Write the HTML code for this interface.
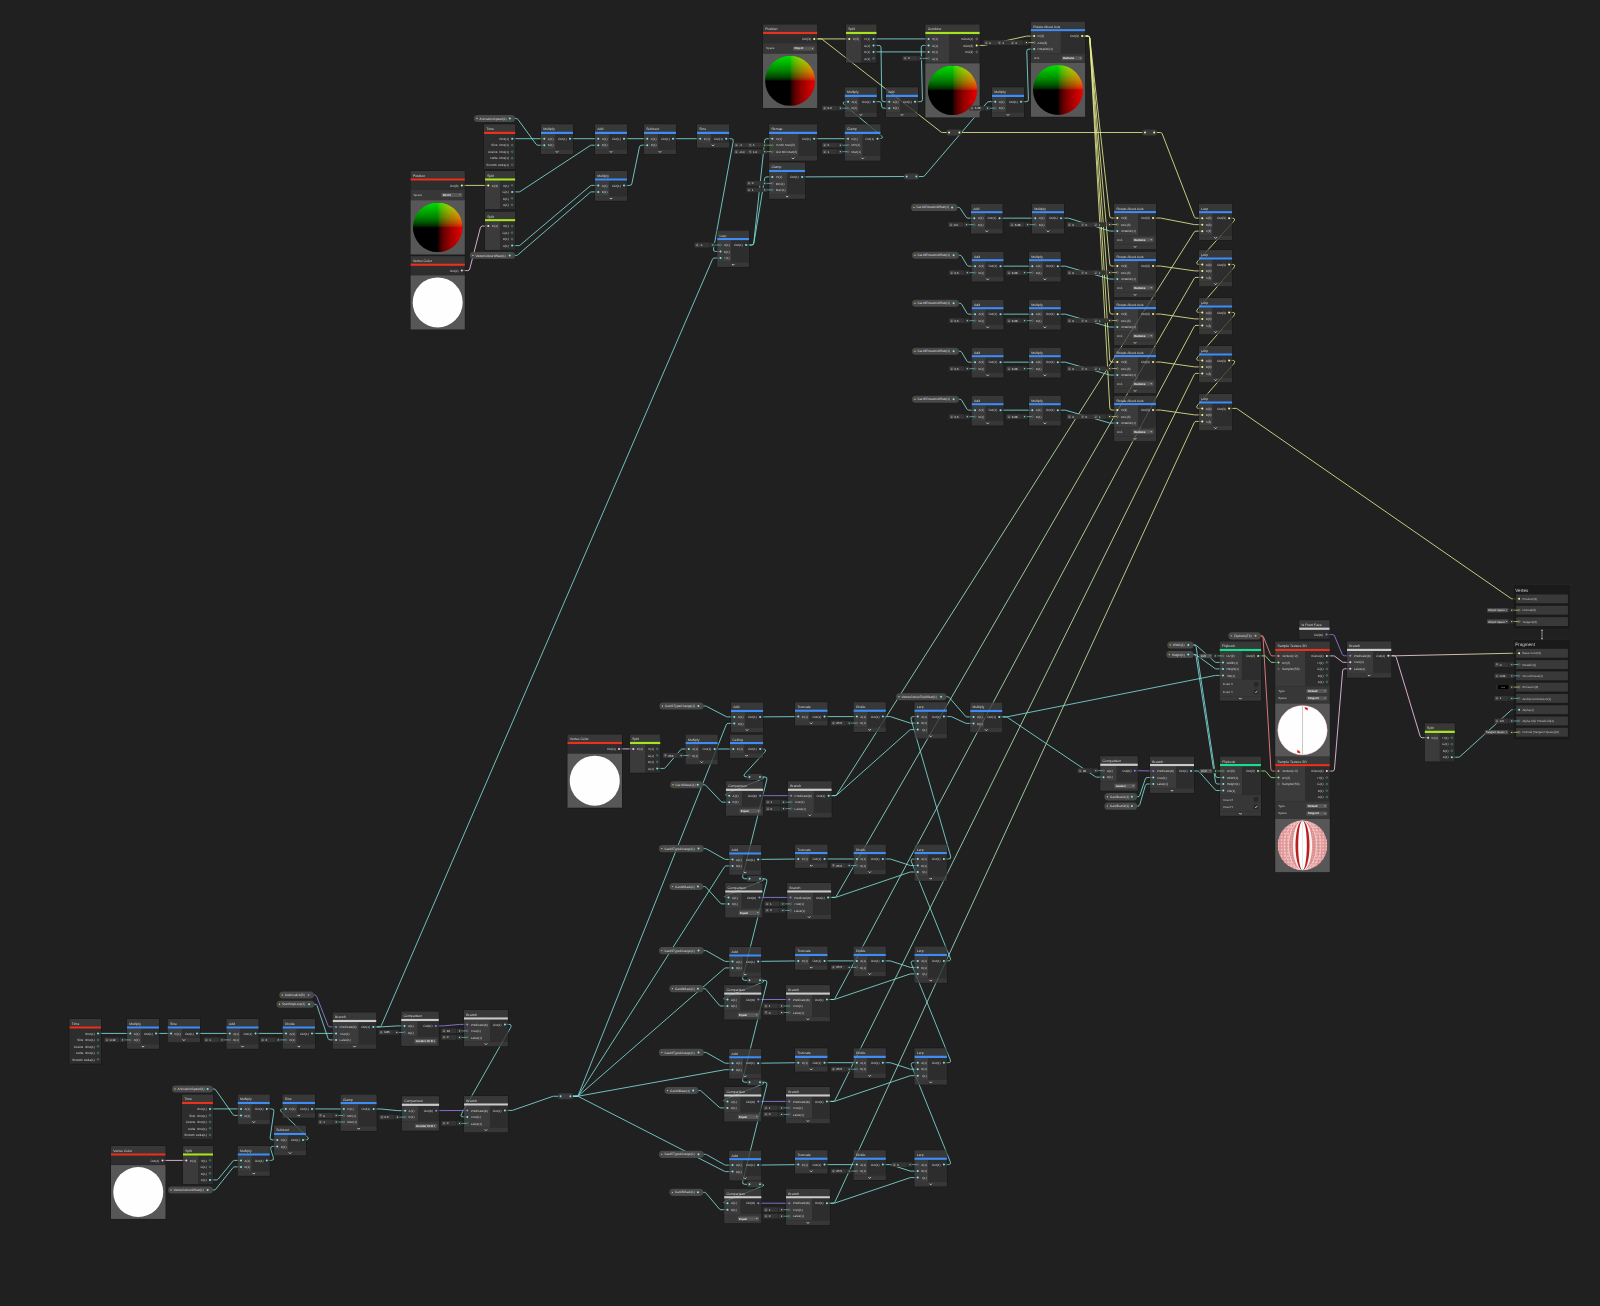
<!DOCTYPE html><html><head><meta charset="utf-8"><title>Shader Graph</title><style>html,body{margin:0;padding:0;background:#202020;overflow:hidden}svg{display:block}</style></head><body><svg width="1600" height="1306" viewBox="0 0 1600 1306" font-family="Liberation Sans, sans-serif" text-rendering="geometricPrecision"><defs><linearGradient id="gR" x1="0" x2="1" y1="0" y2="0"><stop offset="0" stop-color="#000"/><stop offset="0.03" stop-color="#200000"/><stop offset="0.15" stop-color="#500000"/><stop offset="0.4" stop-color="#8c0000"/><stop offset="0.7" stop-color="#bc0000"/><stop offset="0.92" stop-color="#e00000"/><stop offset="1" stop-color="#ee0000"/></linearGradient><linearGradient id="gG" x1="0" x2="0" y1="1" y2="0"><stop offset="0" stop-color="#000"/><stop offset="0.03" stop-color="#002000"/><stop offset="0.15" stop-color="#004a00"/><stop offset="0.4" stop-color="#008400"/><stop offset="0.7" stop-color="#00b400"/><stop offset="0.92" stop-color="#00d400"/><stop offset="1" stop-color="#00e000"/></linearGradient><pattern id="pdots" width="3.2" height="3.2" patternUnits="userSpaceOnUse"><circle cx="1.6" cy="1.6" r="0.75" fill="#f4d4d4"/><circle cx="0" cy="0" r="0.45" fill="#d77"/><circle cx="3.2" cy="0" r="0.45" fill="#d77"/><circle cx="0" cy="3.2" r="0.45" fill="#d77"/><circle cx="3.2" cy="3.2" r="0.45" fill="#d77"/></pattern><pattern id="pdots2" width="1.6" height="1.6" patternUnits="userSpaceOnUse"><rect x="0" y="0" width="0.8" height="0.8" fill="#f4d0d0" fill-opacity="0.55"/></pattern><clipPath id="c1"><circle cx="437.7" cy="227.35" r="24.8"/></clipPath><clipPath id="c3"><circle cx="790.1" cy="80.85" r="25"/></clipPath><clipPath id="c4"><circle cx="952.5" cy="90.35" r="24.75"/></clipPath><clipPath id="c5"><circle cx="1058" cy="89.9" r="25"/></clipPath><clipPath id="c9"><circle cx="1302.5" cy="845.4" r="24.8"/></clipPath><linearGradient id="e1" gradientUnits="userSpaceOnUse" x1="828.6" y1="795.65" x2="1202.3" y2="231.15"><stop offset="0" stop-color="#80E2DC"/><stop offset="1" stop-color="#E6EE90"/></linearGradient><linearGradient id="e2" gradientUnits="userSpaceOnUse" x1="828.15" y1="897.4" x2="1202.3" y2="277.4"><stop offset="0" stop-color="#80E2DC"/><stop offset="1" stop-color="#E6EE90"/></linearGradient><linearGradient id="e3" gradientUnits="userSpaceOnUse" x1="826.9" y1="999.5" x2="1202.3" y2="325.4"><stop offset="0" stop-color="#80E2DC"/><stop offset="1" stop-color="#E6EE90"/></linearGradient><linearGradient id="e4" gradientUnits="userSpaceOnUse" x1="826.9" y1="1101.4" x2="1202.3" y2="373.4"><stop offset="0" stop-color="#80E2DC"/><stop offset="1" stop-color="#E6EE90"/></linearGradient><linearGradient id="e5" gradientUnits="userSpaceOnUse" x1="826.9" y1="1203.2" x2="1202.3" y2="421.4"><stop offset="0" stop-color="#80E2DC"/><stop offset="1" stop-color="#E6EE90"/></linearGradient><linearGradient id="e6" gradientUnits="userSpaceOnUse" x1="1388.3" y1="655.8" x2="1519.1" y2="653.25"><stop offset="0" stop-color="#FBCBF4"/><stop offset="1" stop-color="#E6EE90"/></linearGradient></defs><g fill="none" stroke-linecap="round" stroke-linejoin="round" stroke-opacity="0.82"><path d="M509.8 118.5 L516.21 118.5 Q517.3 118.5 517.94 119.38 L536.16 144.32 Q536.8 145.2 537.89 145.2 L544.3 145.2" stroke="#80E2DC" stroke-width="1"/><path d="M512.2 138.7 L544.3 138.71" stroke="#80E2DC" stroke-width="1"/><path d="M570 138.7 L598.3 138.71" stroke="#80E2DC" stroke-width="1"/><path d="M512.1 191.9 L518.96 191.9 Q519.6 191.9 520.14 191.55 L590.26 145.55 Q590.8 145.2 591.44 145.2 L598.3 145.2" stroke="#80E2DC" stroke-width="1"/><path d="M624 138.7 L647.3 138.71" stroke="#80E2DC" stroke-width="1"/><path d="M624 185.4 L629.75 185.4 Q631.5 185.4 631.85 183.68 L639.45 146.92 Q639.8 145.2 641.55 145.2 L647.3 145.2" stroke="#80E2DC" stroke-width="1"/><path d="M673 138.7 L700.3 138.71" stroke="#80E2DC" stroke-width="1"/><path d="M512.1 245.6 L518.81 245.6 Q519.6 245.6 520.2 245.09 L590.2 185.91 Q590.8 185.4 591.59 185.4 L598.3 185.4" stroke="#80E2DC" stroke-width="1"/><path d="M509.7 255.4 L516.4 255.4 Q517.2 255.4 517.81 254.88 L590.19 192.42 Q590.8 191.9 591.6 191.9 L598.3 191.9" stroke="#80E2DC" stroke-width="1"/><path d="M461.8 185.4 L488.3 185.41" stroke="#E6EE90" stroke-width="1"/><path d="M461.8 270.6 L467.63 270.6 Q469.3 270.6 469.72 268.99 L480.38 227.71 Q480.8 226.1 482.47 226.1 L488.3 226.1" stroke="#FBCBF4" stroke-width="1"/><path d="M726.2 138.7 L731.12 138.7 Q733.7 138.7 733.24 141.24 L713.51 248.96 Q713.05 251.5 715.63 251.5 L720.55 251.5" stroke="#80E2DC" stroke-width="1"/><path d="M746.05 245 L751.62 245 Q753.55 245 753.76 243.08 L764.69 140.62 Q764.9 138.7 766.83 138.7 L772.4 138.7" stroke="#80E2DC" stroke-width="1"/><path d="M746.05 245 L751.73 245 Q753.55 245 753.85 243.2 L764.6 178.7 Q764.9 176.9 766.72 176.9 L772.4 176.9" stroke="#80E2DC" stroke-width="1"/><path d="M814.1 138.7 L848.05 138.71" stroke="#80E2DC" stroke-width="1"/><path d="M373.25 1026.9 L379.34 1026.9 Q380.75 1026.9 381.31 1025.6 L712.49 259.3 Q713.05 258 714.46 258 L720.55 258" stroke="#80E2DC" stroke-width="1"/><path d="M877.45 138.7 L879.02 138.7 Q884.95 138.7 880.39 134.9 L845.16 105.5 Q840.6 101.7 846.53 101.7 L848.1 101.7" stroke="#80E2DC" stroke-width="1"/><path d="M802.1 176.9 L906.6 176.51" stroke="#80E2DC" stroke-width="1"/><path d="M916.4 176.5 L922.91 176.5 Q923.9 176.5 924.54 175.75 L987.16 102.45 Q987.8 101.7 988.79 101.7 L995.3 101.7" stroke="#80E2DC" stroke-width="1"/><path d="M814.2 38.9 L849.3 38.91" stroke="#E6EE90" stroke-width="1"/><path d="M814.2 38.9 L820.96 38.9 Q821.7 38.9 822.28 39.36 L941.02 132.04 Q941.6 132.5 942.34 132.5 L949.1 132.5" stroke="#E6EE90" stroke-width="1"/><path d="M959.4 132.5 L1145 132.51" stroke="#E6EE90" stroke-width="1"/><path d="M873.5 38.9 L928.65 38.91" stroke="#80E2DC" stroke-width="1"/><path d="M873.5 45.4 L878.88 45.4 Q881 45.4 881.03 47.52 L881.77 99.58 Q881.8 101.7 883.92 101.7 L889.3 101.7" stroke="#80E2DC" stroke-width="1"/><path d="M873.5 51.9 L928.65 51.91" stroke="#80E2DC" stroke-width="1"/><path d="M873.8 101.7 L879.31 101.7 Q881.3 101.7 881.45 103.69 L881.65 106.21 Q881.8 108.2 883.79 108.2 L889.3 108.2" stroke="#80E2DC" stroke-width="1"/><path d="M915 101.7 L920.3 101.7 Q922.5 101.7 922.45 99.5 L921.2 47.6 Q921.15 45.4 923.35 45.4 L928.65 45.4" stroke="#80E2DC" stroke-width="1"/><path d="M976.65 45.4 L983.92 45.4 Q984.15 45.4 984.38 45.35 L1026.47 36.15 Q1026.7 36.1 1026.93 36.1 L1034.2 36.1" stroke="#E6EE90" stroke-width="1"/><path d="M1021 101.7 L1026.28 101.7 Q1028.5 101.7 1028.42 99.48 L1026.78 51.32 Q1026.7 49.1 1028.92 49.1 L1034.2 49.1" stroke="#80E2DC" stroke-width="1"/><path d="M1082.1 36.1 L1087.68 36.1 Q1089.6 36.1 1089.81 38.01 L1109.69 216.14 Q1109.9 218.05 1111.82 218.05 L1117.4 218.05" stroke="#E6EE90" stroke-width="1"/><path d="M952.1 207.38 L958.45 207.38 Q959.6 207.38 960.24 208.33 L966.16 217.19 Q966.8 218.15 967.95 218.15 L974.3 218.15" stroke="#80E2DC" stroke-width="1"/><path d="M999.5 218.15 L1035.3 218.16" stroke="#80E2DC" stroke-width="1"/><path d="M1061 218.15 L1068.17 218.15 Q1068.5 218.15 1068.81 218.25 L1109.59 230.95 Q1109.9 231.05 1110.23 231.05 L1117.4 231.05" stroke="#80E2DC" stroke-width="1"/><path d="M1153 218.05 L1160.3 218.05 Q1160.5 218.05 1160.7 218.09 L1194.6 224.61 Q1194.8 224.65 1195 224.65 L1202.3 224.65" stroke="#E6EE90" stroke-width="1"/><path d="M828.6 795.65 L834.92 795.65 Q836.1 795.65 836.73 794.65 L1194.17 232.15 Q1194.8 231.15 1195.98 231.15 L1202.3 231.15" stroke="url(#e1)" stroke-width="1"/><path d="M1154.2 132.5 L1160.23 132.5 Q1161.7 132.5 1162.23 133.87 L1194.27 216.78 Q1194.8 218.15 1196.27 218.15 L1202.3 218.15" stroke="#E6EE90" stroke-width="1"/><path d="M1082.1 36.1 L1087.63 36.1 Q1089.6 36.1 1089.77 38.06 L1109.73 264.09 Q1109.9 266.05 1111.87 266.05 L1117.4 266.05" stroke="#E6EE90" stroke-width="1"/><path d="M953.6 255.25 L959.87 255.25 Q961.1 255.25 961.72 256.31 L966.93 265.09 Q967.55 266.15 968.78 266.15 L975.05 266.15" stroke="#80E2DC" stroke-width="1"/><path d="M1000.5 266.15 L1032.3 266.16" stroke="#80E2DC" stroke-width="1"/><path d="M1057.75 266.15 L1064.95 266.15 Q1065.25 266.15 1065.54 266.23 L1109.61 278.97 Q1109.9 279.05 1110.2 279.05 L1117.4 279.05" stroke="#80E2DC" stroke-width="1"/><path d="M1153 266.05 L1160.35 266.05 Q1160.5 266.05 1160.65 266.07 L1194.65 270.88 Q1194.8 270.9 1194.95 270.9 L1202.3 270.9" stroke="#E6EE90" stroke-width="1"/><path d="M828.15 897.4 L834.41 897.4 Q835.65 897.4 836.27 896.33 L1194.18 278.47 Q1194.8 277.4 1196.04 277.4 L1202.3 277.4" stroke="url(#e2)" stroke-width="1"/><path d="M1229.1 218.15 L1231.76 218.15 Q1236.6 218.15 1233.35 221.74 L1198.05 260.81 Q1194.8 264.4 1199.64 264.4 L1202.3 264.4" stroke="#E6EE90" stroke-width="1"/><path d="M1082.1 36.1 L1087.6 36.1 Q1089.6 36.1 1089.75 38.09 L1109.75 312.06 Q1109.9 314.05 1111.9 314.05 L1117.4 314.05" stroke="#E6EE90" stroke-width="1"/><path d="M953.6 303.25 L959.87 303.25 Q961.1 303.25 961.72 304.31 L966.93 313.09 Q967.55 314.15 968.78 314.15 L975.05 314.15" stroke="#80E2DC" stroke-width="1"/><path d="M1000.5 314.15 L1032.3 314.16" stroke="#80E2DC" stroke-width="1"/><path d="M1057.75 314.15 L1064.95 314.15 Q1065.25 314.15 1065.54 314.23 L1109.61 326.97 Q1109.9 327.05 1110.2 327.05 L1117.4 327.05" stroke="#80E2DC" stroke-width="1"/><path d="M1153 314.05 L1160.35 314.05 Q1160.5 314.05 1160.65 314.07 L1194.65 318.88 Q1194.8 318.9 1194.95 318.9 L1202.3 318.9" stroke="#E6EE90" stroke-width="1"/><path d="M826.9 999.5 L833.11 999.5 Q834.4 999.5 835.01 998.36 L1194.19 326.54 Q1194.8 325.4 1196.09 325.4 L1202.3 325.4" stroke="url(#e3)" stroke-width="1"/><path d="M1229.1 264.4 L1231.88 264.4 Q1236.6 264.4 1233.5 267.96 L1197.9 308.84 Q1194.8 312.4 1199.52 312.4 L1202.3 312.4" stroke="#E6EE90" stroke-width="1"/><path d="M1082.1 36.1 L1087.58 36.1 Q1089.6 36.1 1089.73 38.12 L1109.77 360.03 Q1109.9 362.05 1111.92 362.05 L1117.4 362.05" stroke="#E6EE90" stroke-width="1"/><path d="M953.6 351.25 L959.87 351.25 Q961.1 351.25 961.72 352.31 L966.93 361.09 Q967.55 362.15 968.78 362.15 L975.05 362.15" stroke="#80E2DC" stroke-width="1"/><path d="M1000.5 362.15 L1032.3 362.16" stroke="#80E2DC" stroke-width="1"/><path d="M1057.75 362.15 L1064.95 362.15 Q1065.25 362.15 1065.54 362.23 L1109.61 374.97 Q1109.9 375.05 1110.2 375.05 L1117.4 375.05" stroke="#80E2DC" stroke-width="1"/><path d="M1153 362.05 L1160.35 362.05 Q1160.5 362.05 1160.65 362.07 L1194.65 366.88 Q1194.8 366.9 1194.95 366.9 L1202.3 366.9" stroke="#E6EE90" stroke-width="1"/><path d="M826.9 1101.4 L833.07 1101.4 Q834.4 1101.4 834.99 1100.2 L1194.21 374.6 Q1194.8 373.4 1196.13 373.4 L1202.3 373.4" stroke="url(#e4)" stroke-width="1"/><path d="M1229.1 312.4 L1231.88 312.4 Q1236.6 312.4 1233.5 315.96 L1197.9 356.84 Q1194.8 360.4 1199.52 360.4 L1202.3 360.4" stroke="#E6EE90" stroke-width="1"/><path d="M1082.1 36.1 L1087.56 36.1 Q1089.6 36.1 1089.71 38.13 L1109.79 408.02 Q1109.9 410.05 1111.94 410.05 L1117.4 410.05" stroke="#E6EE90" stroke-width="1"/><path d="M953.6 399.25 L959.87 399.25 Q961.1 399.25 961.72 400.31 L966.93 409.09 Q967.55 410.15 968.78 410.15 L975.05 410.15" stroke="#80E2DC" stroke-width="1"/><path d="M1000.5 410.15 L1032.3 410.16" stroke="#80E2DC" stroke-width="1"/><path d="M1057.75 410.15 L1064.95 410.15 Q1065.25 410.15 1065.54 410.23 L1109.61 422.97 Q1109.9 423.05 1110.2 423.05 L1117.4 423.05" stroke="#80E2DC" stroke-width="1"/><path d="M1153 410.05 L1160.35 410.05 Q1160.5 410.05 1160.65 410.07 L1194.65 414.88 Q1194.8 414.9 1194.95 414.9 L1202.3 414.9" stroke="#E6EE90" stroke-width="1"/><path d="M826.9 1203.2 L833.02 1203.2 Q834.4 1203.2 834.98 1201.95 L1194.22 422.65 Q1194.8 421.4 1196.18 421.4 L1202.3 421.4" stroke="url(#e5)" stroke-width="1"/><path d="M1229.1 360.4 L1231.88 360.4 Q1236.6 360.4 1233.5 363.96 L1197.9 404.84 Q1194.8 408.4 1199.52 408.4 L1202.3 408.4" stroke="#E6EE90" stroke-width="1"/><path d="M1229.1 408.4 L1235.93 408.4 Q1236.6 408.4 1237.15 408.78 L1511.05 598.47 Q1511.6 598.85 1512.27 598.85 L1519.1 598.85" stroke="#E6EE90" stroke-width="1"/><path d="M98 1033.4 L130.3 1033.41" stroke="#80E2DC" stroke-width="1"/><path d="M156 1033.4 L171.05 1033.41" stroke="#80E2DC" stroke-width="1"/><path d="M197 1033.4 L229.8 1033.41" stroke="#80E2DC" stroke-width="1"/><path d="M255.5 1033.4 L286.05 1033.41" stroke="#80E2DC" stroke-width="1"/><path d="M312 1033.4 L336.05 1033.41" stroke="#80E2DC" stroke-width="1"/><path d="M308.6 995 L314.63 995 Q316.1 995 316.63 996.37 L328.02 1025.53 Q328.55 1026.9 330.02 1026.9 L336.05 1026.9" stroke="#9481E6" stroke-width="1"/><path d="M309.1 1004.25 L315.05 1004.25 Q316.6 1004.25 317.09 1005.72 L328.06 1038.43 Q328.55 1039.9 330.1 1039.9 L336.05 1039.9" stroke="#80E2DC" stroke-width="1"/><path d="M373.25 1026.9 L380.68 1026.9 Q380.75 1026.9 380.82 1026.9 L396.98 1025.9 Q397.05 1025.9 397.12 1025.9 L404.55 1025.9" stroke="#80E2DC" stroke-width="1"/><path d="M435.75 1025.9 L443.15 1025.9 Q443.25 1025.9 443.35 1025.89 L459.7 1024.41 Q459.8 1024.4 459.9 1024.4 L467.3 1024.4" stroke="#9481E6" stroke-width="1"/><path d="M504.9 1024.4 L508.7 1024.4 Q512.4 1024.4 510.57 1027.61 L461.63 1113.69 Q459.8 1116.9 463.5 1116.9 L467.3 1116.9" stroke="#80E2DC" stroke-width="1"/><path d="M207.6 1089 L213.98 1089 Q215.1 1089 215.74 1089.92 L232.91 1114.48 Q233.55 1115.4 234.67 1115.4 L241.05 1115.4" stroke="#80E2DC" stroke-width="1"/><path d="M210 1108.9 L241.05 1108.91" stroke="#80E2DC" stroke-width="1"/><path d="M266.75 1108.9 L271.77 1108.9 Q274.25 1108.9 273.9 1111.36 L270.15 1137.44 Q269.8 1139.9 272.28 1139.9 L277.3 1139.9" stroke="#80E2DC" stroke-width="1"/><path d="M266.75 1160.4 L271.31 1160.4 Q274.25 1160.4 273.36 1157.6 L270.69 1149.2 Q269.8 1146.4 272.74 1146.4 L277.3 1146.4" stroke="#80E2DC" stroke-width="1"/><path d="M303 1139.9 L305.17 1139.9 Q310.5 1139.9 306.66 1136.2 L282.14 1112.6 Q278.3 1108.9 283.63 1108.9 L285.8 1108.9" stroke="#80E2DC" stroke-width="1"/><path d="M312 1108.9 L343.9 1109.01" stroke="#80E2DC" stroke-width="1"/><path d="M373.6 1109 L380.99 1109 Q381.1 1109 381.21 1109.01 L397.59 1110.64 Q397.7 1110.65 397.81 1110.65 L405.2 1110.65" stroke="#80E2DC" stroke-width="1"/><path d="M436.1 1110.65 L467.3 1110.41" stroke="#9481E6" stroke-width="1"/><path d="M210 1179.9 L216.49 1179.9 Q217.5 1179.9 218.15 1179.12 L232.9 1161.18 Q233.55 1160.4 234.56 1160.4 L241.05 1160.4" stroke="#80E2DC" stroke-width="1"/><path d="M207.6 1190 L214.07 1190 Q215.1 1190 215.75 1189.19 L232.9 1167.71 Q233.55 1166.9 234.58 1166.9 L241.05 1166.9" stroke="#80E2DC" stroke-width="1"/><path d="M162.5 1160.4 L186.3 1160.41" stroke="#FBCBF4" stroke-width="1"/><path d="M504.9 1110.4 L512.04 1110.4 Q512.4 1110.4 512.74 1110.28 L552.76 1096.37 Q553.1 1096.25 553.46 1096.25 L560.6 1096.25" stroke="#80E2DC" stroke-width="1"/><path d="M619 748.9 L633.3 748.91" stroke="#FBCBF4" stroke-width="1"/><path d="M657.25 768.4 L663.76 768.4 Q664.75 768.4 665.39 767.65 L680.76 749.75 Q681.4 749 682.39 749 L688.9 749" stroke="#80E2DC" stroke-width="1"/><path d="M714.7 749 L733.3 749.01" stroke="#80E2DC" stroke-width="1"/><path d="M760.1 749 L762.71 749 Q767.6 749 764.29 752.6 L745.31 773.3 Q742 776.9 746.89 776.9 L749.5 776.9" stroke="#80E2DC" stroke-width="1"/><path d="M941.1 696.75 L947.62 696.75 Q948.6 696.75 949.24 697.49 L965.41 716.16 Q966.05 716.9 967.03 716.9 L973.55 716.9" stroke="#80E2DC" stroke-width="1"/><path d="M943.9 716.6 L950.93 716.6 Q951.4 716.6 951.83 716.8 L965.62 723.2 Q966.05 723.4 966.52 723.4 L973.55 723.4" stroke="#80E2DC" stroke-width="1"/><path d="M999.25 716.9 L1006.54 716.9 Q1006.75 716.9 1006.96 716.86 L1215.29 675.44 Q1215.5 675.4 1215.71 675.4 L1223 675.4" stroke="#80E2DC" stroke-width="1"/><path d="M999.25 716.9 L1006.09 716.9 Q1006.75 716.9 1007.3 717.27 L1095.5 776.78 Q1096.05 777.15 1096.71 777.15 L1103.55 777.15" stroke="#80E2DC" stroke-width="1"/><path d="M698.35 706 L705.32 706 Q705.85 706 706.32 706.24 L726.33 716.66 Q726.8 716.9 727.33 716.9 L734.3 716.9" stroke="#80E2DC" stroke-width="1"/><path d="M570.4 1096.25 L576.44 1096.25 Q577.9 1096.25 578.44 1094.9 L726.26 724.75 Q726.8 723.4 728.26 723.4 L734.3 723.4" stroke="#80E2DC" stroke-width="1"/><path d="M760.1 716.9 L798.3 716.61" stroke="#80E2DC" stroke-width="1"/><path d="M824.5 716.6 L856.9 716.61" stroke="#80E2DC" stroke-width="1"/><path d="M882.8 716.6 L889.96 716.6 Q890.3 716.6 890.62 716.71 L909.98 722.99 Q910.3 723.1 910.64 723.1 L917.8 723.1" stroke="#80E2DC" stroke-width="1"/><path d="M760 776.9 L760 776.9 Q767.5 776.9 760.56 779.74 L728.64 792.81 Q721.7 795.65 729.2 795.65 L729.2 795.65" stroke="#80E2DC" stroke-width="1"/><path d="M697.7 784.75 L704.28 784.75 Q705.2 784.75 705.84 785.42 L721.06 801.48 Q721.7 802.15 722.62 802.15 L729.2 802.15" stroke="#80E2DC" stroke-width="1"/><path d="M760.1 795.65 L791.2 795.66" stroke="#9481E6" stroke-width="1"/><path d="M828.6 795.65 L835.28 795.65 Q836.1 795.65 836.71 795.11 L909.69 730.14 Q910.3 729.6 911.12 729.6 L917.8 729.6" stroke="#80E2DC" stroke-width="1"/><path d="M760 776.9 L764.75 776.9 Q767.5 776.9 766.83 779.57 L742.67 876.08 Q742 878.75 744.75 878.75 L749.5 878.75" stroke="#80E2DC" stroke-width="1"/><path d="M943.9 859 L948.54 859 Q951.4 859 950.61 856.25 L911.09 719.35 Q910.3 716.6 913.16 716.6 L917.8 716.6" stroke="#80E2DC" stroke-width="1"/><path d="M698.5 848.6 L705.43 848.6 Q706 848.6 706.49 848.88 L724.56 859.12 Q725.05 859.4 725.62 859.4 L732.55 859.4" stroke="#80E2DC" stroke-width="1"/><path d="M570.4 1096.25 L576.72 1096.25 Q577.9 1096.25 578.53 1095.26 L724.42 866.89 Q725.05 865.9 726.23 865.9 L732.55 865.9" stroke="#80E2DC" stroke-width="1"/><path d="M758.15 859.4 L798.3 859.01" stroke="#80E2DC" stroke-width="1"/><path d="M824.5 859 L856.9 859.01" stroke="#80E2DC" stroke-width="1"/><path d="M882.8 859 L889.96 859 Q890.3 859 890.62 859.11 L909.98 865.39 Q910.3 865.5 910.64 865.5 L917.8 865.5" stroke="#80E2DC" stroke-width="1"/><path d="M760 878.75 L760 878.75 Q767.5 878.75 760.54 881.54 L728.01 894.61 Q721.05 897.4 728.55 897.4 L728.55 897.4" stroke="#80E2DC" stroke-width="1"/><path d="M697.9 886.55 L704.44 886.55 Q705.4 886.55 706.04 887.26 L720.41 903.19 Q721.05 903.9 722.01 903.9 L728.55 903.9" stroke="#80E2DC" stroke-width="1"/><path d="M759.35 897.4 L790.55 897.41" stroke="#9481E6" stroke-width="1"/><path d="M828.15 897.4 L835.29 897.4 Q835.65 897.4 835.99 897.29 L909.96 872.11 Q910.3 872 910.66 872 L917.8 872" stroke="#80E2DC" stroke-width="1"/><path d="M760 878.75 L764.74 878.75 Q767.5 878.75 766.83 881.42 L742.67 977.63 Q742 980.3 744.76 980.3 L749.5 980.3" stroke="#80E2DC" stroke-width="1"/><path d="M943.9 960.9 L948.21 960.9 Q951.4 960.9 950.21 957.95 L911.49 861.95 Q910.3 859 913.49 859 L917.8 859" stroke="#80E2DC" stroke-width="1"/><path d="M698.5 950.6 L705.43 950.6 Q706 950.6 706.49 950.88 L724.56 961.12 Q725.05 961.4 725.62 961.4 L732.55 961.4" stroke="#80E2DC" stroke-width="1"/><path d="M570.4 1096.25 L577.09 1096.25 Q577.9 1096.25 578.51 1095.72 L724.44 968.43 Q725.05 967.9 725.86 967.9 L732.55 967.9" stroke="#80E2DC" stroke-width="1"/><path d="M758.15 961.4 L798.3 960.91" stroke="#80E2DC" stroke-width="1"/><path d="M824.5 960.9 L856.9 960.91" stroke="#80E2DC" stroke-width="1"/><path d="M882.8 960.9 L889.96 960.9 Q890.3 960.9 890.62 961.01 L909.98 967.29 Q910.3 967.4 910.64 967.4 L917.8 967.4" stroke="#80E2DC" stroke-width="1"/><path d="M760 980.3 L760 980.3 Q767.5 980.3 760.55 983.11 L726.95 996.69 Q720 999.5 727.5 999.5 L727.5 999.5" stroke="#80E2DC" stroke-width="1"/><path d="M697.9 988.65 L704.4 988.65 Q705.4 988.65 706.04 989.42 L719.36 1005.23 Q720 1006 721 1006 L727.5 1006" stroke="#80E2DC" stroke-width="1"/><path d="M758.3 999.5 L789.3 999.51" stroke="#9481E6" stroke-width="1"/><path d="M826.9 999.5 L834.05 999.5 Q834.4 999.5 834.73 999.39 L909.97 974.01 Q910.3 973.9 910.65 973.9 L917.8 973.9" stroke="#80E2DC" stroke-width="1"/><path d="M760 980.3 L764.75 980.3 Q767.5 980.3 766.83 982.97 L742.67 1079.53 Q742 1082.2 744.75 1082.2 L749.5 1082.2" stroke="#80E2DC" stroke-width="1"/><path d="M943.9 1062.7 L948.21 1062.7 Q951.4 1062.7 950.21 1059.75 L911.49 963.85 Q910.3 960.9 913.49 960.9 L917.8 960.9" stroke="#80E2DC" stroke-width="1"/><path d="M698.5 1052.4 L705.43 1052.4 Q706 1052.4 706.49 1052.68 L724.56 1062.92 Q725.05 1063.2 725.62 1063.2 L732.55 1063.2" stroke="#80E2DC" stroke-width="1"/><path d="M570.4 1096.25 L577.71 1096.25 Q577.9 1096.25 578.09 1096.22 L724.86 1069.73 Q725.05 1069.7 725.24 1069.7 L732.55 1069.7" stroke="#80E2DC" stroke-width="1"/><path d="M758.15 1063.2 L798.3 1062.71" stroke="#80E2DC" stroke-width="1"/><path d="M824.5 1062.7 L856.9 1062.71" stroke="#80E2DC" stroke-width="1"/><path d="M882.8 1062.7 L889.96 1062.7 Q890.3 1062.7 890.62 1062.81 L909.98 1069.09 Q910.3 1069.2 910.64 1069.2 L917.8 1069.2" stroke="#80E2DC" stroke-width="1"/><path d="M760 1082.2 L760 1082.2 Q767.5 1082.2 760.55 1085.01 L726.95 1098.59 Q720 1101.4 727.5 1101.4 L727.5 1101.4" stroke="#80E2DC" stroke-width="1"/><path d="M693.2 1090.55 L699.88 1090.55 Q700.7 1090.55 701.31 1091.1 L719.39 1107.35 Q720 1107.9 720.82 1107.9 L727.5 1107.9" stroke="#80E2DC" stroke-width="1"/><path d="M758.3 1101.4 L789.3 1101.41" stroke="#9481E6" stroke-width="1"/><path d="M826.9 1101.4 L834.05 1101.4 Q834.4 1101.4 834.74 1101.29 L909.96 1075.81 Q910.3 1075.7 910.65 1075.7 L917.8 1075.7" stroke="#80E2DC" stroke-width="1"/><path d="M760 1082.2 L764.75 1082.2 Q767.5 1082.2 766.83 1084.87 L742.67 1181.63 Q742 1184.3 744.75 1184.3 L749.5 1184.3" stroke="#80E2DC" stroke-width="1"/><path d="M943.9 1164.6 L948.21 1164.6 Q951.4 1164.6 950.21 1161.65 L911.49 1065.65 Q910.3 1062.7 913.49 1062.7 L917.8 1062.7" stroke="#80E2DC" stroke-width="1"/><path d="M698.5 1154.3 L705.43 1154.3 Q706 1154.3 706.49 1154.58 L724.56 1164.82 Q725.05 1165.1 725.62 1165.1 L732.55 1165.1" stroke="#80E2DC" stroke-width="1"/><path d="M570.4 1096.25 L577.38 1096.25 Q577.9 1096.25 578.36 1096.49 L724.59 1171.36 Q725.05 1171.6 725.57 1171.6 L732.55 1171.6" stroke="#80E2DC" stroke-width="1"/><path d="M758.15 1165.1 L798.3 1164.61" stroke="#80E2DC" stroke-width="1"/><path d="M824.5 1164.6 L856.9 1164.61" stroke="#80E2DC" stroke-width="1"/><path d="M882.8 1164.6 L889.96 1164.6 Q890.3 1164.6 890.62 1164.71 L909.98 1170.99 Q910.3 1171.1 910.64 1171.1 L917.8 1171.1" stroke="#80E2DC" stroke-width="1"/><path d="M760 1184.3 L760 1184.3 Q767.5 1184.3 760.53 1187.07 L726.97 1200.43 Q720 1203.2 727.5 1203.2 L727.5 1203.2" stroke="#80E2DC" stroke-width="1"/><path d="M697.9 1192.35 L704.4 1192.35 Q705.4 1192.35 706.04 1193.12 L719.36 1208.93 Q720 1209.7 721 1209.7 L727.5 1209.7" stroke="#80E2DC" stroke-width="1"/><path d="M758.3 1203.2 L789.3 1203.21" stroke="#9481E6" stroke-width="1"/><path d="M826.9 1203.2 L834.05 1203.2 Q834.4 1203.2 834.73 1203.09 L909.97 1177.71 Q910.3 1177.6 910.65 1177.6 L917.8 1177.6" stroke="#80E2DC" stroke-width="1"/><path d="M1134.75 770.65 L1153.3 771.01" stroke="#9481E6" stroke-width="1"/><path d="M1131.85 796.75 L1137.8 796.75 Q1139.35 796.75 1139.84 795.28 L1145.31 778.97 Q1145.8 777.5 1147.35 777.5 L1153.3 777.5" stroke="#80E2DC" stroke-width="1"/><path d="M1131.85 806.12 L1137.74 806.12 Q1139.35 806.12 1139.8 804.58 L1145.35 785.55 Q1145.8 784 1147.41 784 L1153.3 784" stroke="#80E2DC" stroke-width="1"/><path d="M1191 771 L1197.53 771 Q1198.5 771 1199.14 771.72 L1215.16 789.78 Q1215.8 790.5 1216.77 790.5 L1223.3 790.5" stroke="#80E2DC" stroke-width="1"/><path d="M1188.3 644.95 L1194.98 644.95 Q1195.8 644.95 1196.41 645.49 L1214.89 661.86 Q1215.5 662.4 1216.32 662.4 L1223 662.4" stroke="#80E2DC" stroke-width="1"/><path d="M1188.3 654.55 L1195.1 654.55 Q1195.8 654.55 1196.37 654.96 L1214.93 668.49 Q1215.5 668.9 1216.2 668.9 L1223 668.9" stroke="#80E2DC" stroke-width="1"/><path d="M1188.3 644.95 L1193.95 644.95 Q1195.8 644.95 1196.08 646.78 L1215.52 775.67 Q1215.8 777.5 1217.65 777.5 L1223.3 777.5" stroke="#80E2DC" stroke-width="1"/><path d="M1188.3 654.55 L1193.96 654.55 Q1195.8 654.55 1196.08 656.37 L1215.52 782.18 Q1215.8 784 1217.64 784 L1223.3 784" stroke="#80E2DC" stroke-width="1"/><path d="M1255.5 635.8 L1261.54 635.8 Q1263 635.8 1263.54 637.15 L1270.46 654.55 Q1271 655.9 1272.46 655.9 L1278.5 655.9" stroke="#FF8B8B" stroke-width="1"/><path d="M1255.5 635.8 L1260.97 635.8 Q1263 635.8 1263.12 637.82 L1270.88 769.08 Q1271 771.1 1273.03 771.1 L1278.5 771.1" stroke="#FF8B8B" stroke-width="1"/><path d="M1258.1 655.9 L1264.59 655.9 Q1265.6 655.9 1266.24 656.68 L1270.36 661.62 Q1271 662.4 1272.01 662.4 L1278.5 662.4" stroke="#9AEF92" stroke-width="1"/><path d="M1258 771 L1264.49 771 Q1265.5 771 1266.14 771.77 L1270.36 776.83 Q1271 777.6 1272.01 777.6 L1278.5 777.6" stroke="#9AEF92" stroke-width="1"/><path d="M1326.8 655.9 L1333.58 655.9 Q1334.3 655.9 1334.87 656.33 L1342.23 661.87 Q1342.8 662.3 1343.52 662.3 L1350.3 662.3" stroke="#FBCBF4" stroke-width="1"/><path d="M1326.8 771.1 L1332.32 771.1 Q1334.3 771.1 1334.46 769.13 L1342.64 670.77 Q1342.8 668.8 1344.78 668.8 L1350.3 668.8" stroke="#FBCBF4" stroke-width="1"/><path d="M1326.5 634.6 L1332.56 634.6 Q1334 634.6 1334.55 635.93 L1342.25 654.47 Q1342.8 655.8 1344.24 655.8 L1350.3 655.8" stroke="#9481E6" stroke-width="1"/><path d="M1388.3 655.8 L1395.78 655.8 Q1395.8 655.8 1395.82 655.8 L1511.58 653.25 Q1511.6 653.25 1511.62 653.25 L1519.1 653.25" stroke="url(#e6)" stroke-width="1"/><path d="M1388.3 655.8 L1394.2 655.8 Q1395.8 655.8 1396.26 657.33 L1420.14 736.17 Q1420.6 737.7 1422.2 737.7 L1428.1 737.7" stroke="#FBCBF4" stroke-width="1"/><path d="M1451.8 757.2 L1458.47 757.2 Q1459.3 757.2 1459.91 756.64 L1510.99 710.26 Q1511.6 709.7 1512.43 709.7 L1519.1 709.7" stroke="#80E2DC" stroke-width="1"/></g><g opacity="0.999"><rect x="474" y="115" width="41.2" height="7" fill="#494949" rx="3.5"/><circle cx="477" cy="118.5" r="0.65" fill="#B5E655"/><text x="479.6" y="119.6" font-size="3.15" fill="#d8d8d8">AnimationSpeed(1)</text><circle cx="509.8" cy="118.5" r="1" fill="#84E4E7"/><g><rect x="483.7" y="124" width="31.8" height="45.3" fill="none" stroke="#181818" stroke-opacity="0.55" stroke-width="0.6"/><rect x="484" y="124.3" width="31.2" height="7.4" fill="rgba(64,64,64,0.8)"/><text x="486.3" y="130.25" font-size="3.45" fill="#dadada">Time</text><rect x="484" y="131.7" width="31.2" height="2.3" fill="#E8341F"/><rect x="484" y="134" width="31.2" height="35" fill="rgba(50,50,50,0.8)"/><circle cx="512.2" cy="138.7" r="1" fill="#84E4E7"/><text x="508.9" y="139.8" font-size="3.1" fill="#cccccc" text-anchor="end">Time(1)</text><circle cx="512.2" cy="145.2" r="0.85" fill="#262626" stroke="#84E4E7" stroke-width="0.45" stroke-opacity="0.75"/><text x="508.9" y="146.3" font-size="3.1" fill="#cccccc" text-anchor="end">Sine Time(1)</text><circle cx="512.2" cy="151.7" r="0.85" fill="#262626" stroke="#84E4E7" stroke-width="0.45" stroke-opacity="0.75"/><text x="508.9" y="152.8" font-size="3.1" fill="#cccccc" text-anchor="end">Cosine Time(1)</text><circle cx="512.2" cy="158.2" r="0.85" fill="#262626" stroke="#84E4E7" stroke-width="0.45" stroke-opacity="0.75"/><text x="508.9" y="159.3" font-size="3.1" fill="#cccccc" text-anchor="end">Delta Time(1)</text><circle cx="512.2" cy="164.7" r="0.85" fill="#262626" stroke="#84E4E7" stroke-width="0.45" stroke-opacity="0.75"/><text x="508.9" y="165.8" font-size="3.1" fill="#cccccc" text-anchor="end">Smooth Delta(1)</text></g><g><rect x="540.7" y="124" width="32.6" height="30.4" fill="none" stroke="#181818" stroke-opacity="0.55" stroke-width="0.6"/><rect x="541" y="124.3" width="32" height="7.4" fill="rgba(64,64,64,0.8)"/><text x="543.3" y="130.25" font-size="3.45" fill="#dadada">Multiply</text><rect x="541" y="131.7" width="32" height="2.3" fill="#3F8EF5"/><rect x="541" y="134" width="14" height="15.5" fill="rgba(67,67,67,0.8)"/><rect x="555" y="134" width="18" height="15.5" fill="rgba(50,50,50,0.8)"/><circle cx="544.3" cy="138.7" r="1" fill="#84E4E7"/><text x="547.7" y="139.8" font-size="3.1" fill="#cccccc">A(1)</text><circle cx="544.3" cy="145.2" r="1" fill="#84E4E7"/><text x="547.7" y="146.3" font-size="3.1" fill="#cccccc">B(1)</text><circle cx="570" cy="138.7" r="1" fill="#84E4E7"/><text x="566.7" y="139.8" font-size="3.1" fill="#cccccc" text-anchor="end">Out(1)</text><rect x="541" y="149.5" width="32" height="4.6" fill="rgba(62,62,62,0.8)"/><path d="M555.75 151.2 l1.25 1.25 l1.25 -1.25" fill="none" stroke="#dcdcdc" stroke-width="0.85"/></g><g><rect x="594.7" y="124" width="32.6" height="30.4" fill="none" stroke="#181818" stroke-opacity="0.55" stroke-width="0.6"/><rect x="595" y="124.3" width="32" height="7.4" fill="rgba(64,64,64,0.8)"/><text x="597.3" y="130.25" font-size="3.45" fill="#dadada">Add</text><rect x="595" y="131.7" width="32" height="2.3" fill="#3F8EF5"/><rect x="595" y="134" width="14" height="15.5" fill="rgba(67,67,67,0.8)"/><rect x="609" y="134" width="18" height="15.5" fill="rgba(50,50,50,0.8)"/><circle cx="598.3" cy="138.7" r="1" fill="#84E4E7"/><text x="601.7" y="139.8" font-size="3.1" fill="#cccccc">A(1)</text><circle cx="598.3" cy="145.2" r="1" fill="#84E4E7"/><text x="601.7" y="146.3" font-size="3.1" fill="#cccccc">B(1)</text><circle cx="624" cy="138.7" r="1" fill="#84E4E7"/><text x="620.7" y="139.8" font-size="3.1" fill="#cccccc" text-anchor="end">Out(1)</text><rect x="595" y="149.5" width="32" height="4.6" fill="rgba(62,62,62,0.8)"/><path d="M609.75 151.2 l1.25 1.25 l1.25 -1.25" fill="none" stroke="#dcdcdc" stroke-width="0.85"/></g><g><rect x="643.7" y="124" width="32.6" height="30.4" fill="none" stroke="#181818" stroke-opacity="0.55" stroke-width="0.6"/><rect x="644" y="124.3" width="32" height="7.4" fill="rgba(64,64,64,0.8)"/><text x="646.3" y="130.25" font-size="3.45" fill="#dadada">Subtract</text><rect x="644" y="131.7" width="32" height="2.3" fill="#3F8EF5"/><rect x="644" y="134" width="14" height="15.5" fill="rgba(67,67,67,0.8)"/><rect x="658" y="134" width="18" height="15.5" fill="rgba(50,50,50,0.8)"/><circle cx="647.3" cy="138.7" r="1" fill="#84E4E7"/><text x="650.7" y="139.8" font-size="3.1" fill="#cccccc">A(1)</text><circle cx="647.3" cy="145.2" r="1" fill="#84E4E7"/><text x="650.7" y="146.3" font-size="3.1" fill="#cccccc">B(1)</text><circle cx="673" cy="138.7" r="1" fill="#84E4E7"/><text x="669.7" y="139.8" font-size="3.1" fill="#cccccc" text-anchor="end">Out(1)</text><rect x="644" y="149.5" width="32" height="4.6" fill="rgba(62,62,62,0.8)"/><path d="M658.75 151.2 l1.25 1.25 l1.25 -1.25" fill="none" stroke="#dcdcdc" stroke-width="0.85"/></g><g><rect x="696.7" y="124" width="32.8" height="23.9" fill="none" stroke="#181818" stroke-opacity="0.55" stroke-width="0.6"/><rect x="697" y="124.3" width="32.2" height="7.4" fill="rgba(64,64,64,0.8)"/><text x="699.3" y="130.25" font-size="3.45" fill="#dadada">Sine</text><rect x="697" y="131.7" width="32.2" height="2.3" fill="#3F8EF5"/><rect x="697" y="134" width="14.5" height="9" fill="rgba(67,67,67,0.8)"/><rect x="711.5" y="134" width="17.7" height="9" fill="rgba(50,50,50,0.8)"/><circle cx="700.3" cy="138.7" r="1" fill="#84E4E7"/><text x="703.7" y="139.8" font-size="3.1" fill="#cccccc">In(1)</text><circle cx="726.2" cy="138.7" r="1" fill="#84E4E7"/><text x="722.9" y="139.8" font-size="3.1" fill="#cccccc" text-anchor="end">Out(1)</text><rect x="697" y="143" width="32.2" height="4.6" fill="rgba(62,62,62,0.8)"/><path d="M711.85 144.7 l1.25 1.25 l1.25 -1.25" fill="none" stroke="#dcdcdc" stroke-width="0.85"/></g><g><rect x="768.8" y="124" width="48.6" height="36.9" fill="none" stroke="#181818" stroke-opacity="0.55" stroke-width="0.6"/><rect x="769.1" y="124.3" width="48" height="7.4" fill="rgba(64,64,64,0.8)"/><text x="771.4" y="130.25" font-size="3.45" fill="#dadada">Remap</text><rect x="769.1" y="131.7" width="48" height="2.3" fill="#3F8EF5"/><rect x="769.1" y="134" width="29.6" height="22" fill="rgba(67,67,67,0.8)"/><rect x="798.7" y="134" width="18.4" height="22" fill="rgba(50,50,50,0.8)"/><circle cx="772.4" cy="138.7" r="1" fill="#84E4E7"/><text x="775.8" y="139.8" font-size="3.1" fill="#cccccc">In(1)</text><circle cx="772.4" cy="145.2" r="0.85" fill="#262626" stroke="#9AEF92" stroke-width="0.45" stroke-opacity="0.75"/><text x="775.8" y="146.3" font-size="3.1" fill="#cccccc">In Min Max(2)</text><circle cx="772.4" cy="151.7" r="0.85" fill="#262626" stroke="#9AEF92" stroke-width="0.45" stroke-opacity="0.75"/><text x="775.8" y="152.8" font-size="3.1" fill="#cccccc">Out Min Max(2)</text><circle cx="814.1" cy="138.7" r="1" fill="#84E4E7"/><text x="810.8" y="139.8" font-size="3.1" fill="#cccccc" text-anchor="end">Out(1)</text><rect x="769.1" y="156" width="48" height="4.6" fill="rgba(62,62,62,0.8)"/><path d="M791.85 157.7 l1.25 1.25 l1.25 -1.25" fill="none" stroke="#dcdcdc" stroke-width="0.85"/></g><g><rect x="844.45" y="124" width="36.3" height="36.9" fill="none" stroke="#181818" stroke-opacity="0.55" stroke-width="0.6"/><rect x="844.75" y="124.3" width="35.7" height="7.4" fill="rgba(64,64,64,0.8)"/><text x="847.05" y="130.25" font-size="3.45" fill="#dadada">Clamp</text><rect x="844.75" y="131.7" width="35.7" height="2.3" fill="#3F8EF5"/><rect x="844.75" y="134" width="18" height="22" fill="rgba(67,67,67,0.8)"/><rect x="862.75" y="134" width="17.7" height="22" fill="rgba(50,50,50,0.8)"/><circle cx="848.05" cy="138.7" r="1" fill="#84E4E7"/><text x="851.45" y="139.8" font-size="3.1" fill="#cccccc">In(1)</text><circle cx="848.05" cy="145.2" r="0.85" fill="#262626" stroke="#84E4E7" stroke-width="0.45" stroke-opacity="0.75"/><text x="851.45" y="146.3" font-size="3.1" fill="#cccccc">Min(1)</text><circle cx="848.05" cy="151.7" r="0.85" fill="#262626" stroke="#84E4E7" stroke-width="0.45" stroke-opacity="0.75"/><text x="851.45" y="152.8" font-size="3.1" fill="#cccccc">Max(1)</text><circle cx="877.45" cy="138.7" r="1" fill="#84E4E7"/><text x="874.15" y="139.8" font-size="3.1" fill="#cccccc" text-anchor="end">Out(1)</text><rect x="844.75" y="156" width="35.7" height="4.6" fill="rgba(62,62,62,0.8)"/><path d="M861.35 157.7 l1.25 1.25 l1.25 -1.25" fill="none" stroke="#dcdcdc" stroke-width="0.85"/></g><g><rect x="768.8" y="162.2" width="36.6" height="36.9" fill="none" stroke="#181818" stroke-opacity="0.55" stroke-width="0.6"/><rect x="769.1" y="162.5" width="36" height="7.4" fill="rgba(64,64,64,0.8)"/><text x="771.4" y="168.45" font-size="3.45" fill="#dadada">Clamp</text><rect x="769.1" y="169.9" width="36" height="2.3" fill="#3F8EF5"/><rect x="769.1" y="172.2" width="18" height="22" fill="rgba(67,67,67,0.8)"/><rect x="787.1" y="172.2" width="18" height="22" fill="rgba(50,50,50,0.8)"/><circle cx="772.4" cy="176.9" r="1" fill="#84E4E7"/><text x="775.8" y="178" font-size="3.1" fill="#cccccc">In(1)</text><circle cx="772.4" cy="183.4" r="0.85" fill="#262626" stroke="#84E4E7" stroke-width="0.45" stroke-opacity="0.75"/><text x="775.8" y="184.5" font-size="3.1" fill="#cccccc">Min(1)</text><circle cx="772.4" cy="189.9" r="0.85" fill="#262626" stroke="#84E4E7" stroke-width="0.45" stroke-opacity="0.75"/><text x="775.8" y="191" font-size="3.1" fill="#cccccc">Max(1)</text><circle cx="802.1" cy="176.9" r="1" fill="#84E4E7"/><text x="798.8" y="178" font-size="3.1" fill="#cccccc" text-anchor="end">Out(1)</text><rect x="769.1" y="194.2" width="36" height="4.6" fill="rgba(62,62,62,0.8)"/><path d="M785.85 195.9 l1.25 1.25 l1.25 -1.25" fill="none" stroke="#dcdcdc" stroke-width="0.85"/></g><g><rect x="410.3" y="170.7" width="54.8" height="84.1" fill="none" stroke="#181818" stroke-opacity="0.55" stroke-width="0.6"/><rect x="410.6" y="171" width="54.2" height="7.4" fill="rgba(64,64,64,0.8)"/><text x="412.9" y="176.95" font-size="3.45" fill="#dadada">Position</text><rect x="410.6" y="178.4" width="54.2" height="2.3" fill="#E8341F"/><rect x="410.6" y="180.7" width="54.2" height="9" fill="rgba(50,50,50,0.8)"/><circle cx="461.8" cy="185.4" r="1" fill="#F6FF9A"/><text x="458.5" y="186.5" font-size="3.1" fill="#cccccc" text-anchor="end">Out(3)</text><rect x="410.6" y="189.7" width="54.2" height="10.5" fill="rgba(62,62,62,0.8)"/><text x="413.6" y="195.95" font-size="3" fill="#c8c8c8">Space</text><rect x="441.5" y="192.95" width="20.7" height="4" fill="#565656" rx="0.5"/><text x="442.7" y="195.95" font-size="2.9" fill="#e6e6e6" font-weight="bold">World</text><path d="M459.2 194.45 l1.6 0 l-0.8 1.1 z" fill="#d0d0d0"/><rect x="410.6" y="200.2" width="54.2" height="54.3" fill="#585858"/><g clip-path="url(#c1)"><rect x="412.9" y="202.55" width="49.6" height="49.6" fill="#000"/><rect x="0" y="-1" width="1" height="2" fill="url(#gR)" transform="translate(437.7 227.35) scale(24.8)"/><rect x="-1" y="-1" width="2" height="1" fill="url(#gG)" style="mix-blend-mode:screen" transform="translate(437.7 227.35) scale(24.8)"/></g></g><g><rect x="484.7" y="170.7" width="30.7" height="38.8" fill="none" stroke="#181818" stroke-opacity="0.55" stroke-width="0.6"/><rect x="485" y="171" width="30.1" height="7.4" fill="rgba(64,64,64,0.8)"/><text x="487.3" y="176.95" font-size="3.45" fill="#dadada">Split</text><rect x="485" y="178.4" width="30.1" height="2.3" fill="#A7E522"/><rect x="485" y="180.7" width="15" height="28.5" fill="rgba(67,67,67,0.8)"/><rect x="500" y="180.7" width="15.1" height="28.5" fill="rgba(50,50,50,0.8)"/><circle cx="488.3" cy="185.4" r="1" fill="#F6FF9A"/><text x="491.7" y="186.5" font-size="3.1" fill="#cccccc">In(3)</text><circle cx="512.1" cy="185.4" r="0.85" fill="#262626" stroke="#84E4E7" stroke-width="0.45" stroke-opacity="0.75"/><text x="508.8" y="186.5" font-size="3.1" fill="#cccccc" text-anchor="end">R(1)</text><circle cx="512.1" cy="191.9" r="1" fill="#84E4E7"/><text x="508.8" y="193" font-size="3.1" fill="#cccccc" text-anchor="end">G(1)</text><circle cx="512.1" cy="198.4" r="0.85" fill="#262626" stroke="#84E4E7" stroke-width="0.45" stroke-opacity="0.75"/><text x="508.8" y="199.5" font-size="3.1" fill="#cccccc" text-anchor="end">B(1)</text><circle cx="512.1" cy="204.9" r="0.85" fill="#262626" stroke="#84E4E7" stroke-width="0.45" stroke-opacity="0.75"/><text x="508.8" y="206" font-size="3.1" fill="#cccccc" text-anchor="end">A(1)</text></g><g><rect x="484.7" y="211.4" width="30.7" height="38.8" fill="none" stroke="#181818" stroke-opacity="0.55" stroke-width="0.6"/><rect x="485" y="211.7" width="30.1" height="7.4" fill="rgba(64,64,64,0.8)"/><text x="487.3" y="217.65" font-size="3.45" fill="#dadada">Split</text><rect x="485" y="219.1" width="30.1" height="2.3" fill="#A7E522"/><rect x="485" y="221.4" width="15" height="28.5" fill="rgba(67,67,67,0.8)"/><rect x="500" y="221.4" width="15.1" height="28.5" fill="rgba(50,50,50,0.8)"/><circle cx="488.3" cy="226.1" r="1" fill="#FBCBF4"/><text x="491.7" y="227.2" font-size="3.1" fill="#cccccc">In(4)</text><circle cx="512.1" cy="226.1" r="0.85" fill="#262626" stroke="#84E4E7" stroke-width="0.45" stroke-opacity="0.75"/><text x="508.8" y="227.2" font-size="3.1" fill="#cccccc" text-anchor="end">R(1)</text><circle cx="512.1" cy="232.6" r="0.85" fill="#262626" stroke="#84E4E7" stroke-width="0.45" stroke-opacity="0.75"/><text x="508.8" y="233.7" font-size="3.1" fill="#cccccc" text-anchor="end">G(1)</text><circle cx="512.1" cy="239.1" r="0.85" fill="#262626" stroke="#84E4E7" stroke-width="0.45" stroke-opacity="0.75"/><text x="508.8" y="240.2" font-size="3.1" fill="#cccccc" text-anchor="end">B(1)</text><circle cx="512.1" cy="245.6" r="1" fill="#84E4E7"/><text x="508.8" y="246.7" font-size="3.1" fill="#cccccc" text-anchor="end">A(1)</text></g><g><rect x="594.7" y="170.7" width="32.6" height="30.4" fill="none" stroke="#181818" stroke-opacity="0.55" stroke-width="0.6"/><rect x="595" y="171" width="32" height="7.4" fill="rgba(64,64,64,0.8)"/><text x="597.3" y="176.95" font-size="3.45" fill="#dadada">Multiply</text><rect x="595" y="178.4" width="32" height="2.3" fill="#3F8EF5"/><rect x="595" y="180.7" width="14" height="15.5" fill="rgba(67,67,67,0.8)"/><rect x="609" y="180.7" width="18" height="15.5" fill="rgba(50,50,50,0.8)"/><circle cx="598.3" cy="185.4" r="1" fill="#84E4E7"/><text x="601.7" y="186.5" font-size="3.1" fill="#cccccc">A(1)</text><circle cx="598.3" cy="191.9" r="1" fill="#84E4E7"/><text x="601.7" y="193" font-size="3.1" fill="#cccccc">B(1)</text><circle cx="624" cy="185.4" r="1" fill="#84E4E7"/><text x="620.7" y="186.5" font-size="3.1" fill="#cccccc" text-anchor="end">Out(1)</text><rect x="595" y="196.2" width="32" height="4.6" fill="rgba(62,62,62,0.8)"/><path d="M609.75 197.9 l1.25 1.25 l1.25 -1.25" fill="none" stroke="#dcdcdc" stroke-width="0.85"/></g><g><rect x="410.3" y="255.9" width="54.8" height="73.9" fill="none" stroke="#181818" stroke-opacity="0.55" stroke-width="0.6"/><rect x="410.6" y="256.2" width="54.2" height="7.4" fill="rgba(64,64,64,0.8)"/><text x="412.9" y="262.15" font-size="3.45" fill="#dadada">Vertex Color</text><rect x="410.6" y="263.6" width="54.2" height="2.3" fill="#E8341F"/><rect x="410.6" y="265.9" width="54.2" height="9" fill="rgba(50,50,50,0.8)"/><circle cx="461.8" cy="270.6" r="1" fill="#FBCBF4"/><text x="458.5" y="271.7" font-size="3.1" fill="#cccccc" text-anchor="end">Out(4)</text><rect x="410.6" y="275.3" width="54.2" height="54.2" fill="#585858"/><circle cx="437.7" cy="302.4" r="25" fill="#fff"/></g><rect x="469.9" y="252" width="45.2" height="6.8" fill="#494949" rx="3.4"/><circle cx="472.9" cy="255.4" r="0.65" fill="#B5E655"/><text x="475.5" y="256.5" font-size="3.15" fill="#d8d8d8">VertexColourOffset(1)</text><circle cx="509.7" cy="255.4" r="1" fill="#84E4E7"/><g><rect x="716.95" y="230.3" width="32.4" height="36.9" fill="none" stroke="#181818" stroke-opacity="0.55" stroke-width="0.6"/><rect x="717.25" y="230.6" width="31.8" height="7.4" fill="rgba(64,64,64,0.8)"/><text x="719.55" y="236.55" font-size="3.45" fill="#dadada">Lerp</text><rect x="717.25" y="238" width="31.8" height="2.3" fill="#3F8EF5"/><rect x="717.25" y="240.3" width="13.75" height="22" fill="rgba(67,67,67,0.8)"/><rect x="731" y="240.3" width="18.05" height="22" fill="rgba(50,50,50,0.8)"/><circle cx="720.55" cy="245" r="0.85" fill="#262626" stroke="#84E4E7" stroke-width="0.45" stroke-opacity="0.75"/><text x="723.95" y="246.1" font-size="3.1" fill="#cccccc">A(1)</text><circle cx="720.55" cy="251.5" r="1" fill="#84E4E7"/><text x="723.95" y="252.6" font-size="3.1" fill="#cccccc">B(1)</text><circle cx="720.55" cy="258" r="1" fill="#84E4E7"/><text x="723.95" y="259.1" font-size="3.1" fill="#cccccc">T(1)</text><circle cx="746.05" cy="245" r="1" fill="#84E4E7"/><text x="742.75" y="246.1" font-size="3.1" fill="#cccccc" text-anchor="end">Out(1)</text><rect x="717.25" y="262.3" width="31.8" height="4.6" fill="rgba(62,62,62,0.8)"/><path d="M731.9 264 l1.25 1.25 l1.25 -1.25" fill="none" stroke="#dcdcdc" stroke-width="0.85"/></g><g><rect x="762.7" y="24.2" width="54.8" height="84.1" fill="none" stroke="#181818" stroke-opacity="0.55" stroke-width="0.6"/><rect x="763" y="24.5" width="54.2" height="7.4" fill="rgba(64,64,64,0.8)"/><text x="765.3" y="30.45" font-size="3.45" fill="#dadada">Position</text><rect x="763" y="31.9" width="54.2" height="2.3" fill="#E8341F"/><rect x="763" y="34.2" width="54.2" height="9" fill="rgba(50,50,50,0.8)"/><circle cx="814.2" cy="38.9" r="1" fill="#F6FF9A"/><text x="810.9" y="40" font-size="3.1" fill="#cccccc" text-anchor="end">Out(3)</text><rect x="763" y="43.2" width="54.2" height="10.5" fill="rgba(62,62,62,0.8)"/><text x="766" y="49.45" font-size="3" fill="#c8c8c8">Space</text><rect x="793.1" y="46.45" width="21.5" height="4" fill="#565656" rx="0.5"/><text x="794.3" y="49.45" font-size="2.9" fill="#e6e6e6" font-weight="bold">Object</text><path d="M811.6 47.95 l1.6 0 l-0.8 1.1 z" fill="#d0d0d0"/><rect x="763" y="53.7" width="54.2" height="54.3" fill="#585858"/><g clip-path="url(#c3)"><rect x="765.1" y="55.85" width="50" height="50" fill="#000"/><rect x="0" y="-1" width="1" height="2" fill="url(#gR)" transform="translate(790.1 80.85) scale(25)"/><rect x="-1" y="-1" width="2" height="1" fill="url(#gG)" style="mix-blend-mode:screen" transform="translate(790.1 80.85) scale(25)"/></g></g><g><rect x="845.7" y="24.2" width="31.1" height="38.8" fill="none" stroke="#181818" stroke-opacity="0.55" stroke-width="0.6"/><rect x="846" y="24.5" width="30.5" height="7.4" fill="rgba(64,64,64,0.8)"/><text x="848.3" y="30.45" font-size="3.45" fill="#dadada">Split</text><rect x="846" y="31.9" width="30.5" height="2.3" fill="#A7E522"/><rect x="846" y="34.2" width="15" height="28.5" fill="rgba(67,67,67,0.8)"/><rect x="861" y="34.2" width="15.5" height="28.5" fill="rgba(50,50,50,0.8)"/><circle cx="849.3" cy="38.9" r="1" fill="#F6FF9A"/><text x="852.7" y="40" font-size="3.1" fill="#cccccc">In(3)</text><circle cx="873.5" cy="38.9" r="1" fill="#84E4E7"/><text x="870.2" y="40" font-size="3.1" fill="#cccccc" text-anchor="end">R(1)</text><circle cx="873.5" cy="45.4" r="1" fill="#84E4E7"/><text x="870.2" y="46.5" font-size="3.1" fill="#cccccc" text-anchor="end">G(1)</text><circle cx="873.5" cy="51.9" r="1" fill="#84E4E7"/><text x="870.2" y="53" font-size="3.1" fill="#cccccc" text-anchor="end">B(1)</text><circle cx="873.5" cy="58.4" r="0.85" fill="#262626" stroke="#84E4E7" stroke-width="0.45" stroke-opacity="0.75"/><text x="870.2" y="59.5" font-size="3.1" fill="#cccccc" text-anchor="end">A(1)</text></g><g><rect x="844.5" y="87" width="32.6" height="30.4" fill="none" stroke="#181818" stroke-opacity="0.55" stroke-width="0.6"/><rect x="844.8" y="87.3" width="32" height="7.4" fill="rgba(64,64,64,0.8)"/><text x="847.1" y="93.25" font-size="3.45" fill="#dadada">Multiply</text><rect x="844.8" y="94.7" width="32" height="2.3" fill="#3F8EF5"/><rect x="844.8" y="97" width="14" height="15.5" fill="rgba(67,67,67,0.8)"/><rect x="858.8" y="97" width="18" height="15.5" fill="rgba(50,50,50,0.8)"/><circle cx="848.1" cy="101.7" r="1" fill="#84E4E7"/><text x="851.5" y="102.8" font-size="3.1" fill="#cccccc">A(1)</text><circle cx="848.1" cy="108.2" r="0.85" fill="#262626" stroke="#84E4E7" stroke-width="0.45" stroke-opacity="0.75"/><text x="851.5" y="109.3" font-size="3.1" fill="#cccccc">B(1)</text><circle cx="873.8" cy="101.7" r="1" fill="#84E4E7"/><text x="870.5" y="102.8" font-size="3.1" fill="#cccccc" text-anchor="end">Out(1)</text><rect x="844.8" y="112.5" width="32" height="4.6" fill="rgba(62,62,62,0.8)"/><path d="M859.55 114.2 l1.25 1.25 l1.25 -1.25" fill="none" stroke="#dcdcdc" stroke-width="0.85"/></g><g><rect x="885.7" y="87" width="32.6" height="30.4" fill="none" stroke="#181818" stroke-opacity="0.55" stroke-width="0.6"/><rect x="886" y="87.3" width="32" height="7.4" fill="rgba(64,64,64,0.8)"/><text x="888.3" y="93.25" font-size="3.45" fill="#dadada">Add</text><rect x="886" y="94.7" width="32" height="2.3" fill="#3F8EF5"/><rect x="886" y="97" width="14" height="15.5" fill="rgba(67,67,67,0.8)"/><rect x="900" y="97" width="18" height="15.5" fill="rgba(50,50,50,0.8)"/><circle cx="889.3" cy="101.7" r="1" fill="#84E4E7"/><text x="892.7" y="102.8" font-size="3.1" fill="#cccccc">A(1)</text><circle cx="889.3" cy="108.2" r="1" fill="#84E4E7"/><text x="892.7" y="109.3" font-size="3.1" fill="#cccccc">B(1)</text><circle cx="915" cy="101.7" r="1" fill="#84E4E7"/><text x="911.7" y="102.8" font-size="3.1" fill="#cccccc" text-anchor="end">Out(1)</text><rect x="886" y="112.5" width="32" height="4.6" fill="rgba(62,62,62,0.8)"/><path d="M900.75 114.2 l1.25 1.25 l1.25 -1.25" fill="none" stroke="#dcdcdc" stroke-width="0.85"/></g><g><rect x="925.05" y="24.2" width="54.9" height="93.5" fill="none" stroke="#181818" stroke-opacity="0.55" stroke-width="0.6"/><rect x="925.35" y="24.5" width="54.3" height="7.4" fill="rgba(64,64,64,0.8)"/><text x="927.65" y="30.45" font-size="3.45" fill="#dadada">Combine</text><rect x="925.35" y="31.9" width="54.3" height="2.3" fill="#A7E522"/><rect x="925.35" y="34.2" width="24.1" height="28.5" fill="rgba(67,67,67,0.8)"/><rect x="949.45" y="34.2" width="30.2" height="28.5" fill="rgba(50,50,50,0.8)"/><circle cx="928.65" cy="38.9" r="1" fill="#84E4E7"/><text x="932.05" y="40" font-size="3.1" fill="#cccccc">R(1)</text><circle cx="928.65" cy="45.4" r="1" fill="#84E4E7"/><text x="932.05" y="46.5" font-size="3.1" fill="#cccccc">G(1)</text><circle cx="928.65" cy="51.9" r="1" fill="#84E4E7"/><text x="932.05" y="53" font-size="3.1" fill="#cccccc">B(1)</text><circle cx="928.65" cy="58.4" r="0.85" fill="#262626" stroke="#84E4E7" stroke-width="0.45" stroke-opacity="0.75"/><text x="932.05" y="59.5" font-size="3.1" fill="#cccccc">A(1)</text><circle cx="976.65" cy="38.9" r="0.85" fill="#262626" stroke="#FBCBF4" stroke-width="0.45" stroke-opacity="0.75"/><text x="973.35" y="40" font-size="3.1" fill="#cccccc" text-anchor="end">RGBA(4)</text><circle cx="976.65" cy="45.4" r="1" fill="#F6FF9A"/><text x="973.35" y="46.5" font-size="3.1" fill="#cccccc" text-anchor="end">RGB(3)</text><circle cx="976.65" cy="51.9" r="0.85" fill="#262626" stroke="#9AEF92" stroke-width="0.45" stroke-opacity="0.75"/><text x="973.35" y="53" font-size="3.1" fill="#cccccc" text-anchor="end">RG(2)</text><rect x="925.35" y="63.3" width="54.3" height="54.1" fill="#585858"/><g clip-path="url(#c4)"><rect x="927.75" y="65.6" width="49.5" height="49.5" fill="#000"/><rect x="0" y="-1" width="1" height="2" fill="url(#gR)" transform="translate(952.5 90.35) scale(24.75)"/><rect x="-1" y="-1" width="2" height="1" fill="url(#gG)" style="mix-blend-mode:screen" transform="translate(952.5 90.35) scale(24.75)"/></g></g><g><rect x="991.7" y="87" width="32.6" height="30.4" fill="none" stroke="#181818" stroke-opacity="0.55" stroke-width="0.6"/><rect x="992" y="87.3" width="32" height="7.4" fill="rgba(64,64,64,0.8)"/><text x="994.3" y="93.25" font-size="3.45" fill="#dadada">Multiply</text><rect x="992" y="94.7" width="32" height="2.3" fill="#3F8EF5"/><rect x="992" y="97" width="14" height="15.5" fill="rgba(67,67,67,0.8)"/><rect x="1006" y="97" width="18" height="15.5" fill="rgba(50,50,50,0.8)"/><circle cx="995.3" cy="101.7" r="1" fill="#84E4E7"/><text x="998.7" y="102.8" font-size="3.1" fill="#cccccc">A(1)</text><circle cx="995.3" cy="108.2" r="0.85" fill="#262626" stroke="#84E4E7" stroke-width="0.45" stroke-opacity="0.75"/><text x="998.7" y="109.3" font-size="3.1" fill="#cccccc">B(1)</text><circle cx="1021" cy="101.7" r="1" fill="#84E4E7"/><text x="1017.7" y="102.8" font-size="3.1" fill="#cccccc" text-anchor="end">Out(1)</text><rect x="992" y="112.5" width="32" height="4.6" fill="rgba(62,62,62,0.8)"/><path d="M1006.75 114.2 l1.25 1.25 l1.25 -1.25" fill="none" stroke="#dcdcdc" stroke-width="0.85"/></g><g><rect x="1030.6" y="21.4" width="54.8" height="95.7" fill="none" stroke="#181818" stroke-opacity="0.55" stroke-width="0.6"/><rect x="1030.9" y="21.7" width="54.2" height="7.4" fill="rgba(64,64,64,0.8)"/><text x="1033.2" y="27.65" font-size="3.45" fill="#dadada">Rotate About Axis</text><rect x="1030.9" y="29.1" width="54.2" height="2.3" fill="#3F8EF5"/><rect x="1030.9" y="31.4" width="30" height="22" fill="rgba(67,67,67,0.8)"/><rect x="1060.9" y="31.4" width="24.2" height="22" fill="rgba(50,50,50,0.8)"/><circle cx="1034.2" cy="36.1" r="1" fill="#F6FF9A"/><text x="1037.6" y="37.2" font-size="3.1" fill="#cccccc">In(3)</text><circle cx="1034.2" cy="42.6" r="0.85" fill="#262626" stroke="#F6FF9A" stroke-width="0.45" stroke-opacity="0.75"/><text x="1037.6" y="43.7" font-size="3.1" fill="#cccccc">Axis(3)</text><circle cx="1034.2" cy="49.1" r="1" fill="#84E4E7"/><text x="1037.6" y="50.2" font-size="3.1" fill="#cccccc">Rotation(1)</text><circle cx="1082.1" cy="36.1" r="1" fill="#F6FF9A"/><text x="1078.8" y="37.2" font-size="3.1" fill="#cccccc" text-anchor="end">Out(3)</text><rect x="1030.9" y="53.4" width="54.2" height="9.6" fill="rgba(62,62,62,0.8)"/><text x="1033.9" y="59.2" font-size="3" fill="#c8c8c8">Unit</text><rect x="1061.7" y="56.2" width="20.8" height="4" fill="#565656" rx="0.5"/><text x="1062.9" y="59.2" font-size="2.9" fill="#e6e6e6" font-weight="bold">Radians</text><path d="M1079.5 57.7 l1.6 0 l-0.8 1.1 z" fill="#d0d0d0"/><rect x="1030.9" y="63" width="54.2" height="53.8" fill="#585858"/><g clip-path="url(#c5)"><rect x="1033" y="64.9" width="50" height="50" fill="#000"/><rect x="0" y="-1" width="1" height="2" fill="url(#gR)" transform="translate(1058 89.9) scale(25)"/><rect x="-1" y="-1" width="2" height="1" fill="url(#gG)" style="mix-blend-mode:screen" transform="translate(1058 89.9) scale(25)"/></g></g><rect x="946.5" y="129.5" width="15.5" height="6" fill="#3b3b3b" rx="2"/><circle cx="949.1" cy="132.5" r="0.95" fill="#F6FF9A"/><circle cx="959.4" cy="132.5" r="0.95" fill="#F6FF9A"/><rect x="904" y="173.5" width="15" height="6" fill="#3b3b3b" rx="2"/><circle cx="906.6" cy="176.5" r="0.95" fill="#84E4E7"/><circle cx="916.4" cy="176.5" r="0.95" fill="#84E4E7"/><rect x="1142.4" y="129.5" width="14.4" height="6" fill="#3b3b3b" rx="2"/><circle cx="1145" cy="132.5" r="0.95" fill="#F6FF9A"/><circle cx="1154.2" cy="132.5" r="0.95" fill="#F6FF9A"/><rect x="911" y="203.75" width="46.5" height="7.25" fill="#494949" rx="3.62"/><circle cx="914" cy="207.38" r="0.65" fill="#B5E655"/><text x="916.6" y="208.47" font-size="3.15" fill="#d8d8d8">Card1RotationOffset(1)</text><circle cx="952.1" cy="207.38" r="1" fill="#84E4E7"/><g><rect x="970.7" y="203.45" width="32.1" height="30.4" fill="none" stroke="#181818" stroke-opacity="0.55" stroke-width="0.6"/><rect x="971" y="203.75" width="31.5" height="7.4" fill="rgba(64,64,64,0.8)"/><text x="973.3" y="209.7" font-size="3.45" fill="#dadada">Add</text><rect x="971" y="211.15" width="31.5" height="2.3" fill="#3F8EF5"/><rect x="971" y="213.45" width="14" height="15.5" fill="rgba(67,67,67,0.8)"/><rect x="985" y="213.45" width="17.5" height="15.5" fill="rgba(50,50,50,0.8)"/><circle cx="974.3" cy="218.15" r="1" fill="#84E4E7"/><text x="977.7" y="219.25" font-size="3.1" fill="#cccccc">A(1)</text><circle cx="974.3" cy="224.65" r="0.85" fill="#262626" stroke="#84E4E7" stroke-width="0.45" stroke-opacity="0.75"/><text x="977.7" y="225.75" font-size="3.1" fill="#cccccc">B(1)</text><circle cx="999.5" cy="218.15" r="1" fill="#84E4E7"/><text x="996.2" y="219.25" font-size="3.1" fill="#cccccc" text-anchor="end">Out(1)</text><rect x="971" y="228.95" width="31.5" height="4.6" fill="rgba(62,62,62,0.8)"/><path d="M985.5 230.65 l1.25 1.25 l1.25 -1.25" fill="none" stroke="#dcdcdc" stroke-width="0.85"/></g><g><rect x="1031.7" y="203.45" width="32.6" height="30.4" fill="none" stroke="#181818" stroke-opacity="0.55" stroke-width="0.6"/><rect x="1032" y="203.75" width="32" height="7.4" fill="rgba(64,64,64,0.8)"/><text x="1034.3" y="209.7" font-size="3.45" fill="#dadada">Multiply</text><rect x="1032" y="211.15" width="32" height="2.3" fill="#3F8EF5"/><rect x="1032" y="213.45" width="14" height="15.5" fill="rgba(67,67,67,0.8)"/><rect x="1046" y="213.45" width="18" height="15.5" fill="rgba(50,50,50,0.8)"/><circle cx="1035.3" cy="218.15" r="1" fill="#84E4E7"/><text x="1038.7" y="219.25" font-size="3.1" fill="#cccccc">A(1)</text><circle cx="1035.3" cy="224.65" r="0.85" fill="#262626" stroke="#84E4E7" stroke-width="0.45" stroke-opacity="0.75"/><text x="1038.7" y="225.75" font-size="3.1" fill="#cccccc">B(1)</text><circle cx="1061" cy="218.15" r="1" fill="#84E4E7"/><text x="1057.7" y="219.25" font-size="3.1" fill="#cccccc" text-anchor="end">Out(1)</text><rect x="1032" y="228.95" width="32" height="4.6" fill="rgba(62,62,62,0.8)"/><path d="M1046.75 230.65 l1.25 1.25 l1.25 -1.25" fill="none" stroke="#dcdcdc" stroke-width="0.85"/></g><g><rect x="1113.8" y="203.45" width="42.5" height="46.1" fill="none" stroke="#181818" stroke-opacity="0.55" stroke-width="0.6"/><rect x="1114.1" y="203.75" width="41.9" height="7.3" fill="rgba(64,64,64,0.8)"/><text x="1116.4" y="209.6" font-size="3.45" fill="#dadada">Rotate About Axis</text><rect x="1114.1" y="211.05" width="41.9" height="2.3" fill="#3F8EF5"/><rect x="1114.1" y="213.35" width="24" height="22" fill="rgba(67,67,67,0.8)"/><rect x="1138.1" y="213.35" width="17.9" height="22" fill="rgba(50,50,50,0.8)"/><circle cx="1117.4" cy="218.05" r="1" fill="#F6FF9A"/><text x="1120.8" y="219.15" font-size="3.1" fill="#cccccc">In(3)</text><circle cx="1117.4" cy="224.55" r="0.85" fill="#262626" stroke="#F6FF9A" stroke-width="0.45" stroke-opacity="0.75"/><text x="1120.8" y="225.65" font-size="3.1" fill="#cccccc">Axis(3)</text><circle cx="1117.4" cy="231.05" r="1" fill="#84E4E7"/><text x="1120.8" y="232.15" font-size="3.1" fill="#cccccc">Rotation(1)</text><circle cx="1153" cy="218.05" r="1" fill="#F6FF9A"/><text x="1149.7" y="219.15" font-size="3.1" fill="#cccccc" text-anchor="end">Out(3)</text><rect x="1114.1" y="235.35" width="41.9" height="9" fill="rgba(62,62,62,0.8)"/><text x="1117.1" y="240.85" font-size="3" fill="#c8c8c8">Unit</text><rect x="1132.8" y="237.85" width="20.6" height="4" fill="#565656" rx="0.5"/><text x="1134" y="240.85" font-size="2.9" fill="#e6e6e6" font-weight="bold">Radians</text><path d="M1150.4 239.35 l1.6 0 l-0.8 1.1 z" fill="#d0d0d0"/><rect x="1114.1" y="244.35" width="41.9" height="4.9" fill="rgba(62,62,62,0.8)"/><path d="M1133.8 246.2 l1.25 1.25 l1.25 -1.25" fill="none" stroke="#dcdcdc" stroke-width="0.85"/></g><g><rect x="1198.7" y="203.45" width="33.7" height="36.9" fill="none" stroke="#181818" stroke-opacity="0.55" stroke-width="0.6"/><rect x="1199" y="203.75" width="33.1" height="7.4" fill="rgba(64,64,64,0.8)"/><text x="1201.3" y="209.7" font-size="3.45" fill="#dadada">Lerp</text><rect x="1199" y="211.15" width="33.1" height="2.3" fill="#3F8EF5"/><rect x="1199" y="213.45" width="13.75" height="22" fill="rgba(67,67,67,0.8)"/><rect x="1212.75" y="213.45" width="19.35" height="22" fill="rgba(50,50,50,0.8)"/><circle cx="1202.3" cy="218.15" r="1" fill="#F6FF9A"/><text x="1205.7" y="219.25" font-size="3.1" fill="#cccccc">A(3)</text><circle cx="1202.3" cy="224.65" r="1" fill="#F6FF9A"/><text x="1205.7" y="225.75" font-size="3.1" fill="#cccccc">B(3)</text><circle cx="1202.3" cy="231.15" r="1" fill="#F6FF9A"/><text x="1205.7" y="232.25" font-size="3.1" fill="#cccccc">T(3)</text><circle cx="1229.1" cy="218.15" r="1" fill="#F6FF9A"/><text x="1225.8" y="219.25" font-size="3.1" fill="#cccccc" text-anchor="end">Out(3)</text><rect x="1199" y="235.45" width="33.1" height="4.6" fill="rgba(62,62,62,0.8)"/><path d="M1214.3 237.15 l1.25 1.25 l1.25 -1.25" fill="none" stroke="#dcdcdc" stroke-width="0.85"/></g><rect x="912" y="251.75" width="47" height="7" fill="#494949" rx="3.5"/><circle cx="915" cy="255.25" r="0.65" fill="#B5E655"/><text x="917.6" y="256.35" font-size="3.15" fill="#d8d8d8">Card2RotationOffset(1)</text><circle cx="953.6" cy="255.25" r="1" fill="#84E4E7"/><g><rect x="971.45" y="251.45" width="32.35" height="30.4" fill="none" stroke="#181818" stroke-opacity="0.55" stroke-width="0.6"/><rect x="971.75" y="251.75" width="31.75" height="7.4" fill="rgba(64,64,64,0.8)"/><text x="974.05" y="257.7" font-size="3.45" fill="#dadada">Add</text><rect x="971.75" y="259.15" width="31.75" height="2.3" fill="#3F8EF5"/><rect x="971.75" y="261.45" width="14" height="15.5" fill="rgba(67,67,67,0.8)"/><rect x="985.75" y="261.45" width="17.75" height="15.5" fill="rgba(50,50,50,0.8)"/><circle cx="975.05" cy="266.15" r="1" fill="#84E4E7"/><text x="978.45" y="267.25" font-size="3.1" fill="#cccccc">A(1)</text><circle cx="975.05" cy="272.65" r="0.85" fill="#262626" stroke="#84E4E7" stroke-width="0.45" stroke-opacity="0.75"/><text x="978.45" y="273.75" font-size="3.1" fill="#cccccc">B(1)</text><circle cx="1000.5" cy="266.15" r="1" fill="#84E4E7"/><text x="997.2" y="267.25" font-size="3.1" fill="#cccccc" text-anchor="end">Out(1)</text><rect x="971.75" y="276.95" width="31.75" height="4.6" fill="rgba(62,62,62,0.8)"/><path d="M986.38 278.65 l1.25 1.25 l1.25 -1.25" fill="none" stroke="#dcdcdc" stroke-width="0.85"/></g><g><rect x="1028.7" y="251.45" width="32.35" height="30.4" fill="none" stroke="#181818" stroke-opacity="0.55" stroke-width="0.6"/><rect x="1029" y="251.75" width="31.75" height="7.4" fill="rgba(64,64,64,0.8)"/><text x="1031.3" y="257.7" font-size="3.45" fill="#dadada">Multiply</text><rect x="1029" y="259.15" width="31.75" height="2.3" fill="#3F8EF5"/><rect x="1029" y="261.45" width="14" height="15.5" fill="rgba(67,67,67,0.8)"/><rect x="1043" y="261.45" width="17.75" height="15.5" fill="rgba(50,50,50,0.8)"/><circle cx="1032.3" cy="266.15" r="1" fill="#84E4E7"/><text x="1035.7" y="267.25" font-size="3.1" fill="#cccccc">A(1)</text><circle cx="1032.3" cy="272.65" r="0.85" fill="#262626" stroke="#84E4E7" stroke-width="0.45" stroke-opacity="0.75"/><text x="1035.7" y="273.75" font-size="3.1" fill="#cccccc">B(1)</text><circle cx="1057.75" cy="266.15" r="1" fill="#84E4E7"/><text x="1054.45" y="267.25" font-size="3.1" fill="#cccccc" text-anchor="end">Out(1)</text><rect x="1029" y="276.95" width="31.75" height="4.6" fill="rgba(62,62,62,0.8)"/><path d="M1043.62 278.65 l1.25 1.25 l1.25 -1.25" fill="none" stroke="#dcdcdc" stroke-width="0.85"/></g><g><rect x="1113.8" y="251.45" width="42.5" height="46.1" fill="none" stroke="#181818" stroke-opacity="0.55" stroke-width="0.6"/><rect x="1114.1" y="251.75" width="41.9" height="7.3" fill="rgba(64,64,64,0.8)"/><text x="1116.4" y="257.6" font-size="3.45" fill="#dadada">Rotate About Axis</text><rect x="1114.1" y="259.05" width="41.9" height="2.3" fill="#3F8EF5"/><rect x="1114.1" y="261.35" width="24" height="22" fill="rgba(67,67,67,0.8)"/><rect x="1138.1" y="261.35" width="17.9" height="22" fill="rgba(50,50,50,0.8)"/><circle cx="1117.4" cy="266.05" r="1" fill="#F6FF9A"/><text x="1120.8" y="267.15" font-size="3.1" fill="#cccccc">In(3)</text><circle cx="1117.4" cy="272.55" r="0.85" fill="#262626" stroke="#F6FF9A" stroke-width="0.45" stroke-opacity="0.75"/><text x="1120.8" y="273.65" font-size="3.1" fill="#cccccc">Axis(3)</text><circle cx="1117.4" cy="279.05" r="1" fill="#84E4E7"/><text x="1120.8" y="280.15" font-size="3.1" fill="#cccccc">Rotation(1)</text><circle cx="1153" cy="266.05" r="1" fill="#F6FF9A"/><text x="1149.7" y="267.15" font-size="3.1" fill="#cccccc" text-anchor="end">Out(3)</text><rect x="1114.1" y="283.35" width="41.9" height="9" fill="rgba(62,62,62,0.8)"/><text x="1117.1" y="288.85" font-size="3" fill="#c8c8c8">Unit</text><rect x="1132.8" y="285.85" width="20.6" height="4" fill="#565656" rx="0.5"/><text x="1134" y="288.85" font-size="2.9" fill="#e6e6e6" font-weight="bold">Radians</text><path d="M1150.4 287.35 l1.6 0 l-0.8 1.1 z" fill="#d0d0d0"/><rect x="1114.1" y="292.35" width="41.9" height="4.9" fill="rgba(62,62,62,0.8)"/><path d="M1133.8 294.2 l1.25 1.25 l1.25 -1.25" fill="none" stroke="#dcdcdc" stroke-width="0.85"/></g><g><rect x="1198.7" y="249.7" width="33.7" height="36.9" fill="none" stroke="#181818" stroke-opacity="0.55" stroke-width="0.6"/><rect x="1199" y="250" width="33.1" height="7.4" fill="rgba(64,64,64,0.8)"/><text x="1201.3" y="255.95" font-size="3.45" fill="#dadada">Lerp</text><rect x="1199" y="257.4" width="33.1" height="2.3" fill="#3F8EF5"/><rect x="1199" y="259.7" width="13.75" height="22" fill="rgba(67,67,67,0.8)"/><rect x="1212.75" y="259.7" width="19.35" height="22" fill="rgba(50,50,50,0.8)"/><circle cx="1202.3" cy="264.4" r="1" fill="#F6FF9A"/><text x="1205.7" y="265.5" font-size="3.1" fill="#cccccc">A(3)</text><circle cx="1202.3" cy="270.9" r="1" fill="#F6FF9A"/><text x="1205.7" y="272" font-size="3.1" fill="#cccccc">B(3)</text><circle cx="1202.3" cy="277.4" r="1" fill="#F6FF9A"/><text x="1205.7" y="278.5" font-size="3.1" fill="#cccccc">T(3)</text><circle cx="1229.1" cy="264.4" r="1" fill="#F6FF9A"/><text x="1225.8" y="265.5" font-size="3.1" fill="#cccccc" text-anchor="end">Out(3)</text><rect x="1199" y="281.7" width="33.1" height="4.6" fill="rgba(62,62,62,0.8)"/><path d="M1214.3 283.4 l1.25 1.25 l1.25 -1.25" fill="none" stroke="#dcdcdc" stroke-width="0.85"/></g><rect x="912" y="299.75" width="47" height="7" fill="#494949" rx="3.5"/><circle cx="915" cy="303.25" r="0.65" fill="#B5E655"/><text x="917.6" y="304.35" font-size="3.15" fill="#d8d8d8">Card3RotationOffset(1)</text><circle cx="953.6" cy="303.25" r="1" fill="#84E4E7"/><g><rect x="971.45" y="299.45" width="32.35" height="30.4" fill="none" stroke="#181818" stroke-opacity="0.55" stroke-width="0.6"/><rect x="971.75" y="299.75" width="31.75" height="7.4" fill="rgba(64,64,64,0.8)"/><text x="974.05" y="305.7" font-size="3.45" fill="#dadada">Add</text><rect x="971.75" y="307.15" width="31.75" height="2.3" fill="#3F8EF5"/><rect x="971.75" y="309.45" width="14" height="15.5" fill="rgba(67,67,67,0.8)"/><rect x="985.75" y="309.45" width="17.75" height="15.5" fill="rgba(50,50,50,0.8)"/><circle cx="975.05" cy="314.15" r="1" fill="#84E4E7"/><text x="978.45" y="315.25" font-size="3.1" fill="#cccccc">A(1)</text><circle cx="975.05" cy="320.65" r="0.85" fill="#262626" stroke="#84E4E7" stroke-width="0.45" stroke-opacity="0.75"/><text x="978.45" y="321.75" font-size="3.1" fill="#cccccc">B(1)</text><circle cx="1000.5" cy="314.15" r="1" fill="#84E4E7"/><text x="997.2" y="315.25" font-size="3.1" fill="#cccccc" text-anchor="end">Out(1)</text><rect x="971.75" y="324.95" width="31.75" height="4.6" fill="rgba(62,62,62,0.8)"/><path d="M986.38 326.65 l1.25 1.25 l1.25 -1.25" fill="none" stroke="#dcdcdc" stroke-width="0.85"/></g><g><rect x="1028.7" y="299.45" width="32.35" height="30.4" fill="none" stroke="#181818" stroke-opacity="0.55" stroke-width="0.6"/><rect x="1029" y="299.75" width="31.75" height="7.4" fill="rgba(64,64,64,0.8)"/><text x="1031.3" y="305.7" font-size="3.45" fill="#dadada">Multiply</text><rect x="1029" y="307.15" width="31.75" height="2.3" fill="#3F8EF5"/><rect x="1029" y="309.45" width="14" height="15.5" fill="rgba(67,67,67,0.8)"/><rect x="1043" y="309.45" width="17.75" height="15.5" fill="rgba(50,50,50,0.8)"/><circle cx="1032.3" cy="314.15" r="1" fill="#84E4E7"/><text x="1035.7" y="315.25" font-size="3.1" fill="#cccccc">A(1)</text><circle cx="1032.3" cy="320.65" r="0.85" fill="#262626" stroke="#84E4E7" stroke-width="0.45" stroke-opacity="0.75"/><text x="1035.7" y="321.75" font-size="3.1" fill="#cccccc">B(1)</text><circle cx="1057.75" cy="314.15" r="1" fill="#84E4E7"/><text x="1054.45" y="315.25" font-size="3.1" fill="#cccccc" text-anchor="end">Out(1)</text><rect x="1029" y="324.95" width="31.75" height="4.6" fill="rgba(62,62,62,0.8)"/><path d="M1043.62 326.65 l1.25 1.25 l1.25 -1.25" fill="none" stroke="#dcdcdc" stroke-width="0.85"/></g><g><rect x="1113.8" y="299.45" width="42.5" height="46.1" fill="none" stroke="#181818" stroke-opacity="0.55" stroke-width="0.6"/><rect x="1114.1" y="299.75" width="41.9" height="7.3" fill="rgba(64,64,64,0.8)"/><text x="1116.4" y="305.6" font-size="3.45" fill="#dadada">Rotate About Axis</text><rect x="1114.1" y="307.05" width="41.9" height="2.3" fill="#3F8EF5"/><rect x="1114.1" y="309.35" width="24" height="22" fill="rgba(67,67,67,0.8)"/><rect x="1138.1" y="309.35" width="17.9" height="22" fill="rgba(50,50,50,0.8)"/><circle cx="1117.4" cy="314.05" r="1" fill="#F6FF9A"/><text x="1120.8" y="315.15" font-size="3.1" fill="#cccccc">In(3)</text><circle cx="1117.4" cy="320.55" r="0.85" fill="#262626" stroke="#F6FF9A" stroke-width="0.45" stroke-opacity="0.75"/><text x="1120.8" y="321.65" font-size="3.1" fill="#cccccc">Axis(3)</text><circle cx="1117.4" cy="327.05" r="1" fill="#84E4E7"/><text x="1120.8" y="328.15" font-size="3.1" fill="#cccccc">Rotation(1)</text><circle cx="1153" cy="314.05" r="1" fill="#F6FF9A"/><text x="1149.7" y="315.15" font-size="3.1" fill="#cccccc" text-anchor="end">Out(3)</text><rect x="1114.1" y="331.35" width="41.9" height="9" fill="rgba(62,62,62,0.8)"/><text x="1117.1" y="336.85" font-size="3" fill="#c8c8c8">Unit</text><rect x="1132.8" y="333.85" width="20.6" height="4" fill="#565656" rx="0.5"/><text x="1134" y="336.85" font-size="2.9" fill="#e6e6e6" font-weight="bold">Radians</text><path d="M1150.4 335.35 l1.6 0 l-0.8 1.1 z" fill="#d0d0d0"/><rect x="1114.1" y="340.35" width="41.9" height="4.9" fill="rgba(62,62,62,0.8)"/><path d="M1133.8 342.2 l1.25 1.25 l1.25 -1.25" fill="none" stroke="#dcdcdc" stroke-width="0.85"/></g><g><rect x="1198.7" y="297.7" width="33.7" height="36.9" fill="none" stroke="#181818" stroke-opacity="0.55" stroke-width="0.6"/><rect x="1199" y="298" width="33.1" height="7.4" fill="rgba(64,64,64,0.8)"/><text x="1201.3" y="303.95" font-size="3.45" fill="#dadada">Lerp</text><rect x="1199" y="305.4" width="33.1" height="2.3" fill="#3F8EF5"/><rect x="1199" y="307.7" width="13.75" height="22" fill="rgba(67,67,67,0.8)"/><rect x="1212.75" y="307.7" width="19.35" height="22" fill="rgba(50,50,50,0.8)"/><circle cx="1202.3" cy="312.4" r="1" fill="#F6FF9A"/><text x="1205.7" y="313.5" font-size="3.1" fill="#cccccc">A(3)</text><circle cx="1202.3" cy="318.9" r="1" fill="#F6FF9A"/><text x="1205.7" y="320" font-size="3.1" fill="#cccccc">B(3)</text><circle cx="1202.3" cy="325.4" r="1" fill="#F6FF9A"/><text x="1205.7" y="326.5" font-size="3.1" fill="#cccccc">T(3)</text><circle cx="1229.1" cy="312.4" r="1" fill="#F6FF9A"/><text x="1225.8" y="313.5" font-size="3.1" fill="#cccccc" text-anchor="end">Out(3)</text><rect x="1199" y="329.7" width="33.1" height="4.6" fill="rgba(62,62,62,0.8)"/><path d="M1214.3 331.4 l1.25 1.25 l1.25 -1.25" fill="none" stroke="#dcdcdc" stroke-width="0.85"/></g><rect x="912" y="347.75" width="47" height="7" fill="#494949" rx="3.5"/><circle cx="915" cy="351.25" r="0.65" fill="#B5E655"/><text x="917.6" y="352.35" font-size="3.15" fill="#d8d8d8">Card4RotationOffset(1)</text><circle cx="953.6" cy="351.25" r="1" fill="#84E4E7"/><g><rect x="971.45" y="347.45" width="32.35" height="30.4" fill="none" stroke="#181818" stroke-opacity="0.55" stroke-width="0.6"/><rect x="971.75" y="347.75" width="31.75" height="7.4" fill="rgba(64,64,64,0.8)"/><text x="974.05" y="353.7" font-size="3.45" fill="#dadada">Add</text><rect x="971.75" y="355.15" width="31.75" height="2.3" fill="#3F8EF5"/><rect x="971.75" y="357.45" width="14" height="15.5" fill="rgba(67,67,67,0.8)"/><rect x="985.75" y="357.45" width="17.75" height="15.5" fill="rgba(50,50,50,0.8)"/><circle cx="975.05" cy="362.15" r="1" fill="#84E4E7"/><text x="978.45" y="363.25" font-size="3.1" fill="#cccccc">A(1)</text><circle cx="975.05" cy="368.65" r="0.85" fill="#262626" stroke="#84E4E7" stroke-width="0.45" stroke-opacity="0.75"/><text x="978.45" y="369.75" font-size="3.1" fill="#cccccc">B(1)</text><circle cx="1000.5" cy="362.15" r="1" fill="#84E4E7"/><text x="997.2" y="363.25" font-size="3.1" fill="#cccccc" text-anchor="end">Out(1)</text><rect x="971.75" y="372.95" width="31.75" height="4.6" fill="rgba(62,62,62,0.8)"/><path d="M986.38 374.65 l1.25 1.25 l1.25 -1.25" fill="none" stroke="#dcdcdc" stroke-width="0.85"/></g><g><rect x="1028.7" y="347.45" width="32.35" height="30.4" fill="none" stroke="#181818" stroke-opacity="0.55" stroke-width="0.6"/><rect x="1029" y="347.75" width="31.75" height="7.4" fill="rgba(64,64,64,0.8)"/><text x="1031.3" y="353.7" font-size="3.45" fill="#dadada">Multiply</text><rect x="1029" y="355.15" width="31.75" height="2.3" fill="#3F8EF5"/><rect x="1029" y="357.45" width="14" height="15.5" fill="rgba(67,67,67,0.8)"/><rect x="1043" y="357.45" width="17.75" height="15.5" fill="rgba(50,50,50,0.8)"/><circle cx="1032.3" cy="362.15" r="1" fill="#84E4E7"/><text x="1035.7" y="363.25" font-size="3.1" fill="#cccccc">A(1)</text><circle cx="1032.3" cy="368.65" r="0.85" fill="#262626" stroke="#84E4E7" stroke-width="0.45" stroke-opacity="0.75"/><text x="1035.7" y="369.75" font-size="3.1" fill="#cccccc">B(1)</text><circle cx="1057.75" cy="362.15" r="1" fill="#84E4E7"/><text x="1054.45" y="363.25" font-size="3.1" fill="#cccccc" text-anchor="end">Out(1)</text><rect x="1029" y="372.95" width="31.75" height="4.6" fill="rgba(62,62,62,0.8)"/><path d="M1043.62 374.65 l1.25 1.25 l1.25 -1.25" fill="none" stroke="#dcdcdc" stroke-width="0.85"/></g><g><rect x="1113.8" y="347.45" width="42.5" height="46.1" fill="none" stroke="#181818" stroke-opacity="0.55" stroke-width="0.6"/><rect x="1114.1" y="347.75" width="41.9" height="7.3" fill="rgba(64,64,64,0.8)"/><text x="1116.4" y="353.6" font-size="3.45" fill="#dadada">Rotate About Axis</text><rect x="1114.1" y="355.05" width="41.9" height="2.3" fill="#3F8EF5"/><rect x="1114.1" y="357.35" width="24" height="22" fill="rgba(67,67,67,0.8)"/><rect x="1138.1" y="357.35" width="17.9" height="22" fill="rgba(50,50,50,0.8)"/><circle cx="1117.4" cy="362.05" r="1" fill="#F6FF9A"/><text x="1120.8" y="363.15" font-size="3.1" fill="#cccccc">In(3)</text><circle cx="1117.4" cy="368.55" r="0.85" fill="#262626" stroke="#F6FF9A" stroke-width="0.45" stroke-opacity="0.75"/><text x="1120.8" y="369.65" font-size="3.1" fill="#cccccc">Axis(3)</text><circle cx="1117.4" cy="375.05" r="1" fill="#84E4E7"/><text x="1120.8" y="376.15" font-size="3.1" fill="#cccccc">Rotation(1)</text><circle cx="1153" cy="362.05" r="1" fill="#F6FF9A"/><text x="1149.7" y="363.15" font-size="3.1" fill="#cccccc" text-anchor="end">Out(3)</text><rect x="1114.1" y="379.35" width="41.9" height="9" fill="rgba(62,62,62,0.8)"/><text x="1117.1" y="384.85" font-size="3" fill="#c8c8c8">Unit</text><rect x="1132.8" y="381.85" width="20.6" height="4" fill="#565656" rx="0.5"/><text x="1134" y="384.85" font-size="2.9" fill="#e6e6e6" font-weight="bold">Radians</text><path d="M1150.4 383.35 l1.6 0 l-0.8 1.1 z" fill="#d0d0d0"/><rect x="1114.1" y="388.35" width="41.9" height="4.9" fill="rgba(62,62,62,0.8)"/><path d="M1133.8 390.2 l1.25 1.25 l1.25 -1.25" fill="none" stroke="#dcdcdc" stroke-width="0.85"/></g><g><rect x="1198.7" y="345.7" width="33.7" height="36.9" fill="none" stroke="#181818" stroke-opacity="0.55" stroke-width="0.6"/><rect x="1199" y="346" width="33.1" height="7.4" fill="rgba(64,64,64,0.8)"/><text x="1201.3" y="351.95" font-size="3.45" fill="#dadada">Lerp</text><rect x="1199" y="353.4" width="33.1" height="2.3" fill="#3F8EF5"/><rect x="1199" y="355.7" width="13.75" height="22" fill="rgba(67,67,67,0.8)"/><rect x="1212.75" y="355.7" width="19.35" height="22" fill="rgba(50,50,50,0.8)"/><circle cx="1202.3" cy="360.4" r="1" fill="#F6FF9A"/><text x="1205.7" y="361.5" font-size="3.1" fill="#cccccc">A(3)</text><circle cx="1202.3" cy="366.9" r="1" fill="#F6FF9A"/><text x="1205.7" y="368" font-size="3.1" fill="#cccccc">B(3)</text><circle cx="1202.3" cy="373.4" r="1" fill="#F6FF9A"/><text x="1205.7" y="374.5" font-size="3.1" fill="#cccccc">T(3)</text><circle cx="1229.1" cy="360.4" r="1" fill="#F6FF9A"/><text x="1225.8" y="361.5" font-size="3.1" fill="#cccccc" text-anchor="end">Out(3)</text><rect x="1199" y="377.7" width="33.1" height="4.6" fill="rgba(62,62,62,0.8)"/><path d="M1214.3 379.4 l1.25 1.25 l1.25 -1.25" fill="none" stroke="#dcdcdc" stroke-width="0.85"/></g><rect x="912" y="395.75" width="47" height="7" fill="#494949" rx="3.5"/><circle cx="915" cy="399.25" r="0.65" fill="#B5E655"/><text x="917.6" y="400.35" font-size="3.15" fill="#d8d8d8">Card5RotationOffset(1)</text><circle cx="953.6" cy="399.25" r="1" fill="#84E4E7"/><g><rect x="971.45" y="395.45" width="32.35" height="30.4" fill="none" stroke="#181818" stroke-opacity="0.55" stroke-width="0.6"/><rect x="971.75" y="395.75" width="31.75" height="7.4" fill="rgba(64,64,64,0.8)"/><text x="974.05" y="401.7" font-size="3.45" fill="#dadada">Add</text><rect x="971.75" y="403.15" width="31.75" height="2.3" fill="#3F8EF5"/><rect x="971.75" y="405.45" width="14" height="15.5" fill="rgba(67,67,67,0.8)"/><rect x="985.75" y="405.45" width="17.75" height="15.5" fill="rgba(50,50,50,0.8)"/><circle cx="975.05" cy="410.15" r="1" fill="#84E4E7"/><text x="978.45" y="411.25" font-size="3.1" fill="#cccccc">A(1)</text><circle cx="975.05" cy="416.65" r="0.85" fill="#262626" stroke="#84E4E7" stroke-width="0.45" stroke-opacity="0.75"/><text x="978.45" y="417.75" font-size="3.1" fill="#cccccc">B(1)</text><circle cx="1000.5" cy="410.15" r="1" fill="#84E4E7"/><text x="997.2" y="411.25" font-size="3.1" fill="#cccccc" text-anchor="end">Out(1)</text><rect x="971.75" y="420.95" width="31.75" height="4.6" fill="rgba(62,62,62,0.8)"/><path d="M986.38 422.65 l1.25 1.25 l1.25 -1.25" fill="none" stroke="#dcdcdc" stroke-width="0.85"/></g><g><rect x="1028.7" y="395.45" width="32.35" height="30.4" fill="none" stroke="#181818" stroke-opacity="0.55" stroke-width="0.6"/><rect x="1029" y="395.75" width="31.75" height="7.4" fill="rgba(64,64,64,0.8)"/><text x="1031.3" y="401.7" font-size="3.45" fill="#dadada">Multiply</text><rect x="1029" y="403.15" width="31.75" height="2.3" fill="#3F8EF5"/><rect x="1029" y="405.45" width="14" height="15.5" fill="rgba(67,67,67,0.8)"/><rect x="1043" y="405.45" width="17.75" height="15.5" fill="rgba(50,50,50,0.8)"/><circle cx="1032.3" cy="410.15" r="1" fill="#84E4E7"/><text x="1035.7" y="411.25" font-size="3.1" fill="#cccccc">A(1)</text><circle cx="1032.3" cy="416.65" r="0.85" fill="#262626" stroke="#84E4E7" stroke-width="0.45" stroke-opacity="0.75"/><text x="1035.7" y="417.75" font-size="3.1" fill="#cccccc">B(1)</text><circle cx="1057.75" cy="410.15" r="1" fill="#84E4E7"/><text x="1054.45" y="411.25" font-size="3.1" fill="#cccccc" text-anchor="end">Out(1)</text><rect x="1029" y="420.95" width="31.75" height="4.6" fill="rgba(62,62,62,0.8)"/><path d="M1043.62 422.65 l1.25 1.25 l1.25 -1.25" fill="none" stroke="#dcdcdc" stroke-width="0.85"/></g><g><rect x="1113.8" y="395.45" width="42.5" height="46.1" fill="none" stroke="#181818" stroke-opacity="0.55" stroke-width="0.6"/><rect x="1114.1" y="395.75" width="41.9" height="7.3" fill="rgba(64,64,64,0.8)"/><text x="1116.4" y="401.6" font-size="3.45" fill="#dadada">Rotate About Axis</text><rect x="1114.1" y="403.05" width="41.9" height="2.3" fill="#3F8EF5"/><rect x="1114.1" y="405.35" width="24" height="22" fill="rgba(67,67,67,0.8)"/><rect x="1138.1" y="405.35" width="17.9" height="22" fill="rgba(50,50,50,0.8)"/><circle cx="1117.4" cy="410.05" r="1" fill="#F6FF9A"/><text x="1120.8" y="411.15" font-size="3.1" fill="#cccccc">In(3)</text><circle cx="1117.4" cy="416.55" r="0.85" fill="#262626" stroke="#F6FF9A" stroke-width="0.45" stroke-opacity="0.75"/><text x="1120.8" y="417.65" font-size="3.1" fill="#cccccc">Axis(3)</text><circle cx="1117.4" cy="423.05" r="1" fill="#84E4E7"/><text x="1120.8" y="424.15" font-size="3.1" fill="#cccccc">Rotation(1)</text><circle cx="1153" cy="410.05" r="1" fill="#F6FF9A"/><text x="1149.7" y="411.15" font-size="3.1" fill="#cccccc" text-anchor="end">Out(3)</text><rect x="1114.1" y="427.35" width="41.9" height="9" fill="rgba(62,62,62,0.8)"/><text x="1117.1" y="432.85" font-size="3" fill="#c8c8c8">Unit</text><rect x="1132.8" y="429.85" width="20.6" height="4" fill="#565656" rx="0.5"/><text x="1134" y="432.85" font-size="2.9" fill="#e6e6e6" font-weight="bold">Radians</text><path d="M1150.4 431.35 l1.6 0 l-0.8 1.1 z" fill="#d0d0d0"/><rect x="1114.1" y="436.35" width="41.9" height="4.9" fill="rgba(62,62,62,0.8)"/><path d="M1133.8 438.2 l1.25 1.25 l1.25 -1.25" fill="none" stroke="#dcdcdc" stroke-width="0.85"/></g><g><rect x="1198.7" y="393.7" width="33.7" height="36.9" fill="none" stroke="#181818" stroke-opacity="0.55" stroke-width="0.6"/><rect x="1199" y="394" width="33.1" height="7.4" fill="rgba(64,64,64,0.8)"/><text x="1201.3" y="399.95" font-size="3.45" fill="#dadada">Lerp</text><rect x="1199" y="401.4" width="33.1" height="2.3" fill="#3F8EF5"/><rect x="1199" y="403.7" width="13.75" height="22" fill="rgba(67,67,67,0.8)"/><rect x="1212.75" y="403.7" width="19.35" height="22" fill="rgba(50,50,50,0.8)"/><circle cx="1202.3" cy="408.4" r="1" fill="#F6FF9A"/><text x="1205.7" y="409.5" font-size="3.1" fill="#cccccc">A(3)</text><circle cx="1202.3" cy="414.9" r="1" fill="#F6FF9A"/><text x="1205.7" y="416" font-size="3.1" fill="#cccccc">B(3)</text><circle cx="1202.3" cy="421.4" r="1" fill="#F6FF9A"/><text x="1205.7" y="422.5" font-size="3.1" fill="#cccccc">T(3)</text><circle cx="1229.1" cy="408.4" r="1" fill="#F6FF9A"/><text x="1225.8" y="409.5" font-size="3.1" fill="#cccccc" text-anchor="end">Out(3)</text><rect x="1199" y="425.7" width="33.1" height="4.6" fill="rgba(62,62,62,0.8)"/><path d="M1214.3 427.4 l1.25 1.25 l1.25 -1.25" fill="none" stroke="#dcdcdc" stroke-width="0.85"/></g><g><rect x="69.2" y="1018.7" width="32.1" height="45.3" fill="none" stroke="#181818" stroke-opacity="0.55" stroke-width="0.6"/><rect x="69.5" y="1019" width="31.5" height="7.4" fill="rgba(64,64,64,0.8)"/><text x="71.8" y="1024.95" font-size="3.45" fill="#dadada">Time</text><rect x="69.5" y="1026.4" width="31.5" height="2.3" fill="#E8341F"/><rect x="69.5" y="1028.7" width="31.5" height="35" fill="rgba(50,50,50,0.8)"/><circle cx="98" cy="1033.4" r="1" fill="#84E4E7"/><text x="94.7" y="1034.5" font-size="3.1" fill="#cccccc" text-anchor="end">Time(1)</text><circle cx="98" cy="1039.9" r="0.85" fill="#262626" stroke="#84E4E7" stroke-width="0.45" stroke-opacity="0.75"/><text x="94.7" y="1041" font-size="3.1" fill="#cccccc" text-anchor="end">Sine Time(1)</text><circle cx="98" cy="1046.4" r="0.85" fill="#262626" stroke="#84E4E7" stroke-width="0.45" stroke-opacity="0.75"/><text x="94.7" y="1047.5" font-size="3.1" fill="#cccccc" text-anchor="end">Cosine Time(1)</text><circle cx="98" cy="1052.9" r="0.85" fill="#262626" stroke="#84E4E7" stroke-width="0.45" stroke-opacity="0.75"/><text x="94.7" y="1054" font-size="3.1" fill="#cccccc" text-anchor="end">Delta Time(1)</text><circle cx="98" cy="1059.4" r="0.85" fill="#262626" stroke="#84E4E7" stroke-width="0.45" stroke-opacity="0.75"/><text x="94.7" y="1060.5" font-size="3.1" fill="#cccccc" text-anchor="end">Smooth Delta(1)</text></g><g><rect x="126.7" y="1018.7" width="32.6" height="30.4" fill="none" stroke="#181818" stroke-opacity="0.55" stroke-width="0.6"/><rect x="127" y="1019" width="32" height="7.4" fill="rgba(64,64,64,0.8)"/><text x="129.3" y="1024.95" font-size="3.45" fill="#dadada">Multiply</text><rect x="127" y="1026.4" width="32" height="2.3" fill="#3F8EF5"/><rect x="127" y="1028.7" width="14" height="15.5" fill="rgba(67,67,67,0.8)"/><rect x="141" y="1028.7" width="18" height="15.5" fill="rgba(50,50,50,0.8)"/><circle cx="130.3" cy="1033.4" r="1" fill="#84E4E7"/><text x="133.7" y="1034.5" font-size="3.1" fill="#cccccc">A(1)</text><circle cx="130.3" cy="1039.9" r="0.85" fill="#262626" stroke="#84E4E7" stroke-width="0.45" stroke-opacity="0.75"/><text x="133.7" y="1041" font-size="3.1" fill="#cccccc">B(1)</text><circle cx="156" cy="1033.4" r="1" fill="#84E4E7"/><text x="152.7" y="1034.5" font-size="3.1" fill="#cccccc" text-anchor="end">Out(1)</text><rect x="127" y="1044.2" width="32" height="4.6" fill="rgba(62,62,62,0.8)"/><path d="M141.75 1045.9 l1.25 1.25 l1.25 -1.25" fill="none" stroke="#dcdcdc" stroke-width="0.85"/></g><g><rect x="167.45" y="1018.7" width="32.85" height="23.9" fill="none" stroke="#181818" stroke-opacity="0.55" stroke-width="0.6"/><rect x="167.75" y="1019" width="32.25" height="7.4" fill="rgba(64,64,64,0.8)"/><text x="170.05" y="1024.95" font-size="3.45" fill="#dadada">Sine</text><rect x="167.75" y="1026.4" width="32.25" height="2.3" fill="#3F8EF5"/><rect x="167.75" y="1028.7" width="14.5" height="9" fill="rgba(67,67,67,0.8)"/><rect x="182.25" y="1028.7" width="17.75" height="9" fill="rgba(50,50,50,0.8)"/><circle cx="171.05" cy="1033.4" r="1" fill="#84E4E7"/><text x="174.45" y="1034.5" font-size="3.1" fill="#cccccc">In(1)</text><circle cx="197" cy="1033.4" r="1" fill="#84E4E7"/><text x="193.7" y="1034.5" font-size="3.1" fill="#cccccc" text-anchor="end">Out(1)</text><rect x="167.75" y="1037.7" width="32.25" height="4.6" fill="rgba(62,62,62,0.8)"/><path d="M182.62 1039.4 l1.25 1.25 l1.25 -1.25" fill="none" stroke="#dcdcdc" stroke-width="0.85"/></g><g><rect x="226.2" y="1018.7" width="32.6" height="30.4" fill="none" stroke="#181818" stroke-opacity="0.55" stroke-width="0.6"/><rect x="226.5" y="1019" width="32" height="7.4" fill="rgba(64,64,64,0.8)"/><text x="228.8" y="1024.95" font-size="3.45" fill="#dadada">Add</text><rect x="226.5" y="1026.4" width="32" height="2.3" fill="#3F8EF5"/><rect x="226.5" y="1028.7" width="14" height="15.5" fill="rgba(67,67,67,0.8)"/><rect x="240.5" y="1028.7" width="18" height="15.5" fill="rgba(50,50,50,0.8)"/><circle cx="229.8" cy="1033.4" r="1" fill="#84E4E7"/><text x="233.2" y="1034.5" font-size="3.1" fill="#cccccc">A(1)</text><circle cx="229.8" cy="1039.9" r="0.85" fill="#262626" stroke="#84E4E7" stroke-width="0.45" stroke-opacity="0.75"/><text x="233.2" y="1041" font-size="3.1" fill="#cccccc">B(1)</text><circle cx="255.5" cy="1033.4" r="1" fill="#84E4E7"/><text x="252.2" y="1034.5" font-size="3.1" fill="#cccccc" text-anchor="end">Out(1)</text><rect x="226.5" y="1044.2" width="32" height="4.6" fill="rgba(62,62,62,0.8)"/><path d="M241.25 1045.9 l1.25 1.25 l1.25 -1.25" fill="none" stroke="#dcdcdc" stroke-width="0.85"/></g><g><rect x="282.45" y="1018.7" width="32.85" height="30.4" fill="none" stroke="#181818" stroke-opacity="0.55" stroke-width="0.6"/><rect x="282.75" y="1019" width="32.25" height="7.4" fill="rgba(64,64,64,0.8)"/><text x="285.05" y="1024.95" font-size="3.45" fill="#dadada">Divide</text><rect x="282.75" y="1026.4" width="32.25" height="2.3" fill="#3F8EF5"/><rect x="282.75" y="1028.7" width="14" height="15.5" fill="rgba(67,67,67,0.8)"/><rect x="296.75" y="1028.7" width="18.25" height="15.5" fill="rgba(50,50,50,0.8)"/><circle cx="286.05" cy="1033.4" r="1" fill="#84E4E7"/><text x="289.45" y="1034.5" font-size="3.1" fill="#cccccc">A(1)</text><circle cx="286.05" cy="1039.9" r="0.85" fill="#262626" stroke="#84E4E7" stroke-width="0.45" stroke-opacity="0.75"/><text x="289.45" y="1041" font-size="3.1" fill="#cccccc">B(1)</text><circle cx="312" cy="1033.4" r="1" fill="#84E4E7"/><text x="308.7" y="1034.5" font-size="3.1" fill="#cccccc" text-anchor="end">Out(1)</text><rect x="282.75" y="1044.2" width="32.25" height="4.6" fill="rgba(62,62,62,0.8)"/><path d="M297.62 1045.9 l1.25 1.25 l1.25 -1.25" fill="none" stroke="#dcdcdc" stroke-width="0.85"/></g><rect x="279.25" y="991.5" width="34.75" height="7" fill="#494949" rx="3.5"/><circle cx="282.25" cy="995" r="0.65" fill="#B5E655"/><text x="284.85" y="996.1" font-size="3.15" fill="#d8d8d8">Automatic1(B)</text><circle cx="308.6" cy="995" r="1" fill="#9481E6"/><rect x="276.5" y="1000.75" width="38" height="7" fill="#494949" rx="3.5"/><circle cx="279.5" cy="1004.25" r="0.65" fill="#B5E655"/><text x="282.1" y="1005.35" font-size="3.15" fill="#d8d8d8">StartStopLerp(1)</text><circle cx="309.1" cy="1004.25" r="1" fill="#84E4E7"/><g><rect x="332.45" y="1012.2" width="44.1" height="36.9" fill="none" stroke="#181818" stroke-opacity="0.55" stroke-width="0.6"/><rect x="332.75" y="1012.5" width="43.5" height="7.4" fill="rgba(64,64,64,0.8)"/><text x="335.05" y="1018.45" font-size="3.45" fill="#dadada">Branch</text><rect x="332.75" y="1019.9" width="43.5" height="2.3" fill="#CBCBCB"/><rect x="332.75" y="1022.2" width="26" height="22" fill="rgba(67,67,67,0.8)"/><rect x="358.75" y="1022.2" width="17.5" height="22" fill="rgba(50,50,50,0.8)"/><circle cx="336.05" cy="1026.9" r="1" fill="#9481E6"/><text x="339.45" y="1028" font-size="3.1" fill="#cccccc">Predicate(B)</text><circle cx="336.05" cy="1033.4" r="1" fill="#84E4E7"/><text x="339.45" y="1034.5" font-size="3.1" fill="#cccccc">True(1)</text><circle cx="336.05" cy="1039.9" r="1" fill="#84E4E7"/><text x="339.45" y="1041" font-size="3.1" fill="#cccccc">False(1)</text><circle cx="373.25" cy="1026.9" r="1" fill="#84E4E7"/><text x="369.95" y="1028" font-size="3.1" fill="#cccccc" text-anchor="end">Out(1)</text><rect x="332.75" y="1044.2" width="43.5" height="4.6" fill="rgba(62,62,62,0.8)"/><path d="M353.25 1045.9 l1.25 1.25 l1.25 -1.25" fill="none" stroke="#dcdcdc" stroke-width="0.85"/></g><g><rect x="400.95" y="1011.2" width="38.1" height="35.05" fill="none" stroke="#181818" stroke-opacity="0.55" stroke-width="0.6"/><rect x="401.25" y="1011.5" width="37.5" height="7.4" fill="rgba(64,64,64,0.8)"/><text x="403.55" y="1017.45" font-size="3.45" fill="#dadada">Comparison</text><rect x="401.25" y="1018.9" width="37.5" height="2.3" fill="#CBCBCB"/><rect x="401.25" y="1021.2" width="16.5" height="15.5" fill="rgba(67,67,67,0.8)"/><rect x="417.75" y="1021.2" width="21" height="15.5" fill="rgba(50,50,50,0.8)"/><circle cx="404.55" cy="1025.9" r="1" fill="#84E4E7"/><text x="407.95" y="1027" font-size="3.1" fill="#cccccc">A(1)</text><circle cx="404.55" cy="1032.4" r="0.85" fill="#262626" stroke="#84E4E7" stroke-width="0.45" stroke-opacity="0.75"/><text x="407.95" y="1033.5" font-size="3.1" fill="#cccccc">B(1)</text><circle cx="435.75" cy="1025.9" r="1" fill="#9481E6"/><text x="432.45" y="1027" font-size="3.1" fill="#cccccc" text-anchor="end">Out(B)</text><rect x="401.25" y="1036.7" width="37.5" height="9.25" fill="rgba(62,62,62,0.8)"/><rect x="414.55" y="1039.12" width="21.9" height="4.4" fill="#565656" rx="0.5"/><text x="415.75" y="1042.32" font-size="2.9" fill="#e6e6e6" font-weight="bold">Greater Or E</text><path d="M433.45 1040.82 l1.6 0 l-0.8 1.1 z" fill="#d0d0d0"/></g><g><rect x="463.7" y="1009.7" width="44.5" height="36.9" fill="none" stroke="#181818" stroke-opacity="0.55" stroke-width="0.6"/><rect x="464" y="1010" width="43.9" height="7.4" fill="rgba(64,64,64,0.8)"/><text x="466.3" y="1015.95" font-size="3.45" fill="#dadada">Branch</text><rect x="464" y="1017.4" width="43.9" height="2.3" fill="#CBCBCB"/><rect x="464" y="1019.7" width="26" height="22" fill="rgba(67,67,67,0.8)"/><rect x="490" y="1019.7" width="17.9" height="22" fill="rgba(50,50,50,0.8)"/><circle cx="467.3" cy="1024.4" r="1" fill="#9481E6"/><text x="470.7" y="1025.5" font-size="3.1" fill="#cccccc">Predicate(B)</text><circle cx="467.3" cy="1030.9" r="0.85" fill="#262626" stroke="#84E4E7" stroke-width="0.45" stroke-opacity="0.75"/><text x="470.7" y="1032" font-size="3.1" fill="#cccccc">True(1)</text><circle cx="467.3" cy="1037.4" r="0.85" fill="#262626" stroke="#84E4E7" stroke-width="0.45" stroke-opacity="0.75"/><text x="470.7" y="1038.5" font-size="3.1" fill="#cccccc">False(1)</text><circle cx="504.9" cy="1024.4" r="1" fill="#84E4E7"/><text x="501.6" y="1025.5" font-size="3.1" fill="#cccccc" text-anchor="end">Out(1)</text><rect x="464" y="1041.7" width="43.9" height="4.6" fill="rgba(62,62,62,0.8)"/><path d="M484.7 1043.4 l1.25 1.25 l1.25 -1.25" fill="none" stroke="#dcdcdc" stroke-width="0.85"/></g><rect x="172" y="1085.5" width="41" height="7" fill="#494949" rx="3.5"/><circle cx="175" cy="1089" r="0.65" fill="#B5E655"/><text x="177.6" y="1090.1" font-size="3.15" fill="#d8d8d8">AnimationSpeed(1)</text><circle cx="207.6" cy="1089" r="1" fill="#84E4E7"/><g><rect x="181.7" y="1094.2" width="31.6" height="45.3" fill="none" stroke="#181818" stroke-opacity="0.55" stroke-width="0.6"/><rect x="182" y="1094.5" width="31" height="7.4" fill="rgba(64,64,64,0.8)"/><text x="184.3" y="1100.45" font-size="3.45" fill="#dadada">Time</text><rect x="182" y="1101.9" width="31" height="2.3" fill="#E8341F"/><rect x="182" y="1104.2" width="31" height="35" fill="rgba(50,50,50,0.8)"/><circle cx="210" cy="1108.9" r="1" fill="#84E4E7"/><text x="206.7" y="1110" font-size="3.1" fill="#cccccc" text-anchor="end">Time(1)</text><circle cx="210" cy="1115.4" r="0.85" fill="#262626" stroke="#84E4E7" stroke-width="0.45" stroke-opacity="0.75"/><text x="206.7" y="1116.5" font-size="3.1" fill="#cccccc" text-anchor="end">Sine Time(1)</text><circle cx="210" cy="1121.9" r="0.85" fill="#262626" stroke="#84E4E7" stroke-width="0.45" stroke-opacity="0.75"/><text x="206.7" y="1123" font-size="3.1" fill="#cccccc" text-anchor="end">Cosine Time(1)</text><circle cx="210" cy="1128.4" r="0.85" fill="#262626" stroke="#84E4E7" stroke-width="0.45" stroke-opacity="0.75"/><text x="206.7" y="1129.5" font-size="3.1" fill="#cccccc" text-anchor="end">Delta Time(1)</text><circle cx="210" cy="1134.9" r="0.85" fill="#262626" stroke="#84E4E7" stroke-width="0.45" stroke-opacity="0.75"/><text x="206.7" y="1136" font-size="3.1" fill="#cccccc" text-anchor="end">Smooth Delta(1)</text></g><g><rect x="237.45" y="1094.2" width="32.6" height="30.4" fill="none" stroke="#181818" stroke-opacity="0.55" stroke-width="0.6"/><rect x="237.75" y="1094.5" width="32" height="7.4" fill="rgba(64,64,64,0.8)"/><text x="240.05" y="1100.45" font-size="3.45" fill="#dadada">Multiply</text><rect x="237.75" y="1101.9" width="32" height="2.3" fill="#3F8EF5"/><rect x="237.75" y="1104.2" width="14" height="15.5" fill="rgba(67,67,67,0.8)"/><rect x="251.75" y="1104.2" width="18" height="15.5" fill="rgba(50,50,50,0.8)"/><circle cx="241.05" cy="1108.9" r="1" fill="#84E4E7"/><text x="244.45" y="1110" font-size="3.1" fill="#cccccc">A(1)</text><circle cx="241.05" cy="1115.4" r="1" fill="#84E4E7"/><text x="244.45" y="1116.5" font-size="3.1" fill="#cccccc">B(1)</text><circle cx="266.75" cy="1108.9" r="1" fill="#84E4E7"/><text x="263.45" y="1110" font-size="3.1" fill="#cccccc" text-anchor="end">Out(1)</text><rect x="237.75" y="1119.7" width="32" height="4.6" fill="rgba(62,62,62,0.8)"/><path d="M252.5 1121.4 l1.25 1.25 l1.25 -1.25" fill="none" stroke="#dcdcdc" stroke-width="0.85"/></g><g><rect x="282.2" y="1094.2" width="33.1" height="23.9" fill="none" stroke="#181818" stroke-opacity="0.55" stroke-width="0.6"/><rect x="282.5" y="1094.5" width="32.5" height="7.4" fill="rgba(64,64,64,0.8)"/><text x="284.8" y="1100.45" font-size="3.45" fill="#dadada">Sine</text><rect x="282.5" y="1101.9" width="32.5" height="2.3" fill="#3F8EF5"/><rect x="282.5" y="1104.2" width="14.5" height="9" fill="rgba(67,67,67,0.8)"/><rect x="297" y="1104.2" width="18" height="9" fill="rgba(50,50,50,0.8)"/><circle cx="285.8" cy="1108.9" r="1" fill="#84E4E7"/><text x="289.2" y="1110" font-size="3.1" fill="#cccccc">In(1)</text><circle cx="312" cy="1108.9" r="1" fill="#84E4E7"/><text x="308.7" y="1110" font-size="3.1" fill="#cccccc" text-anchor="end">Out(1)</text><rect x="282.5" y="1113.2" width="32.5" height="4.6" fill="rgba(62,62,62,0.8)"/><path d="M297.5 1114.9 l1.25 1.25 l1.25 -1.25" fill="none" stroke="#dcdcdc" stroke-width="0.85"/></g><g><rect x="340.3" y="1094.3" width="36.6" height="36.9" fill="none" stroke="#181818" stroke-opacity="0.55" stroke-width="0.6"/><rect x="340.6" y="1094.6" width="36" height="7.4" fill="rgba(64,64,64,0.8)"/><text x="342.9" y="1100.55" font-size="3.45" fill="#dadada">Clamp</text><rect x="340.6" y="1102" width="36" height="2.3" fill="#3F8EF5"/><rect x="340.6" y="1104.3" width="18" height="22" fill="rgba(67,67,67,0.8)"/><rect x="358.6" y="1104.3" width="18" height="22" fill="rgba(50,50,50,0.8)"/><circle cx="343.9" cy="1109" r="1" fill="#84E4E7"/><text x="347.3" y="1110.1" font-size="3.1" fill="#cccccc">In(1)</text><circle cx="343.9" cy="1115.5" r="0.85" fill="#262626" stroke="#84E4E7" stroke-width="0.45" stroke-opacity="0.75"/><text x="347.3" y="1116.6" font-size="3.1" fill="#cccccc">Min(1)</text><circle cx="343.9" cy="1122" r="0.85" fill="#262626" stroke="#84E4E7" stroke-width="0.45" stroke-opacity="0.75"/><text x="347.3" y="1123.1" font-size="3.1" fill="#cccccc">Max(1)</text><circle cx="373.6" cy="1109" r="1" fill="#84E4E7"/><text x="370.3" y="1110.1" font-size="3.1" fill="#cccccc" text-anchor="end">Out(1)</text><rect x="340.6" y="1126.3" width="36" height="4.6" fill="rgba(62,62,62,0.8)"/><path d="M357.35 1128 l1.25 1.25 l1.25 -1.25" fill="none" stroke="#dcdcdc" stroke-width="0.85"/></g><g><rect x="401.6" y="1095.95" width="37.8" height="35.05" fill="none" stroke="#181818" stroke-opacity="0.55" stroke-width="0.6"/><rect x="401.9" y="1096.25" width="37.2" height="7.4" fill="rgba(64,64,64,0.8)"/><text x="404.2" y="1102.2" font-size="3.45" fill="#dadada">Comparison</text><rect x="401.9" y="1103.65" width="37.2" height="2.3" fill="#CBCBCB"/><rect x="401.9" y="1105.95" width="16.5" height="15.5" fill="rgba(67,67,67,0.8)"/><rect x="418.4" y="1105.95" width="20.7" height="15.5" fill="rgba(50,50,50,0.8)"/><circle cx="405.2" cy="1110.65" r="1" fill="#84E4E7"/><text x="408.6" y="1111.75" font-size="3.1" fill="#cccccc">A(1)</text><circle cx="405.2" cy="1117.15" r="0.85" fill="#262626" stroke="#84E4E7" stroke-width="0.45" stroke-opacity="0.75"/><text x="408.6" y="1118.25" font-size="3.1" fill="#cccccc">B(1)</text><circle cx="436.1" cy="1110.65" r="1" fill="#9481E6"/><text x="432.8" y="1111.75" font-size="3.1" fill="#cccccc" text-anchor="end">Out(B)</text><rect x="401.9" y="1121.45" width="37.2" height="9.25" fill="rgba(62,62,62,0.8)"/><rect x="414.9" y="1123.88" width="21.9" height="4.4" fill="#565656" rx="0.5"/><text x="416.1" y="1127.08" font-size="2.9" fill="#e6e6e6" font-weight="bold">Greater Or E</text><path d="M433.8 1125.58 l1.6 0 l-0.8 1.1 z" fill="#d0d0d0"/></g><g><rect x="463.7" y="1095.7" width="44.5" height="36.9" fill="none" stroke="#181818" stroke-opacity="0.55" stroke-width="0.6"/><rect x="464" y="1096" width="43.9" height="7.4" fill="rgba(64,64,64,0.8)"/><text x="466.3" y="1101.95" font-size="3.45" fill="#dadada">Branch</text><rect x="464" y="1103.4" width="43.9" height="2.3" fill="#CBCBCB"/><rect x="464" y="1105.7" width="26" height="22" fill="rgba(67,67,67,0.8)"/><rect x="490" y="1105.7" width="17.9" height="22" fill="rgba(50,50,50,0.8)"/><circle cx="467.3" cy="1110.4" r="1" fill="#9481E6"/><text x="470.7" y="1111.5" font-size="3.1" fill="#cccccc">Predicate(B)</text><circle cx="467.3" cy="1116.9" r="1" fill="#84E4E7"/><text x="470.7" y="1118" font-size="3.1" fill="#cccccc">True(1)</text><circle cx="467.3" cy="1123.4" r="0.85" fill="#262626" stroke="#84E4E7" stroke-width="0.45" stroke-opacity="0.75"/><text x="470.7" y="1124.5" font-size="3.1" fill="#cccccc">False(1)</text><circle cx="504.9" cy="1110.4" r="1" fill="#84E4E7"/><text x="501.6" y="1111.5" font-size="3.1" fill="#cccccc" text-anchor="end">Out(1)</text><rect x="464" y="1127.7" width="43.9" height="4.6" fill="rgba(62,62,62,0.8)"/><path d="M484.7 1129.4 l1.25 1.25 l1.25 -1.25" fill="none" stroke="#dcdcdc" stroke-width="0.85"/></g><g><rect x="273.7" y="1125.2" width="32.6" height="30.4" fill="none" stroke="#181818" stroke-opacity="0.55" stroke-width="0.6"/><rect x="274" y="1125.5" width="32" height="7.4" fill="rgba(64,64,64,0.8)"/><text x="276.3" y="1131.45" font-size="3.45" fill="#dadada">Subtract</text><rect x="274" y="1132.9" width="32" height="2.3" fill="#3F8EF5"/><rect x="274" y="1135.2" width="14" height="15.5" fill="rgba(67,67,67,0.8)"/><rect x="288" y="1135.2" width="18" height="15.5" fill="rgba(50,50,50,0.8)"/><circle cx="277.3" cy="1139.9" r="1" fill="#84E4E7"/><text x="280.7" y="1141" font-size="3.1" fill="#cccccc">A(1)</text><circle cx="277.3" cy="1146.4" r="1" fill="#84E4E7"/><text x="280.7" y="1147.5" font-size="3.1" fill="#cccccc">B(1)</text><circle cx="303" cy="1139.9" r="1" fill="#84E4E7"/><text x="299.7" y="1141" font-size="3.1" fill="#cccccc" text-anchor="end">Out(1)</text><rect x="274" y="1150.7" width="32" height="4.6" fill="rgba(62,62,62,0.8)"/><path d="M288.75 1152.4 l1.25 1.25 l1.25 -1.25" fill="none" stroke="#dcdcdc" stroke-width="0.85"/></g><g><rect x="237.45" y="1145.7" width="32.6" height="30.4" fill="none" stroke="#181818" stroke-opacity="0.55" stroke-width="0.6"/><rect x="237.75" y="1146" width="32" height="7.4" fill="rgba(64,64,64,0.8)"/><text x="240.05" y="1151.95" font-size="3.45" fill="#dadada">Multiply</text><rect x="237.75" y="1153.4" width="32" height="2.3" fill="#3F8EF5"/><rect x="237.75" y="1155.7" width="14" height="15.5" fill="rgba(67,67,67,0.8)"/><rect x="251.75" y="1155.7" width="18" height="15.5" fill="rgba(50,50,50,0.8)"/><circle cx="241.05" cy="1160.4" r="1" fill="#84E4E7"/><text x="244.45" y="1161.5" font-size="3.1" fill="#cccccc">A(1)</text><circle cx="241.05" cy="1166.9" r="1" fill="#84E4E7"/><text x="244.45" y="1168" font-size="3.1" fill="#cccccc">B(1)</text><circle cx="266.75" cy="1160.4" r="1" fill="#84E4E7"/><text x="263.45" y="1161.5" font-size="3.1" fill="#cccccc" text-anchor="end">Out(1)</text><rect x="237.75" y="1171.2" width="32" height="4.6" fill="rgba(62,62,62,0.8)"/><path d="M252.5 1172.9 l1.25 1.25 l1.25 -1.25" fill="none" stroke="#dcdcdc" stroke-width="0.85"/></g><g><rect x="182.7" y="1145.7" width="30.6" height="38.8" fill="none" stroke="#181818" stroke-opacity="0.55" stroke-width="0.6"/><rect x="183" y="1146" width="30" height="7.4" fill="rgba(64,64,64,0.8)"/><text x="185.3" y="1151.95" font-size="3.45" fill="#dadada">Split</text><rect x="183" y="1153.4" width="30" height="2.3" fill="#A7E522"/><rect x="183" y="1155.7" width="15" height="28.5" fill="rgba(67,67,67,0.8)"/><rect x="198" y="1155.7" width="15" height="28.5" fill="rgba(50,50,50,0.8)"/><circle cx="186.3" cy="1160.4" r="1" fill="#FBCBF4"/><text x="189.7" y="1161.5" font-size="3.1" fill="#cccccc">In(4)</text><circle cx="210" cy="1160.4" r="0.85" fill="#262626" stroke="#84E4E7" stroke-width="0.45" stroke-opacity="0.75"/><text x="206.7" y="1161.5" font-size="3.1" fill="#cccccc" text-anchor="end">R(1)</text><circle cx="210" cy="1166.9" r="0.85" fill="#262626" stroke="#84E4E7" stroke-width="0.45" stroke-opacity="0.75"/><text x="206.7" y="1168" font-size="3.1" fill="#cccccc" text-anchor="end">G(1)</text><circle cx="210" cy="1173.4" r="0.85" fill="#262626" stroke="#84E4E7" stroke-width="0.45" stroke-opacity="0.75"/><text x="206.7" y="1174.5" font-size="3.1" fill="#cccccc" text-anchor="end">B(1)</text><circle cx="210" cy="1179.9" r="1" fill="#84E4E7"/><text x="206.7" y="1181" font-size="3.1" fill="#cccccc" text-anchor="end">A(1)</text></g><g><rect x="110.7" y="1145.7" width="55.1" height="73.5" fill="none" stroke="#181818" stroke-opacity="0.55" stroke-width="0.6"/><rect x="111" y="1146" width="54.5" height="7.4" fill="rgba(64,64,64,0.8)"/><text x="113.3" y="1151.95" font-size="3.45" fill="#dadada">Vertex Color</text><rect x="111" y="1153.4" width="54.5" height="2.3" fill="#E8341F"/><rect x="111" y="1155.7" width="54.5" height="9" fill="rgba(50,50,50,0.8)"/><circle cx="162.5" cy="1160.4" r="1" fill="#FBCBF4"/><text x="159.2" y="1161.5" font-size="3.1" fill="#cccccc" text-anchor="end">Out(4)</text><rect x="111" y="1165.1" width="54.5" height="53.8" fill="#585858"/><circle cx="138.25" cy="1192" r="25" fill="#fff"/></g><rect x="168" y="1186.5" width="45" height="7" fill="#494949" rx="3.5"/><circle cx="171" cy="1190" r="0.65" fill="#B5E655"/><text x="173.6" y="1191.1" font-size="3.15" fill="#d8d8d8">VertexColourOffset(1)</text><circle cx="207.6" cy="1190" r="1" fill="#84E4E7"/><rect x="558" y="1093.25" width="15" height="6" fill="#3b3b3b" rx="2"/><circle cx="560.6" cy="1096.25" r="0.95" fill="#84E4E7"/><circle cx="570.4" cy="1096.25" r="0.95" fill="#84E4E7"/><g><rect x="567.2" y="734.2" width="55.1" height="73.8" fill="none" stroke="#181818" stroke-opacity="0.55" stroke-width="0.6"/><rect x="567.5" y="734.5" width="54.5" height="7.4" fill="rgba(64,64,64,0.8)"/><text x="569.8" y="740.45" font-size="3.45" fill="#dadada">Vertex Color</text><rect x="567.5" y="741.9" width="54.5" height="2.3" fill="#E8341F"/><rect x="567.5" y="744.2" width="54.5" height="9" fill="rgba(50,50,50,0.8)"/><circle cx="619" cy="748.9" r="1" fill="#FBCBF4"/><text x="615.7" y="750" font-size="3.1" fill="#cccccc" text-anchor="end">Out(4)</text><rect x="567.5" y="753.6" width="54.5" height="54.1" fill="#585858"/><circle cx="594.75" cy="780.65" r="25" fill="#fff"/></g><g><rect x="629.7" y="734.2" width="30.85" height="38.8" fill="none" stroke="#181818" stroke-opacity="0.55" stroke-width="0.6"/><rect x="630" y="734.5" width="30.25" height="7.4" fill="rgba(64,64,64,0.8)"/><text x="632.3" y="740.45" font-size="3.45" fill="#dadada">Split</text><rect x="630" y="741.9" width="30.25" height="2.3" fill="#A7E522"/><rect x="630" y="744.2" width="15" height="28.5" fill="rgba(67,67,67,0.8)"/><rect x="645" y="744.2" width="15.25" height="28.5" fill="rgba(50,50,50,0.8)"/><circle cx="633.3" cy="748.9" r="1" fill="#FBCBF4"/><text x="636.7" y="750" font-size="3.1" fill="#cccccc">In(4)</text><circle cx="657.25" cy="748.9" r="0.85" fill="#262626" stroke="#84E4E7" stroke-width="0.45" stroke-opacity="0.75"/><text x="653.95" y="750" font-size="3.1" fill="#cccccc" text-anchor="end">R(1)</text><circle cx="657.25" cy="755.4" r="0.85" fill="#262626" stroke="#84E4E7" stroke-width="0.45" stroke-opacity="0.75"/><text x="653.95" y="756.5" font-size="3.1" fill="#cccccc" text-anchor="end">G(1)</text><circle cx="657.25" cy="761.9" r="0.85" fill="#262626" stroke="#84E4E7" stroke-width="0.45" stroke-opacity="0.75"/><text x="653.95" y="763" font-size="3.1" fill="#cccccc" text-anchor="end">B(1)</text><circle cx="657.25" cy="768.4" r="1" fill="#84E4E7"/><text x="653.95" y="769.5" font-size="3.1" fill="#cccccc" text-anchor="end">A(1)</text></g><g><rect x="685.3" y="734.3" width="32.7" height="30.4" fill="none" stroke="#181818" stroke-opacity="0.55" stroke-width="0.6"/><rect x="685.6" y="734.6" width="32.1" height="7.4" fill="rgba(64,64,64,0.8)"/><text x="687.9" y="740.55" font-size="3.45" fill="#dadada">Multiply</text><rect x="685.6" y="742" width="32.1" height="2.3" fill="#3F8EF5"/><rect x="685.6" y="744.3" width="14" height="15.5" fill="rgba(67,67,67,0.8)"/><rect x="699.6" y="744.3" width="18.1" height="15.5" fill="rgba(50,50,50,0.8)"/><circle cx="688.9" cy="749" r="1" fill="#84E4E7"/><text x="692.3" y="750.1" font-size="3.1" fill="#cccccc">A(1)</text><circle cx="688.9" cy="755.5" r="0.85" fill="#262626" stroke="#84E4E7" stroke-width="0.45" stroke-opacity="0.75"/><text x="692.3" y="756.6" font-size="3.1" fill="#cccccc">B(1)</text><circle cx="714.7" cy="749" r="1" fill="#84E4E7"/><text x="711.4" y="750.1" font-size="3.1" fill="#cccccc" text-anchor="end">Out(1)</text><rect x="685.6" y="759.8" width="32.1" height="4.6" fill="rgba(62,62,62,0.8)"/><path d="M700.4 761.5 l1.25 1.25 l1.25 -1.25" fill="none" stroke="#dcdcdc" stroke-width="0.85"/></g><g><rect x="729.7" y="734.3" width="33.7" height="23.9" fill="none" stroke="#181818" stroke-opacity="0.55" stroke-width="0.6"/><rect x="730" y="734.6" width="33.1" height="7.4" fill="rgba(64,64,64,0.8)"/><text x="732.3" y="740.55" font-size="3.45" fill="#dadada">Ceiling</text><rect x="730" y="742" width="33.1" height="2.3" fill="#3F8EF5"/><rect x="730" y="744.3" width="14.5" height="9" fill="rgba(67,67,67,0.8)"/><rect x="744.5" y="744.3" width="18.6" height="9" fill="rgba(50,50,50,0.8)"/><circle cx="733.3" cy="749" r="1" fill="#84E4E7"/><text x="736.7" y="750.1" font-size="3.1" fill="#cccccc">In(1)</text><circle cx="760.1" cy="749" r="1" fill="#84E4E7"/><text x="756.8" y="750.1" font-size="3.1" fill="#cccccc" text-anchor="end">Out(1)</text><rect x="730" y="753.3" width="33.1" height="4.6" fill="rgba(62,62,62,0.8)"/><path d="M745.3 755 l1.25 1.25 l1.25 -1.25" fill="none" stroke="#dcdcdc" stroke-width="0.85"/></g><rect x="896" y="693.25" width="50.5" height="7" fill="#494949" rx="3.5"/><circle cx="899" cy="696.75" r="0.65" fill="#B5E655"/><text x="901.6" y="697.85" font-size="3.15" fill="#d8d8d8">VertexColourTileOffset(1)</text><circle cx="941.1" cy="696.75" r="1" fill="#84E4E7"/><g><rect x="969.95" y="702.2" width="32.6" height="30.4" fill="none" stroke="#181818" stroke-opacity="0.55" stroke-width="0.6"/><rect x="970.25" y="702.5" width="32" height="7.4" fill="rgba(64,64,64,0.8)"/><text x="972.55" y="708.45" font-size="3.45" fill="#dadada">Multiply</text><rect x="970.25" y="709.9" width="32" height="2.3" fill="#3F8EF5"/><rect x="970.25" y="712.2" width="14" height="15.5" fill="rgba(67,67,67,0.8)"/><rect x="984.25" y="712.2" width="18" height="15.5" fill="rgba(50,50,50,0.8)"/><circle cx="973.55" cy="716.9" r="1" fill="#84E4E7"/><text x="976.95" y="718" font-size="3.1" fill="#cccccc">A(1)</text><circle cx="973.55" cy="723.4" r="1" fill="#84E4E7"/><text x="976.95" y="724.5" font-size="3.1" fill="#cccccc">B(1)</text><circle cx="999.25" cy="716.9" r="1" fill="#84E4E7"/><text x="995.95" y="718" font-size="3.1" fill="#cccccc" text-anchor="end">Out(1)</text><rect x="970.25" y="727.7" width="32" height="4.6" fill="rgba(62,62,62,0.8)"/><path d="M985 729.4 l1.25 1.25 l1.25 -1.25" fill="none" stroke="#dcdcdc" stroke-width="0.85"/></g><rect x="659.4" y="702.5" width="44.35" height="7" fill="#494949" rx="3.5"/><circle cx="662.4" cy="706" r="0.65" fill="#B5E655"/><text x="665" y="707.1" font-size="3.15" fill="#d8d8d8">Card1TypeChange(1)</text><circle cx="698.35" cy="706" r="1" fill="#84E4E7"/><g><rect x="730.7" y="702.2" width="32.7" height="30.4" fill="none" stroke="#181818" stroke-opacity="0.55" stroke-width="0.6"/><rect x="731" y="702.5" width="32.1" height="7.4" fill="rgba(64,64,64,0.8)"/><text x="733.3" y="708.45" font-size="3.45" fill="#dadada">Add</text><rect x="731" y="709.9" width="32.1" height="2.3" fill="#3F8EF5"/><rect x="731" y="712.2" width="14" height="15.5" fill="rgba(67,67,67,0.8)"/><rect x="745" y="712.2" width="18.1" height="15.5" fill="rgba(50,50,50,0.8)"/><circle cx="734.3" cy="716.9" r="1" fill="#84E4E7"/><text x="737.7" y="718" font-size="3.1" fill="#cccccc">A(1)</text><circle cx="734.3" cy="723.4" r="1" fill="#84E4E7"/><text x="737.7" y="724.5" font-size="3.1" fill="#cccccc">B(1)</text><circle cx="760.1" cy="716.9" r="1" fill="#84E4E7"/><text x="756.8" y="718" font-size="3.1" fill="#cccccc" text-anchor="end">Out(1)</text><rect x="731" y="727.7" width="32.1" height="4.6" fill="rgba(62,62,62,0.8)"/><path d="M745.8 729.4 l1.25 1.25 l1.25 -1.25" fill="none" stroke="#dcdcdc" stroke-width="0.85"/></g><rect x="670" y="781.25" width="33.1" height="7" fill="#494949" rx="3.5"/><circle cx="673" cy="784.75" r="0.65" fill="#B5E655"/><text x="675.6" y="785.85" font-size="3.15" fill="#d8d8d8">Card1Mask(1)</text><circle cx="697.7" cy="784.75" r="1" fill="#84E4E7"/><g><rect x="725.6" y="780.95" width="37.8" height="35.05" fill="none" stroke="#181818" stroke-opacity="0.55" stroke-width="0.6"/><rect x="725.9" y="781.25" width="37.2" height="7.4" fill="rgba(64,64,64,0.8)"/><text x="728.2" y="787.2" font-size="3.45" fill="#dadada">Comparison</text><rect x="725.9" y="788.65" width="37.2" height="2.3" fill="#CBCBCB"/><rect x="725.9" y="790.95" width="16.5" height="15.5" fill="rgba(67,67,67,0.8)"/><rect x="742.4" y="790.95" width="20.7" height="15.5" fill="rgba(50,50,50,0.8)"/><circle cx="729.2" cy="795.65" r="1" fill="#84E4E7"/><text x="732.6" y="796.75" font-size="3.1" fill="#cccccc">A(1)</text><circle cx="729.2" cy="802.15" r="1" fill="#84E4E7"/><text x="732.6" y="803.25" font-size="3.1" fill="#cccccc">B(1)</text><circle cx="760.1" cy="795.65" r="1" fill="#9481E6"/><text x="756.8" y="796.75" font-size="3.1" fill="#cccccc" text-anchor="end">Out(B)</text><rect x="725.9" y="806.45" width="37.2" height="9.25" fill="rgba(62,62,62,0.8)"/><rect x="739.6" y="808.87" width="21.2" height="4.4" fill="#565656" rx="0.5"/><text x="740.8" y="812.07" font-size="2.9" fill="#e6e6e6" font-weight="bold">Equal</text><path d="M757.8 810.57 l1.6 0 l-0.8 1.1 z" fill="#d0d0d0"/></g><g><rect x="787.6" y="780.95" width="44.3" height="36.9" fill="none" stroke="#181818" stroke-opacity="0.55" stroke-width="0.6"/><rect x="787.9" y="781.25" width="43.7" height="7.4" fill="rgba(64,64,64,0.8)"/><text x="790.2" y="787.2" font-size="3.45" fill="#dadada">Branch</text><rect x="787.9" y="788.65" width="43.7" height="2.3" fill="#CBCBCB"/><rect x="787.9" y="790.95" width="26" height="22" fill="rgba(67,67,67,0.8)"/><rect x="813.9" y="790.95" width="17.7" height="22" fill="rgba(50,50,50,0.8)"/><circle cx="791.2" cy="795.65" r="1" fill="#9481E6"/><text x="794.6" y="796.75" font-size="3.1" fill="#cccccc">Predicate(B)</text><circle cx="791.2" cy="802.15" r="0.85" fill="#262626" stroke="#84E4E7" stroke-width="0.45" stroke-opacity="0.75"/><text x="794.6" y="803.25" font-size="3.1" fill="#cccccc">True(1)</text><circle cx="791.2" cy="808.65" r="0.85" fill="#262626" stroke="#84E4E7" stroke-width="0.45" stroke-opacity="0.75"/><text x="794.6" y="809.75" font-size="3.1" fill="#cccccc">False(1)</text><circle cx="828.6" cy="795.65" r="1" fill="#84E4E7"/><text x="825.3" y="796.75" font-size="3.1" fill="#cccccc" text-anchor="end">Out(1)</text><rect x="787.9" y="812.95" width="43.7" height="4.6" fill="rgba(62,62,62,0.8)"/><path d="M808.5 814.65 l1.25 1.25 l1.25 -1.25" fill="none" stroke="#dcdcdc" stroke-width="0.85"/></g><g><rect x="794.7" y="701.9" width="33.1" height="23.9" fill="none" stroke="#181818" stroke-opacity="0.55" stroke-width="0.6"/><rect x="795" y="702.2" width="32.5" height="7.4" fill="rgba(64,64,64,0.8)"/><text x="797.3" y="708.15" font-size="3.45" fill="#dadada">Truncate</text><rect x="795" y="709.6" width="32.5" height="2.3" fill="#3F8EF5"/><rect x="795" y="711.9" width="14.5" height="9" fill="rgba(67,67,67,0.8)"/><rect x="809.5" y="711.9" width="18" height="9" fill="rgba(50,50,50,0.8)"/><circle cx="798.3" cy="716.6" r="1" fill="#84E4E7"/><text x="801.7" y="717.7" font-size="3.1" fill="#cccccc">In(1)</text><circle cx="824.5" cy="716.6" r="1" fill="#84E4E7"/><text x="821.2" y="717.7" font-size="3.1" fill="#cccccc" text-anchor="end">Out(1)</text><rect x="795" y="720.9" width="32.5" height="4.6" fill="rgba(62,62,62,0.8)"/><path d="M810 722.6 l1.25 1.25 l1.25 -1.25" fill="none" stroke="#dcdcdc" stroke-width="0.85"/></g><g><rect x="853.3" y="701.9" width="32.8" height="30.4" fill="none" stroke="#181818" stroke-opacity="0.55" stroke-width="0.6"/><rect x="853.6" y="702.2" width="32.2" height="7.4" fill="rgba(64,64,64,0.8)"/><text x="855.9" y="708.15" font-size="3.45" fill="#dadada">Divide</text><rect x="853.6" y="709.6" width="32.2" height="2.3" fill="#3F8EF5"/><rect x="853.6" y="711.9" width="14" height="15.5" fill="rgba(67,67,67,0.8)"/><rect x="867.6" y="711.9" width="18.2" height="15.5" fill="rgba(50,50,50,0.8)"/><circle cx="856.9" cy="716.6" r="1" fill="#84E4E7"/><text x="860.3" y="717.7" font-size="3.1" fill="#cccccc">A(1)</text><circle cx="856.9" cy="723.1" r="0.85" fill="#262626" stroke="#84E4E7" stroke-width="0.45" stroke-opacity="0.75"/><text x="860.3" y="724.2" font-size="3.1" fill="#cccccc">B(1)</text><circle cx="882.8" cy="716.6" r="1" fill="#84E4E7"/><text x="879.5" y="717.7" font-size="3.1" fill="#cccccc" text-anchor="end">Out(1)</text><rect x="853.6" y="727.4" width="32.2" height="4.6" fill="rgba(62,62,62,0.8)"/><path d="M868.45 729.1 l1.25 1.25 l1.25 -1.25" fill="none" stroke="#dcdcdc" stroke-width="0.85"/></g><g><rect x="914.2" y="701.9" width="33" height="36.9" fill="none" stroke="#181818" stroke-opacity="0.55" stroke-width="0.6"/><rect x="914.5" y="702.2" width="32.4" height="7.4" fill="rgba(64,64,64,0.8)"/><text x="916.8" y="708.15" font-size="3.45" fill="#dadada">Lerp</text><rect x="914.5" y="709.6" width="32.4" height="2.3" fill="#3F8EF5"/><rect x="914.5" y="711.9" width="13.75" height="22" fill="rgba(67,67,67,0.8)"/><rect x="928.25" y="711.9" width="18.65" height="22" fill="rgba(50,50,50,0.8)"/><circle cx="917.8" cy="716.6" r="1" fill="#84E4E7"/><text x="921.2" y="717.7" font-size="3.1" fill="#cccccc">A(1)</text><circle cx="917.8" cy="723.1" r="1" fill="#84E4E7"/><text x="921.2" y="724.2" font-size="3.1" fill="#cccccc">B(1)</text><circle cx="917.8" cy="729.6" r="1" fill="#84E4E7"/><text x="921.2" y="730.7" font-size="3.1" fill="#cccccc">T(1)</text><circle cx="943.9" cy="716.6" r="1" fill="#84E4E7"/><text x="940.6" y="717.7" font-size="3.1" fill="#cccccc" text-anchor="end">Out(1)</text><rect x="914.5" y="733.9" width="32.4" height="4.6" fill="rgba(62,62,62,0.8)"/><path d="M929.45 735.6 l1.25 1.25 l1.25 -1.25" fill="none" stroke="#dcdcdc" stroke-width="0.85"/></g><rect x="746.9" y="773.9" width="15.7" height="6" fill="#3b3b3b" rx="2"/><circle cx="749.5" cy="776.9" r="0.95" fill="#84E4E7"/><circle cx="760" cy="776.9" r="0.95" fill="#84E4E7"/><rect x="658.9" y="845" width="45" height="7.2" fill="#494949" rx="3.6"/><circle cx="661.9" cy="848.6" r="0.65" fill="#B5E655"/><text x="664.5" y="849.7" font-size="3.15" fill="#d8d8d8">Card2TypeChange(1)</text><circle cx="698.5" cy="848.6" r="1" fill="#84E4E7"/><g><rect x="728.95" y="844.7" width="32.5" height="30.4" fill="none" stroke="#181818" stroke-opacity="0.55" stroke-width="0.6"/><rect x="729.25" y="845" width="31.9" height="7.4" fill="rgba(64,64,64,0.8)"/><text x="731.55" y="850.95" font-size="3.45" fill="#dadada">Add</text><rect x="729.25" y="852.4" width="31.9" height="2.3" fill="#3F8EF5"/><rect x="729.25" y="854.7" width="14" height="15.5" fill="rgba(67,67,67,0.8)"/><rect x="743.25" y="854.7" width="17.9" height="15.5" fill="rgba(50,50,50,0.8)"/><circle cx="732.55" cy="859.4" r="1" fill="#84E4E7"/><text x="735.95" y="860.5" font-size="3.1" fill="#cccccc">A(1)</text><circle cx="732.55" cy="865.9" r="1" fill="#84E4E7"/><text x="735.95" y="867" font-size="3.1" fill="#cccccc">B(1)</text><circle cx="758.15" cy="859.4" r="1" fill="#84E4E7"/><text x="754.85" y="860.5" font-size="3.1" fill="#cccccc" text-anchor="end">Out(1)</text><rect x="729.25" y="870.2" width="31.9" height="4.6" fill="rgba(62,62,62,0.8)"/><path d="M743.95 871.9 l1.25 1.25 l1.25 -1.25" fill="none" stroke="#dcdcdc" stroke-width="0.85"/></g><rect x="669.4" y="883" width="33.9" height="7.1" fill="#494949" rx="3.55"/><circle cx="672.4" cy="886.55" r="0.65" fill="#B5E655"/><text x="675" y="887.65" font-size="3.15" fill="#d8d8d8">Card2Mask(1)</text><circle cx="697.9" cy="886.55" r="1" fill="#84E4E7"/><g><rect x="724.95" y="882.7" width="37.7" height="35.05" fill="none" stroke="#181818" stroke-opacity="0.55" stroke-width="0.6"/><rect x="725.25" y="883" width="37.1" height="7.4" fill="rgba(64,64,64,0.8)"/><text x="727.55" y="888.95" font-size="3.45" fill="#dadada">Comparison</text><rect x="725.25" y="890.4" width="37.1" height="2.3" fill="#CBCBCB"/><rect x="725.25" y="892.7" width="16.5" height="15.5" fill="rgba(67,67,67,0.8)"/><rect x="741.75" y="892.7" width="20.6" height="15.5" fill="rgba(50,50,50,0.8)"/><circle cx="728.55" cy="897.4" r="1" fill="#84E4E7"/><text x="731.95" y="898.5" font-size="3.1" fill="#cccccc">A(1)</text><circle cx="728.55" cy="903.9" r="1" fill="#84E4E7"/><text x="731.95" y="905" font-size="3.1" fill="#cccccc">B(1)</text><circle cx="759.35" cy="897.4" r="1" fill="#9481E6"/><text x="756.05" y="898.5" font-size="3.1" fill="#cccccc" text-anchor="end">Out(B)</text><rect x="725.25" y="908.2" width="37.1" height="9.25" fill="rgba(62,62,62,0.8)"/><rect x="738.85" y="910.62" width="21.2" height="4.4" fill="#565656" rx="0.5"/><text x="740.05" y="913.82" font-size="2.9" fill="#e6e6e6" font-weight="bold">Equal</text><path d="M757.05 912.32 l1.6 0 l-0.8 1.1 z" fill="#d0d0d0"/></g><g><rect x="786.95" y="882.7" width="44.5" height="36.9" fill="none" stroke="#181818" stroke-opacity="0.55" stroke-width="0.6"/><rect x="787.25" y="883" width="43.9" height="7.4" fill="rgba(64,64,64,0.8)"/><text x="789.55" y="888.95" font-size="3.45" fill="#dadada">Branch</text><rect x="787.25" y="890.4" width="43.9" height="2.3" fill="#CBCBCB"/><rect x="787.25" y="892.7" width="26" height="22" fill="rgba(67,67,67,0.8)"/><rect x="813.25" y="892.7" width="17.9" height="22" fill="rgba(50,50,50,0.8)"/><circle cx="790.55" cy="897.4" r="1" fill="#9481E6"/><text x="793.95" y="898.5" font-size="3.1" fill="#cccccc">Predicate(B)</text><circle cx="790.55" cy="903.9" r="0.85" fill="#262626" stroke="#84E4E7" stroke-width="0.45" stroke-opacity="0.75"/><text x="793.95" y="905" font-size="3.1" fill="#cccccc">True(1)</text><circle cx="790.55" cy="910.4" r="0.85" fill="#262626" stroke="#84E4E7" stroke-width="0.45" stroke-opacity="0.75"/><text x="793.95" y="911.5" font-size="3.1" fill="#cccccc">False(1)</text><circle cx="828.15" cy="897.4" r="1" fill="#84E4E7"/><text x="824.85" y="898.5" font-size="3.1" fill="#cccccc" text-anchor="end">Out(1)</text><rect x="787.25" y="914.7" width="43.9" height="4.6" fill="rgba(62,62,62,0.8)"/><path d="M807.95 916.4 l1.25 1.25 l1.25 -1.25" fill="none" stroke="#dcdcdc" stroke-width="0.85"/></g><g><rect x="794.7" y="844.3" width="33.1" height="23.9" fill="none" stroke="#181818" stroke-opacity="0.55" stroke-width="0.6"/><rect x="795" y="844.6" width="32.5" height="7.4" fill="rgba(64,64,64,0.8)"/><text x="797.3" y="850.55" font-size="3.45" fill="#dadada">Truncate</text><rect x="795" y="852" width="32.5" height="2.3" fill="#3F8EF5"/><rect x="795" y="854.3" width="14.5" height="9" fill="rgba(67,67,67,0.8)"/><rect x="809.5" y="854.3" width="18" height="9" fill="rgba(50,50,50,0.8)"/><circle cx="798.3" cy="859" r="1" fill="#84E4E7"/><text x="801.7" y="860.1" font-size="3.1" fill="#cccccc">In(1)</text><circle cx="824.5" cy="859" r="1" fill="#84E4E7"/><text x="821.2" y="860.1" font-size="3.1" fill="#cccccc" text-anchor="end">Out(1)</text><rect x="795" y="863.3" width="32.5" height="4.6" fill="rgba(62,62,62,0.8)"/><path d="M810 865 l1.25 1.25 l1.25 -1.25" fill="none" stroke="#dcdcdc" stroke-width="0.85"/></g><g><rect x="853.3" y="844.3" width="32.8" height="30.4" fill="none" stroke="#181818" stroke-opacity="0.55" stroke-width="0.6"/><rect x="853.6" y="844.6" width="32.2" height="7.4" fill="rgba(64,64,64,0.8)"/><text x="855.9" y="850.55" font-size="3.45" fill="#dadada">Divide</text><rect x="853.6" y="852" width="32.2" height="2.3" fill="#3F8EF5"/><rect x="853.6" y="854.3" width="14" height="15.5" fill="rgba(67,67,67,0.8)"/><rect x="867.6" y="854.3" width="18.2" height="15.5" fill="rgba(50,50,50,0.8)"/><circle cx="856.9" cy="859" r="1" fill="#84E4E7"/><text x="860.3" y="860.1" font-size="3.1" fill="#cccccc">A(1)</text><circle cx="856.9" cy="865.5" r="0.85" fill="#262626" stroke="#84E4E7" stroke-width="0.45" stroke-opacity="0.75"/><text x="860.3" y="866.6" font-size="3.1" fill="#cccccc">B(1)</text><circle cx="882.8" cy="859" r="1" fill="#84E4E7"/><text x="879.5" y="860.1" font-size="3.1" fill="#cccccc" text-anchor="end">Out(1)</text><rect x="853.6" y="869.8" width="32.2" height="4.6" fill="rgba(62,62,62,0.8)"/><path d="M868.45 871.5 l1.25 1.25 l1.25 -1.25" fill="none" stroke="#dcdcdc" stroke-width="0.85"/></g><g><rect x="914.2" y="844.3" width="33" height="36.9" fill="none" stroke="#181818" stroke-opacity="0.55" stroke-width="0.6"/><rect x="914.5" y="844.6" width="32.4" height="7.4" fill="rgba(64,64,64,0.8)"/><text x="916.8" y="850.55" font-size="3.45" fill="#dadada">Lerp</text><rect x="914.5" y="852" width="32.4" height="2.3" fill="#3F8EF5"/><rect x="914.5" y="854.3" width="13.75" height="22" fill="rgba(67,67,67,0.8)"/><rect x="928.25" y="854.3" width="18.65" height="22" fill="rgba(50,50,50,0.8)"/><circle cx="917.8" cy="859" r="1" fill="#84E4E7"/><text x="921.2" y="860.1" font-size="3.1" fill="#cccccc">A(1)</text><circle cx="917.8" cy="865.5" r="1" fill="#84E4E7"/><text x="921.2" y="866.6" font-size="3.1" fill="#cccccc">B(1)</text><circle cx="917.8" cy="872" r="1" fill="#84E4E7"/><text x="921.2" y="873.1" font-size="3.1" fill="#cccccc">T(1)</text><circle cx="943.9" cy="859" r="1" fill="#84E4E7"/><text x="940.6" y="860.1" font-size="3.1" fill="#cccccc" text-anchor="end">Out(1)</text><rect x="914.5" y="876.3" width="32.4" height="4.6" fill="rgba(62,62,62,0.8)"/><path d="M929.45 878 l1.25 1.25 l1.25 -1.25" fill="none" stroke="#dcdcdc" stroke-width="0.85"/></g><rect x="746.9" y="875.75" width="15.7" height="6" fill="#3b3b3b" rx="2"/><circle cx="749.5" cy="878.75" r="0.95" fill="#84E4E7"/><circle cx="760" cy="878.75" r="0.95" fill="#84E4E7"/><rect x="658.9" y="947" width="45" height="7.2" fill="#494949" rx="3.6"/><circle cx="661.9" cy="950.6" r="0.65" fill="#B5E655"/><text x="664.5" y="951.7" font-size="3.15" fill="#d8d8d8">Card3TypeChange(1)</text><circle cx="698.5" cy="950.6" r="1" fill="#84E4E7"/><g><rect x="728.95" y="946.7" width="32.5" height="30.4" fill="none" stroke="#181818" stroke-opacity="0.55" stroke-width="0.6"/><rect x="729.25" y="947" width="31.9" height="7.4" fill="rgba(64,64,64,0.8)"/><text x="731.55" y="952.95" font-size="3.45" fill="#dadada">Add</text><rect x="729.25" y="954.4" width="31.9" height="2.3" fill="#3F8EF5"/><rect x="729.25" y="956.7" width="14" height="15.5" fill="rgba(67,67,67,0.8)"/><rect x="743.25" y="956.7" width="17.9" height="15.5" fill="rgba(50,50,50,0.8)"/><circle cx="732.55" cy="961.4" r="1" fill="#84E4E7"/><text x="735.95" y="962.5" font-size="3.1" fill="#cccccc">A(1)</text><circle cx="732.55" cy="967.9" r="1" fill="#84E4E7"/><text x="735.95" y="969" font-size="3.1" fill="#cccccc">B(1)</text><circle cx="758.15" cy="961.4" r="1" fill="#84E4E7"/><text x="754.85" y="962.5" font-size="3.1" fill="#cccccc" text-anchor="end">Out(1)</text><rect x="729.25" y="972.2" width="31.9" height="4.6" fill="rgba(62,62,62,0.8)"/><path d="M743.95 973.9 l1.25 1.25 l1.25 -1.25" fill="none" stroke="#dcdcdc" stroke-width="0.85"/></g><rect x="669.4" y="985.1" width="33.9" height="7.1" fill="#494949" rx="3.55"/><circle cx="672.4" cy="988.65" r="0.65" fill="#B5E655"/><text x="675" y="989.75" font-size="3.15" fill="#d8d8d8">Card3Mask(1)</text><circle cx="697.9" cy="988.65" r="1" fill="#84E4E7"/><g><rect x="723.9" y="984.8" width="37.7" height="35.05" fill="none" stroke="#181818" stroke-opacity="0.55" stroke-width="0.6"/><rect x="724.2" y="985.1" width="37.1" height="7.4" fill="rgba(64,64,64,0.8)"/><text x="726.5" y="991.05" font-size="3.45" fill="#dadada">Comparison</text><rect x="724.2" y="992.5" width="37.1" height="2.3" fill="#CBCBCB"/><rect x="724.2" y="994.8" width="16.5" height="15.5" fill="rgba(67,67,67,0.8)"/><rect x="740.7" y="994.8" width="20.6" height="15.5" fill="rgba(50,50,50,0.8)"/><circle cx="727.5" cy="999.5" r="1" fill="#84E4E7"/><text x="730.9" y="1000.6" font-size="3.1" fill="#cccccc">A(1)</text><circle cx="727.5" cy="1006" r="1" fill="#84E4E7"/><text x="730.9" y="1007.1" font-size="3.1" fill="#cccccc">B(1)</text><circle cx="758.3" cy="999.5" r="1" fill="#9481E6"/><text x="755" y="1000.6" font-size="3.1" fill="#cccccc" text-anchor="end">Out(B)</text><rect x="724.2" y="1010.3" width="37.1" height="9.25" fill="rgba(62,62,62,0.8)"/><rect x="737.8" y="1012.72" width="21.2" height="4.4" fill="#565656" rx="0.5"/><text x="739" y="1015.92" font-size="2.9" fill="#e6e6e6" font-weight="bold">Equal</text><path d="M756 1014.42 l1.6 0 l-0.8 1.1 z" fill="#d0d0d0"/></g><g><rect x="785.7" y="984.8" width="44.5" height="36.9" fill="none" stroke="#181818" stroke-opacity="0.55" stroke-width="0.6"/><rect x="786" y="985.1" width="43.9" height="7.4" fill="rgba(64,64,64,0.8)"/><text x="788.3" y="991.05" font-size="3.45" fill="#dadada">Branch</text><rect x="786" y="992.5" width="43.9" height="2.3" fill="#CBCBCB"/><rect x="786" y="994.8" width="26" height="22" fill="rgba(67,67,67,0.8)"/><rect x="812" y="994.8" width="17.9" height="22" fill="rgba(50,50,50,0.8)"/><circle cx="789.3" cy="999.5" r="1" fill="#9481E6"/><text x="792.7" y="1000.6" font-size="3.1" fill="#cccccc">Predicate(B)</text><circle cx="789.3" cy="1006" r="0.85" fill="#262626" stroke="#84E4E7" stroke-width="0.45" stroke-opacity="0.75"/><text x="792.7" y="1007.1" font-size="3.1" fill="#cccccc">True(1)</text><circle cx="789.3" cy="1012.5" r="0.85" fill="#262626" stroke="#84E4E7" stroke-width="0.45" stroke-opacity="0.75"/><text x="792.7" y="1013.6" font-size="3.1" fill="#cccccc">False(1)</text><circle cx="826.9" cy="999.5" r="1" fill="#84E4E7"/><text x="823.6" y="1000.6" font-size="3.1" fill="#cccccc" text-anchor="end">Out(1)</text><rect x="786" y="1016.8" width="43.9" height="4.6" fill="rgba(62,62,62,0.8)"/><path d="M806.7 1018.5 l1.25 1.25 l1.25 -1.25" fill="none" stroke="#dcdcdc" stroke-width="0.85"/></g><g><rect x="794.7" y="946.2" width="33.1" height="23.9" fill="none" stroke="#181818" stroke-opacity="0.55" stroke-width="0.6"/><rect x="795" y="946.5" width="32.5" height="7.4" fill="rgba(64,64,64,0.8)"/><text x="797.3" y="952.45" font-size="3.45" fill="#dadada">Truncate</text><rect x="795" y="953.9" width="32.5" height="2.3" fill="#3F8EF5"/><rect x="795" y="956.2" width="14.5" height="9" fill="rgba(67,67,67,0.8)"/><rect x="809.5" y="956.2" width="18" height="9" fill="rgba(50,50,50,0.8)"/><circle cx="798.3" cy="960.9" r="1" fill="#84E4E7"/><text x="801.7" y="962" font-size="3.1" fill="#cccccc">In(1)</text><circle cx="824.5" cy="960.9" r="1" fill="#84E4E7"/><text x="821.2" y="962" font-size="3.1" fill="#cccccc" text-anchor="end">Out(1)</text><rect x="795" y="965.2" width="32.5" height="4.6" fill="rgba(62,62,62,0.8)"/><path d="M810 966.9 l1.25 1.25 l1.25 -1.25" fill="none" stroke="#dcdcdc" stroke-width="0.85"/></g><g><rect x="853.3" y="946.2" width="32.8" height="30.4" fill="none" stroke="#181818" stroke-opacity="0.55" stroke-width="0.6"/><rect x="853.6" y="946.5" width="32.2" height="7.4" fill="rgba(64,64,64,0.8)"/><text x="855.9" y="952.45" font-size="3.45" fill="#dadada">Divide</text><rect x="853.6" y="953.9" width="32.2" height="2.3" fill="#3F8EF5"/><rect x="853.6" y="956.2" width="14" height="15.5" fill="rgba(67,67,67,0.8)"/><rect x="867.6" y="956.2" width="18.2" height="15.5" fill="rgba(50,50,50,0.8)"/><circle cx="856.9" cy="960.9" r="1" fill="#84E4E7"/><text x="860.3" y="962" font-size="3.1" fill="#cccccc">A(1)</text><circle cx="856.9" cy="967.4" r="0.85" fill="#262626" stroke="#84E4E7" stroke-width="0.45" stroke-opacity="0.75"/><text x="860.3" y="968.5" font-size="3.1" fill="#cccccc">B(1)</text><circle cx="882.8" cy="960.9" r="1" fill="#84E4E7"/><text x="879.5" y="962" font-size="3.1" fill="#cccccc" text-anchor="end">Out(1)</text><rect x="853.6" y="971.7" width="32.2" height="4.6" fill="rgba(62,62,62,0.8)"/><path d="M868.45 973.4 l1.25 1.25 l1.25 -1.25" fill="none" stroke="#dcdcdc" stroke-width="0.85"/></g><g><rect x="914.2" y="946.2" width="33" height="36.9" fill="none" stroke="#181818" stroke-opacity="0.55" stroke-width="0.6"/><rect x="914.5" y="946.5" width="32.4" height="7.4" fill="rgba(64,64,64,0.8)"/><text x="916.8" y="952.45" font-size="3.45" fill="#dadada">Lerp</text><rect x="914.5" y="953.9" width="32.4" height="2.3" fill="#3F8EF5"/><rect x="914.5" y="956.2" width="13.75" height="22" fill="rgba(67,67,67,0.8)"/><rect x="928.25" y="956.2" width="18.65" height="22" fill="rgba(50,50,50,0.8)"/><circle cx="917.8" cy="960.9" r="1" fill="#84E4E7"/><text x="921.2" y="962" font-size="3.1" fill="#cccccc">A(1)</text><circle cx="917.8" cy="967.4" r="1" fill="#84E4E7"/><text x="921.2" y="968.5" font-size="3.1" fill="#cccccc">B(1)</text><circle cx="917.8" cy="973.9" r="1" fill="#84E4E7"/><text x="921.2" y="975" font-size="3.1" fill="#cccccc">T(1)</text><circle cx="943.9" cy="960.9" r="1" fill="#84E4E7"/><text x="940.6" y="962" font-size="3.1" fill="#cccccc" text-anchor="end">Out(1)</text><rect x="914.5" y="978.2" width="32.4" height="4.6" fill="rgba(62,62,62,0.8)"/><path d="M929.45 979.9 l1.25 1.25 l1.25 -1.25" fill="none" stroke="#dcdcdc" stroke-width="0.85"/></g><rect x="746.9" y="977.3" width="15.7" height="6" fill="#3b3b3b" rx="2"/><circle cx="749.5" cy="980.3" r="0.95" fill="#84E4E7"/><circle cx="760" cy="980.3" r="0.95" fill="#84E4E7"/><rect x="658.9" y="1048.8" width="45" height="7.2" fill="#494949" rx="3.6"/><circle cx="661.9" cy="1052.4" r="0.65" fill="#B5E655"/><text x="664.5" y="1053.5" font-size="3.15" fill="#d8d8d8">Card4TypeChange(1)</text><circle cx="698.5" cy="1052.4" r="1" fill="#84E4E7"/><g><rect x="728.95" y="1048.5" width="32.5" height="30.4" fill="none" stroke="#181818" stroke-opacity="0.55" stroke-width="0.6"/><rect x="729.25" y="1048.8" width="31.9" height="7.4" fill="rgba(64,64,64,0.8)"/><text x="731.55" y="1054.75" font-size="3.45" fill="#dadada">Add</text><rect x="729.25" y="1056.2" width="31.9" height="2.3" fill="#3F8EF5"/><rect x="729.25" y="1058.5" width="14" height="15.5" fill="rgba(67,67,67,0.8)"/><rect x="743.25" y="1058.5" width="17.9" height="15.5" fill="rgba(50,50,50,0.8)"/><circle cx="732.55" cy="1063.2" r="1" fill="#84E4E7"/><text x="735.95" y="1064.3" font-size="3.1" fill="#cccccc">A(1)</text><circle cx="732.55" cy="1069.7" r="1" fill="#84E4E7"/><text x="735.95" y="1070.8" font-size="3.1" fill="#cccccc">B(1)</text><circle cx="758.15" cy="1063.2" r="1" fill="#84E4E7"/><text x="754.85" y="1064.3" font-size="3.1" fill="#cccccc" text-anchor="end">Out(1)</text><rect x="729.25" y="1074" width="31.9" height="4.6" fill="rgba(62,62,62,0.8)"/><path d="M743.95 1075.7 l1.25 1.25 l1.25 -1.25" fill="none" stroke="#dcdcdc" stroke-width="0.85"/></g><rect x="664.5" y="1087" width="34.1" height="7.1" fill="#494949" rx="3.55"/><circle cx="667.5" cy="1090.55" r="0.65" fill="#B5E655"/><text x="670.1" y="1091.65" font-size="3.15" fill="#d8d8d8">Card4Mask(1)</text><circle cx="693.2" cy="1090.55" r="1" fill="#84E4E7"/><g><rect x="723.9" y="1086.7" width="37.7" height="35.05" fill="none" stroke="#181818" stroke-opacity="0.55" stroke-width="0.6"/><rect x="724.2" y="1087" width="37.1" height="7.4" fill="rgba(64,64,64,0.8)"/><text x="726.5" y="1092.95" font-size="3.45" fill="#dadada">Comparison</text><rect x="724.2" y="1094.4" width="37.1" height="2.3" fill="#CBCBCB"/><rect x="724.2" y="1096.7" width="16.5" height="15.5" fill="rgba(67,67,67,0.8)"/><rect x="740.7" y="1096.7" width="20.6" height="15.5" fill="rgba(50,50,50,0.8)"/><circle cx="727.5" cy="1101.4" r="1" fill="#84E4E7"/><text x="730.9" y="1102.5" font-size="3.1" fill="#cccccc">A(1)</text><circle cx="727.5" cy="1107.9" r="1" fill="#84E4E7"/><text x="730.9" y="1109" font-size="3.1" fill="#cccccc">B(1)</text><circle cx="758.3" cy="1101.4" r="1" fill="#9481E6"/><text x="755" y="1102.5" font-size="3.1" fill="#cccccc" text-anchor="end">Out(B)</text><rect x="724.2" y="1112.2" width="37.1" height="9.25" fill="rgba(62,62,62,0.8)"/><rect x="737.8" y="1114.62" width="21.2" height="4.4" fill="#565656" rx="0.5"/><text x="739" y="1117.83" font-size="2.9" fill="#e6e6e6" font-weight="bold">Equal</text><path d="M756 1116.33 l1.6 0 l-0.8 1.1 z" fill="#d0d0d0"/></g><g><rect x="785.7" y="1086.7" width="44.5" height="36.9" fill="none" stroke="#181818" stroke-opacity="0.55" stroke-width="0.6"/><rect x="786" y="1087" width="43.9" height="7.4" fill="rgba(64,64,64,0.8)"/><text x="788.3" y="1092.95" font-size="3.45" fill="#dadada">Branch</text><rect x="786" y="1094.4" width="43.9" height="2.3" fill="#CBCBCB"/><rect x="786" y="1096.7" width="26" height="22" fill="rgba(67,67,67,0.8)"/><rect x="812" y="1096.7" width="17.9" height="22" fill="rgba(50,50,50,0.8)"/><circle cx="789.3" cy="1101.4" r="1" fill="#9481E6"/><text x="792.7" y="1102.5" font-size="3.1" fill="#cccccc">Predicate(B)</text><circle cx="789.3" cy="1107.9" r="0.85" fill="#262626" stroke="#84E4E7" stroke-width="0.45" stroke-opacity="0.75"/><text x="792.7" y="1109" font-size="3.1" fill="#cccccc">True(1)</text><circle cx="789.3" cy="1114.4" r="0.85" fill="#262626" stroke="#84E4E7" stroke-width="0.45" stroke-opacity="0.75"/><text x="792.7" y="1115.5" font-size="3.1" fill="#cccccc">False(1)</text><circle cx="826.9" cy="1101.4" r="1" fill="#84E4E7"/><text x="823.6" y="1102.5" font-size="3.1" fill="#cccccc" text-anchor="end">Out(1)</text><rect x="786" y="1118.7" width="43.9" height="4.6" fill="rgba(62,62,62,0.8)"/><path d="M806.7 1120.4 l1.25 1.25 l1.25 -1.25" fill="none" stroke="#dcdcdc" stroke-width="0.85"/></g><g><rect x="794.7" y="1048" width="33.1" height="23.9" fill="none" stroke="#181818" stroke-opacity="0.55" stroke-width="0.6"/><rect x="795" y="1048.3" width="32.5" height="7.4" fill="rgba(64,64,64,0.8)"/><text x="797.3" y="1054.25" font-size="3.45" fill="#dadada">Truncate</text><rect x="795" y="1055.7" width="32.5" height="2.3" fill="#3F8EF5"/><rect x="795" y="1058" width="14.5" height="9" fill="rgba(67,67,67,0.8)"/><rect x="809.5" y="1058" width="18" height="9" fill="rgba(50,50,50,0.8)"/><circle cx="798.3" cy="1062.7" r="1" fill="#84E4E7"/><text x="801.7" y="1063.8" font-size="3.1" fill="#cccccc">In(1)</text><circle cx="824.5" cy="1062.7" r="1" fill="#84E4E7"/><text x="821.2" y="1063.8" font-size="3.1" fill="#cccccc" text-anchor="end">Out(1)</text><rect x="795" y="1067" width="32.5" height="4.6" fill="rgba(62,62,62,0.8)"/><path d="M810 1068.7 l1.25 1.25 l1.25 -1.25" fill="none" stroke="#dcdcdc" stroke-width="0.85"/></g><g><rect x="853.3" y="1048" width="32.8" height="30.4" fill="none" stroke="#181818" stroke-opacity="0.55" stroke-width="0.6"/><rect x="853.6" y="1048.3" width="32.2" height="7.4" fill="rgba(64,64,64,0.8)"/><text x="855.9" y="1054.25" font-size="3.45" fill="#dadada">Divide</text><rect x="853.6" y="1055.7" width="32.2" height="2.3" fill="#3F8EF5"/><rect x="853.6" y="1058" width="14" height="15.5" fill="rgba(67,67,67,0.8)"/><rect x="867.6" y="1058" width="18.2" height="15.5" fill="rgba(50,50,50,0.8)"/><circle cx="856.9" cy="1062.7" r="1" fill="#84E4E7"/><text x="860.3" y="1063.8" font-size="3.1" fill="#cccccc">A(1)</text><circle cx="856.9" cy="1069.2" r="0.85" fill="#262626" stroke="#84E4E7" stroke-width="0.45" stroke-opacity="0.75"/><text x="860.3" y="1070.3" font-size="3.1" fill="#cccccc">B(1)</text><circle cx="882.8" cy="1062.7" r="1" fill="#84E4E7"/><text x="879.5" y="1063.8" font-size="3.1" fill="#cccccc" text-anchor="end">Out(1)</text><rect x="853.6" y="1073.5" width="32.2" height="4.6" fill="rgba(62,62,62,0.8)"/><path d="M868.45 1075.2 l1.25 1.25 l1.25 -1.25" fill="none" stroke="#dcdcdc" stroke-width="0.85"/></g><g><rect x="914.2" y="1048" width="33" height="36.9" fill="none" stroke="#181818" stroke-opacity="0.55" stroke-width="0.6"/><rect x="914.5" y="1048.3" width="32.4" height="7.4" fill="rgba(64,64,64,0.8)"/><text x="916.8" y="1054.25" font-size="3.45" fill="#dadada">Lerp</text><rect x="914.5" y="1055.7" width="32.4" height="2.3" fill="#3F8EF5"/><rect x="914.5" y="1058" width="13.75" height="22" fill="rgba(67,67,67,0.8)"/><rect x="928.25" y="1058" width="18.65" height="22" fill="rgba(50,50,50,0.8)"/><circle cx="917.8" cy="1062.7" r="1" fill="#84E4E7"/><text x="921.2" y="1063.8" font-size="3.1" fill="#cccccc">A(1)</text><circle cx="917.8" cy="1069.2" r="1" fill="#84E4E7"/><text x="921.2" y="1070.3" font-size="3.1" fill="#cccccc">B(1)</text><circle cx="917.8" cy="1075.7" r="1" fill="#84E4E7"/><text x="921.2" y="1076.8" font-size="3.1" fill="#cccccc">T(1)</text><circle cx="943.9" cy="1062.7" r="1" fill="#84E4E7"/><text x="940.6" y="1063.8" font-size="3.1" fill="#cccccc" text-anchor="end">Out(1)</text><rect x="914.5" y="1080" width="32.4" height="4.6" fill="rgba(62,62,62,0.8)"/><path d="M929.45 1081.7 l1.25 1.25 l1.25 -1.25" fill="none" stroke="#dcdcdc" stroke-width="0.85"/></g><rect x="746.9" y="1079.2" width="15.7" height="6" fill="#3b3b3b" rx="2"/><circle cx="749.5" cy="1082.2" r="0.95" fill="#84E4E7"/><circle cx="760" cy="1082.2" r="0.95" fill="#84E4E7"/><rect x="658.9" y="1150.7" width="45" height="7.2" fill="#494949" rx="3.6"/><circle cx="661.9" cy="1154.3" r="0.65" fill="#B5E655"/><text x="664.5" y="1155.4" font-size="3.15" fill="#d8d8d8">Card5TypeChange(1)</text><circle cx="698.5" cy="1154.3" r="1" fill="#84E4E7"/><g><rect x="728.95" y="1150.4" width="32.5" height="30.4" fill="none" stroke="#181818" stroke-opacity="0.55" stroke-width="0.6"/><rect x="729.25" y="1150.7" width="31.9" height="7.4" fill="rgba(64,64,64,0.8)"/><text x="731.55" y="1156.65" font-size="3.45" fill="#dadada">Add</text><rect x="729.25" y="1158.1" width="31.9" height="2.3" fill="#3F8EF5"/><rect x="729.25" y="1160.4" width="14" height="15.5" fill="rgba(67,67,67,0.8)"/><rect x="743.25" y="1160.4" width="17.9" height="15.5" fill="rgba(50,50,50,0.8)"/><circle cx="732.55" cy="1165.1" r="1" fill="#84E4E7"/><text x="735.95" y="1166.2" font-size="3.1" fill="#cccccc">A(1)</text><circle cx="732.55" cy="1171.6" r="1" fill="#84E4E7"/><text x="735.95" y="1172.7" font-size="3.1" fill="#cccccc">B(1)</text><circle cx="758.15" cy="1165.1" r="1" fill="#84E4E7"/><text x="754.85" y="1166.2" font-size="3.1" fill="#cccccc" text-anchor="end">Out(1)</text><rect x="729.25" y="1175.9" width="31.9" height="4.6" fill="rgba(62,62,62,0.8)"/><path d="M743.95 1177.6 l1.25 1.25 l1.25 -1.25" fill="none" stroke="#dcdcdc" stroke-width="0.85"/></g><rect x="669.4" y="1188.8" width="33.9" height="7.1" fill="#494949" rx="3.55"/><circle cx="672.4" cy="1192.35" r="0.65" fill="#B5E655"/><text x="675" y="1193.45" font-size="3.15" fill="#d8d8d8">Card5Mask(1)</text><circle cx="697.9" cy="1192.35" r="1" fill="#84E4E7"/><g><rect x="723.9" y="1188.5" width="37.7" height="35.05" fill="none" stroke="#181818" stroke-opacity="0.55" stroke-width="0.6"/><rect x="724.2" y="1188.8" width="37.1" height="7.4" fill="rgba(64,64,64,0.8)"/><text x="726.5" y="1194.75" font-size="3.45" fill="#dadada">Comparison</text><rect x="724.2" y="1196.2" width="37.1" height="2.3" fill="#CBCBCB"/><rect x="724.2" y="1198.5" width="16.5" height="15.5" fill="rgba(67,67,67,0.8)"/><rect x="740.7" y="1198.5" width="20.6" height="15.5" fill="rgba(50,50,50,0.8)"/><circle cx="727.5" cy="1203.2" r="1" fill="#84E4E7"/><text x="730.9" y="1204.3" font-size="3.1" fill="#cccccc">A(1)</text><circle cx="727.5" cy="1209.7" r="1" fill="#84E4E7"/><text x="730.9" y="1210.8" font-size="3.1" fill="#cccccc">B(1)</text><circle cx="758.3" cy="1203.2" r="1" fill="#9481E6"/><text x="755" y="1204.3" font-size="3.1" fill="#cccccc" text-anchor="end">Out(B)</text><rect x="724.2" y="1214" width="37.1" height="9.25" fill="rgba(62,62,62,0.8)"/><rect x="737.8" y="1216.42" width="21.2" height="4.4" fill="#565656" rx="0.5"/><text x="739" y="1219.62" font-size="2.9" fill="#e6e6e6" font-weight="bold">Equal</text><path d="M756 1218.12 l1.6 0 l-0.8 1.1 z" fill="#d0d0d0"/></g><g><rect x="785.7" y="1188.5" width="44.5" height="36.9" fill="none" stroke="#181818" stroke-opacity="0.55" stroke-width="0.6"/><rect x="786" y="1188.8" width="43.9" height="7.4" fill="rgba(64,64,64,0.8)"/><text x="788.3" y="1194.75" font-size="3.45" fill="#dadada">Branch</text><rect x="786" y="1196.2" width="43.9" height="2.3" fill="#CBCBCB"/><rect x="786" y="1198.5" width="26" height="22" fill="rgba(67,67,67,0.8)"/><rect x="812" y="1198.5" width="17.9" height="22" fill="rgba(50,50,50,0.8)"/><circle cx="789.3" cy="1203.2" r="1" fill="#9481E6"/><text x="792.7" y="1204.3" font-size="3.1" fill="#cccccc">Predicate(B)</text><circle cx="789.3" cy="1209.7" r="0.85" fill="#262626" stroke="#84E4E7" stroke-width="0.45" stroke-opacity="0.75"/><text x="792.7" y="1210.8" font-size="3.1" fill="#cccccc">True(1)</text><circle cx="789.3" cy="1216.2" r="0.85" fill="#262626" stroke="#84E4E7" stroke-width="0.45" stroke-opacity="0.75"/><text x="792.7" y="1217.3" font-size="3.1" fill="#cccccc">False(1)</text><circle cx="826.9" cy="1203.2" r="1" fill="#84E4E7"/><text x="823.6" y="1204.3" font-size="3.1" fill="#cccccc" text-anchor="end">Out(1)</text><rect x="786" y="1220.5" width="43.9" height="4.6" fill="rgba(62,62,62,0.8)"/><path d="M806.7 1222.2 l1.25 1.25 l1.25 -1.25" fill="none" stroke="#dcdcdc" stroke-width="0.85"/></g><g><rect x="794.7" y="1149.9" width="33.1" height="23.9" fill="none" stroke="#181818" stroke-opacity="0.55" stroke-width="0.6"/><rect x="795" y="1150.2" width="32.5" height="7.4" fill="rgba(64,64,64,0.8)"/><text x="797.3" y="1156.15" font-size="3.45" fill="#dadada">Truncate</text><rect x="795" y="1157.6" width="32.5" height="2.3" fill="#3F8EF5"/><rect x="795" y="1159.9" width="14.5" height="9" fill="rgba(67,67,67,0.8)"/><rect x="809.5" y="1159.9" width="18" height="9" fill="rgba(50,50,50,0.8)"/><circle cx="798.3" cy="1164.6" r="1" fill="#84E4E7"/><text x="801.7" y="1165.7" font-size="3.1" fill="#cccccc">In(1)</text><circle cx="824.5" cy="1164.6" r="1" fill="#84E4E7"/><text x="821.2" y="1165.7" font-size="3.1" fill="#cccccc" text-anchor="end">Out(1)</text><rect x="795" y="1168.9" width="32.5" height="4.6" fill="rgba(62,62,62,0.8)"/><path d="M810 1170.6 l1.25 1.25 l1.25 -1.25" fill="none" stroke="#dcdcdc" stroke-width="0.85"/></g><g><rect x="853.3" y="1149.9" width="32.8" height="30.4" fill="none" stroke="#181818" stroke-opacity="0.55" stroke-width="0.6"/><rect x="853.6" y="1150.2" width="32.2" height="7.4" fill="rgba(64,64,64,0.8)"/><text x="855.9" y="1156.15" font-size="3.45" fill="#dadada">Divide</text><rect x="853.6" y="1157.6" width="32.2" height="2.3" fill="#3F8EF5"/><rect x="853.6" y="1159.9" width="14" height="15.5" fill="rgba(67,67,67,0.8)"/><rect x="867.6" y="1159.9" width="18.2" height="15.5" fill="rgba(50,50,50,0.8)"/><circle cx="856.9" cy="1164.6" r="1" fill="#84E4E7"/><text x="860.3" y="1165.7" font-size="3.1" fill="#cccccc">A(1)</text><circle cx="856.9" cy="1171.1" r="0.85" fill="#262626" stroke="#84E4E7" stroke-width="0.45" stroke-opacity="0.75"/><text x="860.3" y="1172.2" font-size="3.1" fill="#cccccc">B(1)</text><circle cx="882.8" cy="1164.6" r="1" fill="#84E4E7"/><text x="879.5" y="1165.7" font-size="3.1" fill="#cccccc" text-anchor="end">Out(1)</text><rect x="853.6" y="1175.4" width="32.2" height="4.6" fill="rgba(62,62,62,0.8)"/><path d="M868.45 1177.1 l1.25 1.25 l1.25 -1.25" fill="none" stroke="#dcdcdc" stroke-width="0.85"/></g><g><rect x="914.2" y="1149.9" width="33" height="36.9" fill="none" stroke="#181818" stroke-opacity="0.55" stroke-width="0.6"/><rect x="914.5" y="1150.2" width="32.4" height="7.4" fill="rgba(64,64,64,0.8)"/><text x="916.8" y="1156.15" font-size="3.45" fill="#dadada">Lerp</text><rect x="914.5" y="1157.6" width="32.4" height="2.3" fill="#3F8EF5"/><rect x="914.5" y="1159.9" width="13.75" height="22" fill="rgba(67,67,67,0.8)"/><rect x="928.25" y="1159.9" width="18.65" height="22" fill="rgba(50,50,50,0.8)"/><circle cx="917.8" cy="1164.6" r="0.85" fill="#262626" stroke="#84E4E7" stroke-width="0.45" stroke-opacity="0.75"/><text x="921.2" y="1165.7" font-size="3.1" fill="#cccccc">A(1)</text><circle cx="917.8" cy="1171.1" r="1" fill="#84E4E7"/><text x="921.2" y="1172.2" font-size="3.1" fill="#cccccc">B(1)</text><circle cx="917.8" cy="1177.6" r="1" fill="#84E4E7"/><text x="921.2" y="1178.7" font-size="3.1" fill="#cccccc">T(1)</text><circle cx="943.9" cy="1164.6" r="1" fill="#84E4E7"/><text x="940.6" y="1165.7" font-size="3.1" fill="#cccccc" text-anchor="end">Out(1)</text><rect x="914.5" y="1181.9" width="32.4" height="4.6" fill="rgba(62,62,62,0.8)"/><path d="M929.45 1183.6 l1.25 1.25 l1.25 -1.25" fill="none" stroke="#dcdcdc" stroke-width="0.85"/></g><rect x="746.9" y="1181.3" width="15.7" height="6" fill="#3b3b3b" rx="2"/><circle cx="749.5" cy="1184.3" r="0.95" fill="#84E4E7"/><circle cx="760" cy="1184.3" r="0.95" fill="#84E4E7"/><g><rect x="1298.9" y="619.9" width="30.9" height="19.3" fill="none" stroke="#181818" stroke-opacity="0.55" stroke-width="0.6"/><rect x="1299.2" y="620.2" width="30.3" height="7.4" fill="rgba(64,64,64,0.8)"/><text x="1301.5" y="626.15" font-size="3.45" fill="#dadada">Is Front Face</text><rect x="1299.2" y="627.6" width="30.3" height="2.3" fill="#CBCBCB"/><rect x="1299.2" y="629.9" width="30.3" height="9" fill="rgba(50,50,50,0.8)"/><circle cx="1326.5" cy="634.6" r="1" fill="#9481E6"/><text x="1323.2" y="635.7" font-size="3.1" fill="#cccccc" text-anchor="end">Out(B)</text></g><rect x="1228.3" y="632.2" width="32.6" height="7.2" fill="#494949" rx="3.6"/><circle cx="1231.3" cy="635.8" r="0.65" fill="#B5E655"/><text x="1233.9" y="636.9" font-size="3.15" fill="#d8d8d8">Flipbook(T2)</text><circle cx="1255.5" cy="635.8" r="1" fill="#FF8B8B"/><rect x="1167.2" y="641.4" width="26.5" height="7.1" fill="#494949" rx="3.55"/><circle cx="1170.2" cy="644.95" r="0.65" fill="#B5E655"/><text x="1172.8" y="646.05" font-size="3.15" fill="#d8d8d8">Width(1)</text><circle cx="1188.3" cy="644.95" r="1" fill="#84E4E7"/><rect x="1166.3" y="651" width="27.4" height="7.1" fill="#494949" rx="3.55"/><circle cx="1169.3" cy="654.55" r="0.65" fill="#B5E655"/><text x="1171.9" y="655.65" font-size="3.15" fill="#d8d8d8">Height(1)</text><circle cx="1188.3" cy="654.55" r="1" fill="#84E4E7"/><g><rect x="1219.4" y="641.2" width="42" height="59.8" fill="none" stroke="#181818" stroke-opacity="0.55" stroke-width="0.6"/><rect x="1219.7" y="641.5" width="41.4" height="7.4" fill="rgba(64,64,64,0.8)"/><text x="1222" y="647.45" font-size="3.45" fill="#dadada">Flipbook</text><rect x="1219.7" y="648.9" width="41.4" height="2.3" fill="#19E08E"/><rect x="1219.7" y="651.2" width="22.2" height="28.5" fill="rgba(67,67,67,0.8)"/><rect x="1241.9" y="651.2" width="19.2" height="28.5" fill="rgba(50,50,50,0.8)"/><circle cx="1223" cy="655.9" r="0.85" fill="#262626" stroke="#9AEF92" stroke-width="0.45" stroke-opacity="0.75"/><text x="1226.4" y="657" font-size="3.1" fill="#cccccc">UV(2)</text><circle cx="1223" cy="662.4" r="1" fill="#84E4E7"/><text x="1226.4" y="663.5" font-size="3.1" fill="#cccccc">Width(1)</text><circle cx="1223" cy="668.9" r="1" fill="#84E4E7"/><text x="1226.4" y="670" font-size="3.1" fill="#cccccc">Height(1)</text><circle cx="1223" cy="675.4" r="1" fill="#84E4E7"/><text x="1226.4" y="676.5" font-size="3.1" fill="#cccccc">Tile(1)</text><circle cx="1258.1" cy="655.9" r="1" fill="#9AEF92"/><text x="1254.8" y="657" font-size="3.1" fill="#cccccc" text-anchor="end">Out(2)</text><rect x="1219.7" y="679.7" width="41.4" height="16.7" fill="rgba(62,62,62,0.8)"/><text x="1222.7" y="685.4" font-size="3" fill="#c8c8c8">Invert X</text><rect x="1254.2" y="682.5" width="3.8" height="3.8" fill="#2a2a2a" stroke="#1c1c1c" stroke-width="0.3" rx="0.4"/><text x="1222.7" y="692.7" font-size="3" fill="#c8c8c8">Invert Y</text><rect x="1254.2" y="689.8" width="3.8" height="3.8" fill="#2a2a2a" stroke="#1c1c1c" stroke-width="0.3" rx="0.4"/><path d="M1255 691.8 l0.9 0.9 l1.5 -2" fill="none" stroke="#e8e8e8" stroke-width="0.7"/><rect x="1219.7" y="696.4" width="41.4" height="4.3" fill="rgba(62,62,62,0.8)"/><path d="M1239.15 697.95 l1.25 1.25 l1.25 -1.25" fill="none" stroke="#dcdcdc" stroke-width="0.85"/></g><g><rect x="1274.9" y="641.2" width="55.2" height="116.1" fill="none" stroke="#181818" stroke-opacity="0.55" stroke-width="0.6"/><rect x="1275.2" y="641.5" width="54.6" height="7.4" fill="rgba(64,64,64,0.8)"/><text x="1277.5" y="647.45" font-size="3.45" fill="#dadada">Sample Texture 2D</text><rect x="1275.2" y="648.9" width="54.6" height="2.3" fill="#E8341F"/><rect x="1275.2" y="651.2" width="29.8" height="35" fill="rgba(67,67,67,0.8)"/><rect x="1305" y="651.2" width="24.8" height="35" fill="rgba(50,50,50,0.8)"/><circle cx="1278.5" cy="655.9" r="1" fill="#FF8B8B"/><text x="1281.9" y="657" font-size="3.1" fill="#cccccc">Texture(T2)</text><circle cx="1278.5" cy="662.4" r="1" fill="#9AEF92"/><text x="1281.9" y="663.5" font-size="3.1" fill="#cccccc">UV(2)</text><circle cx="1278.5" cy="668.9" r="0.85" fill="#262626" stroke="#C8C8C8" stroke-width="0.45" stroke-opacity="0.75"/><text x="1281.9" y="670" font-size="3.1" fill="#cccccc">Sampler(SS)</text><circle cx="1326.8" cy="655.9" r="1" fill="#FBCBF4"/><text x="1323.5" y="657" font-size="3.1" fill="#cccccc" text-anchor="end">RGBA(4)</text><circle cx="1326.8" cy="662.4" r="0.85" fill="#262626" stroke="#84E4E7" stroke-width="0.45" stroke-opacity="0.75"/><text x="1323.5" y="663.5" font-size="3.1" fill="#cccccc" text-anchor="end">R(1)</text><circle cx="1326.8" cy="668.9" r="0.85" fill="#262626" stroke="#84E4E7" stroke-width="0.45" stroke-opacity="0.75"/><text x="1323.5" y="670" font-size="3.1" fill="#cccccc" text-anchor="end">G(1)</text><circle cx="1326.8" cy="675.4" r="0.85" fill="#262626" stroke="#84E4E7" stroke-width="0.45" stroke-opacity="0.75"/><text x="1323.5" y="676.5" font-size="3.1" fill="#cccccc" text-anchor="end">B(1)</text><circle cx="1326.8" cy="681.9" r="0.85" fill="#262626" stroke="#84E4E7" stroke-width="0.45" stroke-opacity="0.75"/><text x="1323.5" y="683" font-size="3.1" fill="#cccccc" text-anchor="end">A(1)</text><rect x="1275.2" y="686.2" width="54.6" height="16.7" fill="rgba(62,62,62,0.8)"/><text x="1278.2" y="691.9" font-size="3" fill="#c8c8c8">Type</text><rect x="1306.5" y="688.9" width="20.7" height="4" fill="#565656" rx="0.5"/><text x="1307.7" y="691.9" font-size="2.9" fill="#e6e6e6" font-weight="bold">Default</text><path d="M1324.2 690.4 l1.6 0 l-0.8 1.1 z" fill="#d0d0d0"/><text x="1278.2" y="699.2" font-size="3" fill="#c8c8c8">Space</text><rect x="1306.5" y="696.2" width="20.7" height="4" fill="#565656" rx="0.5"/><text x="1307.7" y="699.2" font-size="2.9" fill="#e6e6e6" font-weight="bold">Tangent</text><path d="M1324.2 697.7 l1.6 0 l-0.8 1.1 z" fill="#d0d0d0"/><rect x="1275.2" y="703.4" width="54.6" height="53.6" fill="#585858"/><circle cx="1302.5" cy="730.2" r="24.8" fill="#fff"/><path d="M1302.5 705.4 V755" stroke="#7d8a7d" stroke-width="0.45"/><path d="M1304.5 707 l3.4 1.0 l-0.4 2.6 l-2.4 -1.6 z" fill="#f01818"/><path d="M1300.5 753.4 l-3.4 -1.0 l0.4 -2.6 l2.4 1.6 z" fill="#f01818"/><circle cx="1302.5" cy="730.2" r="24.65" fill="none" stroke="#f8b0b0" stroke-width="0.3"/></g><g><rect x="1346.7" y="641.1" width="44.9" height="36.9" fill="none" stroke="#181818" stroke-opacity="0.55" stroke-width="0.6"/><rect x="1347" y="641.4" width="44.3" height="7.4" fill="rgba(64,64,64,0.8)"/><text x="1349.3" y="647.35" font-size="3.45" fill="#dadada">Branch</text><rect x="1347" y="648.8" width="44.3" height="2.3" fill="#CBCBCB"/><rect x="1347" y="651.1" width="26" height="22" fill="rgba(67,67,67,0.8)"/><rect x="1373" y="651.1" width="18.3" height="22" fill="rgba(50,50,50,0.8)"/><circle cx="1350.3" cy="655.8" r="1" fill="#9481E6"/><text x="1353.7" y="656.9" font-size="3.1" fill="#cccccc">Predicate(B)</text><circle cx="1350.3" cy="662.3" r="1" fill="#FBCBF4"/><text x="1353.7" y="663.4" font-size="3.1" fill="#cccccc">True(4)</text><circle cx="1350.3" cy="668.8" r="1" fill="#FBCBF4"/><text x="1353.7" y="669.9" font-size="3.1" fill="#cccccc">False(4)</text><circle cx="1388.3" cy="655.8" r="1" fill="#FBCBF4"/><text x="1385" y="656.9" font-size="3.1" fill="#cccccc" text-anchor="end">Out(4)</text><rect x="1347" y="673.1" width="44.3" height="4.6" fill="rgba(62,62,62,0.8)"/><path d="M1367.9 674.8 l1.25 1.25 l1.25 -1.25" fill="none" stroke="#dcdcdc" stroke-width="0.85"/></g><g><rect x="1424.5" y="723" width="30.6" height="38.8" fill="none" stroke="#181818" stroke-opacity="0.55" stroke-width="0.6"/><rect x="1424.8" y="723.3" width="30" height="7.4" fill="rgba(64,64,64,0.8)"/><text x="1427.1" y="729.25" font-size="3.45" fill="#dadada">Split</text><rect x="1424.8" y="730.7" width="30" height="2.3" fill="#A7E522"/><rect x="1424.8" y="733" width="15" height="28.5" fill="rgba(67,67,67,0.8)"/><rect x="1439.8" y="733" width="15" height="28.5" fill="rgba(50,50,50,0.8)"/><circle cx="1428.1" cy="737.7" r="1" fill="#FBCBF4"/><text x="1431.5" y="738.8" font-size="3.1" fill="#cccccc">In(4)</text><circle cx="1451.8" cy="737.7" r="0.85" fill="#262626" stroke="#84E4E7" stroke-width="0.45" stroke-opacity="0.75"/><text x="1448.5" y="738.8" font-size="3.1" fill="#cccccc" text-anchor="end">R(1)</text><circle cx="1451.8" cy="744.2" r="0.85" fill="#262626" stroke="#84E4E7" stroke-width="0.45" stroke-opacity="0.75"/><text x="1448.5" y="745.3" font-size="3.1" fill="#cccccc" text-anchor="end">G(1)</text><circle cx="1451.8" cy="750.7" r="0.85" fill="#262626" stroke="#84E4E7" stroke-width="0.45" stroke-opacity="0.75"/><text x="1448.5" y="751.8" font-size="3.1" fill="#cccccc" text-anchor="end">B(1)</text><circle cx="1451.8" cy="757.2" r="1" fill="#84E4E7"/><text x="1448.5" y="758.3" font-size="3.1" fill="#cccccc" text-anchor="end">A(1)</text></g><g><rect x="1219.7" y="756.3" width="41.6" height="59.8" fill="none" stroke="#181818" stroke-opacity="0.55" stroke-width="0.6"/><rect x="1220" y="756.6" width="41" height="7.4" fill="rgba(64,64,64,0.8)"/><text x="1222.3" y="762.55" font-size="3.45" fill="#dadada">Flipbook</text><rect x="1220" y="764" width="41" height="2.3" fill="#19E08E"/><rect x="1220" y="766.3" width="22.2" height="28.5" fill="rgba(67,67,67,0.8)"/><rect x="1242.2" y="766.3" width="18.8" height="28.5" fill="rgba(50,50,50,0.8)"/><circle cx="1223.3" cy="771" r="0.85" fill="#262626" stroke="#9AEF92" stroke-width="0.45" stroke-opacity="0.75"/><text x="1226.7" y="772.1" font-size="3.1" fill="#cccccc">UV(2)</text><circle cx="1223.3" cy="777.5" r="1" fill="#84E4E7"/><text x="1226.7" y="778.6" font-size="3.1" fill="#cccccc">Width(1)</text><circle cx="1223.3" cy="784" r="1" fill="#84E4E7"/><text x="1226.7" y="785.1" font-size="3.1" fill="#cccccc">Height(1)</text><circle cx="1223.3" cy="790.5" r="1" fill="#84E4E7"/><text x="1226.7" y="791.6" font-size="3.1" fill="#cccccc">Tile(1)</text><circle cx="1258" cy="771" r="1" fill="#9AEF92"/><text x="1254.7" y="772.1" font-size="3.1" fill="#cccccc" text-anchor="end">Out(2)</text><rect x="1220" y="794.8" width="41" height="16.7" fill="rgba(62,62,62,0.8)"/><text x="1223" y="800.5" font-size="3" fill="#c8c8c8">Invert X</text><rect x="1254.1" y="797.6" width="3.8" height="3.8" fill="#2a2a2a" stroke="#1c1c1c" stroke-width="0.3" rx="0.4"/><text x="1223" y="807.8" font-size="3" fill="#c8c8c8">Invert Y</text><rect x="1254.1" y="804.9" width="3.8" height="3.8" fill="#2a2a2a" stroke="#1c1c1c" stroke-width="0.3" rx="0.4"/><path d="M1254.9 806.9 l0.9 0.9 l1.5 -2" fill="none" stroke="#e8e8e8" stroke-width="0.7"/><rect x="1220" y="811.5" width="41" height="4.3" fill="rgba(62,62,62,0.8)"/><path d="M1239.25 813.05 l1.25 1.25 l1.25 -1.25" fill="none" stroke="#dcdcdc" stroke-width="0.85"/></g><g><rect x="1274.9" y="756.4" width="55.2" height="116.1" fill="none" stroke="#181818" stroke-opacity="0.55" stroke-width="0.6"/><rect x="1275.2" y="756.7" width="54.6" height="7.4" fill="rgba(64,64,64,0.8)"/><text x="1277.5" y="762.65" font-size="3.45" fill="#dadada">Sample Texture 2D</text><rect x="1275.2" y="764.1" width="54.6" height="2.3" fill="#E8341F"/><rect x="1275.2" y="766.4" width="29.8" height="35" fill="rgba(67,67,67,0.8)"/><rect x="1305" y="766.4" width="24.8" height="35" fill="rgba(50,50,50,0.8)"/><circle cx="1278.5" cy="771.1" r="1" fill="#FF8B8B"/><text x="1281.9" y="772.2" font-size="3.1" fill="#cccccc">Texture(T2)</text><circle cx="1278.5" cy="777.6" r="1" fill="#9AEF92"/><text x="1281.9" y="778.7" font-size="3.1" fill="#cccccc">UV(2)</text><circle cx="1278.5" cy="784.1" r="0.85" fill="#262626" stroke="#C8C8C8" stroke-width="0.45" stroke-opacity="0.75"/><text x="1281.9" y="785.2" font-size="3.1" fill="#cccccc">Sampler(SS)</text><circle cx="1326.8" cy="771.1" r="1" fill="#FBCBF4"/><text x="1323.5" y="772.2" font-size="3.1" fill="#cccccc" text-anchor="end">RGBA(4)</text><circle cx="1326.8" cy="777.6" r="0.85" fill="#262626" stroke="#84E4E7" stroke-width="0.45" stroke-opacity="0.75"/><text x="1323.5" y="778.7" font-size="3.1" fill="#cccccc" text-anchor="end">R(1)</text><circle cx="1326.8" cy="784.1" r="0.85" fill="#262626" stroke="#84E4E7" stroke-width="0.45" stroke-opacity="0.75"/><text x="1323.5" y="785.2" font-size="3.1" fill="#cccccc" text-anchor="end">G(1)</text><circle cx="1326.8" cy="790.6" r="0.85" fill="#262626" stroke="#84E4E7" stroke-width="0.45" stroke-opacity="0.75"/><text x="1323.5" y="791.7" font-size="3.1" fill="#cccccc" text-anchor="end">B(1)</text><circle cx="1326.8" cy="797.1" r="0.85" fill="#262626" stroke="#84E4E7" stroke-width="0.45" stroke-opacity="0.75"/><text x="1323.5" y="798.2" font-size="3.1" fill="#cccccc" text-anchor="end">A(1)</text><rect x="1275.2" y="801.4" width="54.6" height="16.7" fill="rgba(62,62,62,0.8)"/><text x="1278.2" y="807.1" font-size="3" fill="#c8c8c8">Type</text><rect x="1306.5" y="804.1" width="20.7" height="4" fill="#565656" rx="0.5"/><text x="1307.7" y="807.1" font-size="2.9" fill="#e6e6e6" font-weight="bold">Default</text><path d="M1324.2 805.6 l1.6 0 l-0.8 1.1 z" fill="#d0d0d0"/><text x="1278.2" y="814.4" font-size="3" fill="#c8c8c8">Space</text><rect x="1306.5" y="811.4" width="20.7" height="4" fill="#565656" rx="0.5"/><text x="1307.7" y="814.4" font-size="2.9" fill="#e6e6e6" font-weight="bold">Tangent</text><path d="M1324.2 812.9 l1.6 0 l-0.8 1.1 z" fill="#d0d0d0"/><rect x="1275.2" y="818.6" width="54.6" height="53.6" fill="#585858"/><g clip-path="url(#c9)"><rect x="1277.7" y="820.6" width="49.6" height="49.6" fill="#e39a9a"/><rect x="1277.7" y="820.6" width="49.6" height="49.6" fill="url(#pdots)"/><ellipse cx="1302.5" cy="845.4" rx="18.5" ry="24.8" fill="none" stroke="#f3d3d3" stroke-width="0.6"/><ellipse cx="1302.5" cy="845.4" rx="13.9" ry="24.8" fill="#dc8a8a" stroke="#f7e6e6" stroke-width="0.7"/><rect x="1288.5" y="820.6" width="28" height="49.6" fill="url(#pdots2)"/><ellipse cx="1302.5" cy="845.4" rx="9.6" ry="24.8" fill="#fbf3f3"/><ellipse cx="1302.5" cy="845.4" rx="7" ry="24.8" fill="#b81f1f"/><ellipse cx="1302.5" cy="845.4" rx="4.3" ry="24.8" fill="#ffffff"/><path d="M1302.5 820.6 V870.2" stroke="#cfcfd4" stroke-width="0.5"/></g></g><g><rect x="1099.95" y="755.95" width="38.1" height="35.05" fill="none" stroke="#181818" stroke-opacity="0.55" stroke-width="0.6"/><rect x="1100.25" y="756.25" width="37.5" height="7.4" fill="rgba(64,64,64,0.8)"/><text x="1102.55" y="762.2" font-size="3.45" fill="#dadada">Comparison</text><rect x="1100.25" y="763.65" width="37.5" height="2.3" fill="#CBCBCB"/><rect x="1100.25" y="765.95" width="16.5" height="15.5" fill="rgba(67,67,67,0.8)"/><rect x="1116.75" y="765.95" width="21" height="15.5" fill="rgba(50,50,50,0.8)"/><circle cx="1103.55" cy="770.65" r="0.85" fill="#262626" stroke="#84E4E7" stroke-width="0.45" stroke-opacity="0.75"/><text x="1106.95" y="771.75" font-size="3.1" fill="#cccccc">A(1)</text><circle cx="1103.55" cy="777.15" r="1" fill="#84E4E7"/><text x="1106.95" y="778.25" font-size="3.1" fill="#cccccc">B(1)</text><circle cx="1134.75" cy="770.65" r="1" fill="#9481E6"/><text x="1131.45" y="771.75" font-size="3.1" fill="#cccccc" text-anchor="end">Out(B)</text><rect x="1100.25" y="781.45" width="37.5" height="9.25" fill="rgba(62,62,62,0.8)"/><rect x="1114.45" y="783.87" width="21" height="4.4" fill="#565656" rx="0.5"/><text x="1115.65" y="787.07" font-size="2.9" fill="#e6e6e6" font-weight="bold">Greater</text><path d="M1132.45 785.57 l1.6 0 l-0.8 1.1 z" fill="#d0d0d0"/></g><g><rect x="1149.7" y="756.3" width="44.6" height="36.9" fill="none" stroke="#181818" stroke-opacity="0.55" stroke-width="0.6"/><rect x="1150" y="756.6" width="44" height="7.4" fill="rgba(64,64,64,0.8)"/><text x="1152.3" y="762.55" font-size="3.45" fill="#dadada">Branch</text><rect x="1150" y="764" width="44" height="2.3" fill="#CBCBCB"/><rect x="1150" y="766.3" width="26" height="22" fill="rgba(67,67,67,0.8)"/><rect x="1176" y="766.3" width="18" height="22" fill="rgba(50,50,50,0.8)"/><circle cx="1153.3" cy="771" r="1" fill="#9481E6"/><text x="1156.7" y="772.1" font-size="3.1" fill="#cccccc">Predicate(B)</text><circle cx="1153.3" cy="777.5" r="1" fill="#84E4E7"/><text x="1156.7" y="778.6" font-size="3.1" fill="#cccccc">True(1)</text><circle cx="1153.3" cy="784" r="1" fill="#84E4E7"/><text x="1156.7" y="785.1" font-size="3.1" fill="#cccccc">False(1)</text><circle cx="1191" cy="771" r="1" fill="#84E4E7"/><text x="1187.7" y="772.1" font-size="3.1" fill="#cccccc" text-anchor="end">Out(1)</text><rect x="1150" y="788.3" width="44" height="4.6" fill="rgba(62,62,62,0.8)"/><path d="M1170.75 790 l1.25 1.25 l1.25 -1.25" fill="none" stroke="#dcdcdc" stroke-width="0.85"/></g><rect x="1104.4" y="793.1" width="32.85" height="7.3" fill="#494949" rx="3.65"/><circle cx="1107.4" cy="796.75" r="0.65" fill="#B5E655"/><text x="1110" y="797.85" font-size="3.15" fill="#d8d8d8">CardBack1(1)</text><circle cx="1131.85" cy="796.75" r="1" fill="#84E4E7"/><rect x="1104.4" y="802.5" width="32.85" height="7.25" fill="#494949" rx="3.62"/><circle cx="1107.4" cy="806.12" r="0.65" fill="#B5E655"/><text x="1110" y="807.23" font-size="3.15" fill="#d8d8d8">CardBack2(1)</text><circle cx="1131.85" cy="806.12" r="1" fill="#84E4E7"/><rect x="1513" y="584.5" width="57.75" height="45.2" fill="#191919" fill-opacity="0.78" stroke="#2b2b2b" stroke-width="0.5"/><text x="1515.3" y="591.8" font-size="4.6" fill="#d0d0d0">Vertex</text><rect x="1516.1" y="594.4" width="51.85" height="8.9" fill="#404040" fill-opacity="0.85"/><circle cx="1519.1" cy="598.85" r="1" fill="#F6FF9A"/><text x="1522.5" y="599.95" font-size="3" fill="#c2c2c2">Position(3)</text><rect x="1516.1" y="605.75" width="51.85" height="8.9" fill="#404040" fill-opacity="0.85"/><circle cx="1519.1" cy="610.2" r="0.85" fill="#262626" stroke="#F6FF9A" stroke-width="0.45" stroke-opacity="0.75"/><text x="1522.5" y="611.3" font-size="3" fill="#c2c2c2">Normal(3)</text><rect x="1516.1" y="617.1" width="51.85" height="8.9" fill="#404040" fill-opacity="0.85"/><circle cx="1519.1" cy="621.55" r="0.85" fill="#262626" stroke="#F6FF9A" stroke-width="0.45" stroke-opacity="0.75"/><text x="1522.5" y="622.65" font-size="3" fill="#c2c2c2">Tangent(3)</text><rect x="1513" y="639.3" width="57.75" height="100.8" fill="#191919" fill-opacity="0.78" stroke="#2b2b2b" stroke-width="0.5"/><text x="1515.3" y="646.2" font-size="4.6" fill="#d0d0d0">Fragment</text><rect x="1516.1" y="648.8" width="51.85" height="8.9" fill="#404040" fill-opacity="0.85"/><circle cx="1519.1" cy="653.25" r="1" fill="#F6FF9A"/><text x="1522.5" y="654.35" font-size="3" fill="#c2c2c2">Base Color(3)</text><rect x="1516.1" y="660.09" width="51.85" height="8.9" fill="#404040" fill-opacity="0.85"/><circle cx="1519.1" cy="664.54" r="0.85" fill="#262626" stroke="#84E4E7" stroke-width="0.45" stroke-opacity="0.75"/><text x="1522.5" y="665.64" font-size="3" fill="#c2c2c2">Metallic(1)</text><rect x="1516.1" y="671.38" width="51.85" height="8.9" fill="#404040" fill-opacity="0.85"/><circle cx="1519.1" cy="675.83" r="0.85" fill="#262626" stroke="#84E4E7" stroke-width="0.45" stroke-opacity="0.75"/><text x="1522.5" y="676.93" font-size="3" fill="#c2c2c2">Smoothness(1)</text><rect x="1516.1" y="682.67" width="51.85" height="8.9" fill="#404040" fill-opacity="0.85"/><circle cx="1519.1" cy="687.12" r="0.85" fill="#262626" stroke="#F6FF9A" stroke-width="0.45" stroke-opacity="0.75"/><text x="1522.5" y="688.22" font-size="3" fill="#c2c2c2">Emission(3)</text><rect x="1516.1" y="693.96" width="51.85" height="8.9" fill="#404040" fill-opacity="0.85"/><circle cx="1519.1" cy="698.41" r="0.85" fill="#262626" stroke="#84E4E7" stroke-width="0.45" stroke-opacity="0.75"/><text x="1522.5" y="699.51" font-size="3" fill="#c2c2c2">Ambient Occlusion(1)</text><rect x="1516.1" y="705.25" width="51.85" height="8.9" fill="#404040" fill-opacity="0.85"/><circle cx="1519.1" cy="709.7" r="1" fill="#84E4E7"/><text x="1522.5" y="710.8" font-size="3" fill="#c2c2c2">Alpha(1)</text><rect x="1516.1" y="716.54" width="51.85" height="8.9" fill="#404040" fill-opacity="0.85"/><circle cx="1519.1" cy="720.99" r="0.85" fill="#262626" stroke="#84E4E7" stroke-width="0.45" stroke-opacity="0.75"/><text x="1522.5" y="722.09" font-size="3" fill="#c2c2c2">Alpha Clip Threshold(1)</text><rect x="1516.1" y="727.83" width="51.85" height="8.9" fill="#404040" fill-opacity="0.85"/><circle cx="1519.1" cy="732.28" r="0.85" fill="#262626" stroke="#F6FF9A" stroke-width="0.45" stroke-opacity="0.75"/><text x="1522.5" y="733.38" font-size="3" fill="#c2c2c2">Normal (Tangent Space)(3)</text><path d="M1542 630 V639" stroke="#b8b8b8" stroke-width="0.7"/><circle cx="1542" cy="630.3" r="0.8" fill="#b8b8b8"/><circle cx="1542" cy="638.7" r="0.8" fill="#b8b8b8"/><rect x="733.9" y="142.8" width="27.5" height="4.8" fill="#353535" rx="0.4"/><rect x="734.8" y="143.5" width="3.4" height="3.4" fill="#474747" rx="0.3"/><text x="736.5" y="146.15" font-size="2.7" fill="#d8d8d8" text-anchor="middle">X</text><text x="739.3" y="146.25" font-size="3" fill="#e0e0e0">-1</text><rect x="748.55" y="143.5" width="3.4" height="3.4" fill="#474747" rx="0.3"/><text x="750.25" y="146.15" font-size="2.7" fill="#d8d8d8" text-anchor="middle">Y</text><text x="753.05" y="146.25" font-size="3" fill="#e0e0e0">1</text><rect x="761.9" y="143" width="5" height="4.4" fill="#363636" rx="0.4"/><circle cx="764.7" cy="145.2" r="0.65" fill="#9AEF92"/><path d="M766.7 145.2 L771.5 145.2" stroke="#9AEF92" stroke-width="0.8" stroke-opacity="0.7"/><rect x="733.9" y="149.3" width="27.5" height="4.8" fill="#353535" rx="0.4"/><rect x="734.8" y="150" width="3.4" height="3.4" fill="#474747" rx="0.3"/><text x="736.5" y="152.65" font-size="2.7" fill="#d8d8d8" text-anchor="middle">X</text><text x="739.3" y="152.75" font-size="3" fill="#e0e0e0">-0.0</text><rect x="748.55" y="150" width="3.4" height="3.4" fill="#474747" rx="0.3"/><text x="750.25" y="152.65" font-size="2.7" fill="#d8d8d8" text-anchor="middle">Y</text><text x="753.05" y="152.75" font-size="3" fill="#e0e0e0">1.0</text><rect x="761.9" y="149.5" width="5" height="4.4" fill="#363636" rx="0.4"/><circle cx="764.7" cy="151.7" r="0.65" fill="#9AEF92"/><path d="M766.7 151.7 L771.5 151.7" stroke="#9AEF92" stroke-width="0.8" stroke-opacity="0.7"/><rect x="822.05" y="142.8" width="15" height="4.8" fill="#353535" rx="0.4"/><rect x="822.95" y="143.5" width="3.4" height="3.4" fill="#474747" rx="0.3"/><text x="824.65" y="146.15" font-size="2.7" fill="#d8d8d8" text-anchor="middle">X</text><text x="827.45" y="146.25" font-size="3" fill="#e0e0e0">0</text><rect x="837.55" y="143" width="5" height="4.4" fill="#363636" rx="0.4"/><circle cx="840.35" cy="145.2" r="0.65" fill="#84E4E7"/><path d="M842.35 145.2 L847.15 145.2" stroke="#84E4E7" stroke-width="0.8" stroke-opacity="0.7"/><rect x="822.05" y="149.3" width="15" height="4.8" fill="#353535" rx="0.4"/><rect x="822.95" y="150" width="3.4" height="3.4" fill="#474747" rx="0.3"/><text x="824.65" y="152.65" font-size="2.7" fill="#d8d8d8" text-anchor="middle">X</text><text x="827.45" y="152.75" font-size="3" fill="#e0e0e0">1</text><rect x="837.55" y="149.5" width="5" height="4.4" fill="#363636" rx="0.4"/><circle cx="840.35" cy="151.7" r="0.65" fill="#84E4E7"/><path d="M842.35 151.7 L847.15 151.7" stroke="#84E4E7" stroke-width="0.8" stroke-opacity="0.7"/><rect x="746.4" y="181" width="15" height="4.8" fill="#353535" rx="0.4"/><rect x="747.3" y="181.7" width="3.4" height="3.4" fill="#474747" rx="0.3"/><text x="749" y="184.35" font-size="2.7" fill="#d8d8d8" text-anchor="middle">X</text><text x="751.8" y="184.45" font-size="3" fill="#e0e0e0">0</text><rect x="761.9" y="181.2" width="5" height="4.4" fill="#363636" rx="0.4"/><circle cx="764.7" cy="183.4" r="0.65" fill="#84E4E7"/><path d="M766.7 183.4 L771.5 183.4" stroke="#84E4E7" stroke-width="0.8" stroke-opacity="0.7"/><rect x="746.4" y="187.5" width="15" height="4.8" fill="#353535" rx="0.4"/><rect x="747.3" y="188.2" width="3.4" height="3.4" fill="#474747" rx="0.3"/><text x="749" y="190.85" font-size="2.7" fill="#d8d8d8" text-anchor="middle">X</text><text x="751.8" y="190.95" font-size="3" fill="#e0e0e0">1</text><rect x="761.9" y="187.7" width="5" height="4.4" fill="#363636" rx="0.4"/><circle cx="764.7" cy="189.9" r="0.65" fill="#84E4E7"/><path d="M766.7 189.9 L771.5 189.9" stroke="#84E4E7" stroke-width="0.8" stroke-opacity="0.7"/><rect x="694.55" y="242.6" width="15" height="4.8" fill="#353535" rx="0.4"/><rect x="695.45" y="243.3" width="3.4" height="3.4" fill="#474747" rx="0.3"/><text x="697.15" y="245.95" font-size="2.7" fill="#d8d8d8" text-anchor="middle">X</text><text x="699.95" y="246.05" font-size="3" fill="#e0e0e0">-1</text><rect x="710.05" y="242.8" width="5" height="4.4" fill="#363636" rx="0.4"/><circle cx="712.85" cy="245" r="0.65" fill="#84E4E7"/><path d="M714.85 245 L719.65 245" stroke="#84E4E7" stroke-width="0.8" stroke-opacity="0.7"/><rect x="822.1" y="105.8" width="15" height="4.8" fill="#353535" rx="0.4"/><rect x="823" y="106.5" width="3.4" height="3.4" fill="#474747" rx="0.3"/><text x="824.7" y="109.15" font-size="2.7" fill="#d8d8d8" text-anchor="middle">X</text><text x="827.5" y="109.25" font-size="3" fill="#e0e0e0">0.2</text><rect x="837.6" y="106" width="5" height="4.4" fill="#363636" rx="0.4"/><circle cx="840.4" cy="108.2" r="0.65" fill="#84E4E7"/><path d="M842.4 108.2 L847.2 108.2" stroke="#84E4E7" stroke-width="0.8" stroke-opacity="0.7"/><rect x="902.65" y="56" width="15" height="4.8" fill="#353535" rx="0.4"/><rect x="903.55" y="56.7" width="3.4" height="3.4" fill="#474747" rx="0.3"/><text x="905.25" y="59.35" font-size="2.7" fill="#d8d8d8" text-anchor="middle">X</text><text x="908.05" y="59.45" font-size="3" fill="#e0e0e0">0</text><rect x="918.15" y="56.2" width="5" height="4.4" fill="#363636" rx="0.4"/><circle cx="920.95" cy="58.4" r="0.65" fill="#84E4E7"/><path d="M922.95 58.4 L927.75 58.4" stroke="#84E4E7" stroke-width="0.8" stroke-opacity="0.7"/><rect x="969.3" y="105.8" width="15" height="4.8" fill="#353535" rx="0.4"/><rect x="970.2" y="106.5" width="3.4" height="3.4" fill="#474747" rx="0.3"/><text x="971.9" y="109.15" font-size="2.7" fill="#d8d8d8" text-anchor="middle">X</text><text x="974.7" y="109.25" font-size="3" fill="#e0e0e0">6.28</text><rect x="984.8" y="106" width="5" height="4.4" fill="#363636" rx="0.4"/><circle cx="987.6" cy="108.2" r="0.65" fill="#84E4E7"/><path d="M989.6 108.2 L994.4 108.2" stroke="#84E4E7" stroke-width="0.8" stroke-opacity="0.7"/><rect x="983.7" y="40.2" width="39.5" height="4.8" fill="#353535" rx="0.4"/><rect x="984.6" y="40.9" width="3.4" height="3.4" fill="#474747" rx="0.3"/><text x="986.3" y="43.55" font-size="2.7" fill="#d8d8d8" text-anchor="middle">X</text><text x="989.1" y="43.65" font-size="3" fill="#e0e0e0">0</text><rect x="997.77" y="40.9" width="3.4" height="3.4" fill="#474747" rx="0.3"/><text x="999.47" y="43.55" font-size="2.7" fill="#d8d8d8" text-anchor="middle">Y</text><text x="1002.27" y="43.65" font-size="3" fill="#e0e0e0">1</text><rect x="1010.93" y="40.9" width="3.4" height="3.4" fill="#474747" rx="0.3"/><text x="1012.63" y="43.55" font-size="2.7" fill="#d8d8d8" text-anchor="middle">Z</text><text x="1015.43" y="43.65" font-size="3" fill="#e0e0e0">0</text><rect x="1023.7" y="40.4" width="5" height="4.4" fill="#363636" rx="0.4"/><circle cx="1026.5" cy="42.6" r="0.65" fill="#F6FF9A"/><path d="M1028.5 42.6 L1033.3 42.6" stroke="#F6FF9A" stroke-width="0.8" stroke-opacity="0.7"/><rect x="948.3" y="222.25" width="15" height="4.8" fill="#353535" rx="0.4"/><rect x="949.2" y="222.95" width="3.4" height="3.4" fill="#474747" rx="0.3"/><text x="950.9" y="225.6" font-size="2.7" fill="#d8d8d8" text-anchor="middle">X</text><text x="953.7" y="225.7" font-size="3" fill="#e0e0e0">0.5</text><rect x="963.8" y="222.45" width="5" height="4.4" fill="#363636" rx="0.4"/><circle cx="966.6" cy="224.65" r="0.65" fill="#84E4E7"/><path d="M968.6 224.65 L973.4 224.65" stroke="#84E4E7" stroke-width="0.8" stroke-opacity="0.7"/><rect x="1009.3" y="222.25" width="15" height="4.8" fill="#353535" rx="0.4"/><rect x="1010.2" y="222.95" width="3.4" height="3.4" fill="#474747" rx="0.3"/><text x="1011.9" y="225.6" font-size="2.7" fill="#d8d8d8" text-anchor="middle">X</text><text x="1014.7" y="225.7" font-size="3" fill="#e0e0e0">6.28</text><rect x="1024.8" y="222.45" width="5" height="4.4" fill="#363636" rx="0.4"/><circle cx="1027.6" cy="224.65" r="0.65" fill="#84E4E7"/><path d="M1029.6 224.65 L1034.4 224.65" stroke="#84E4E7" stroke-width="0.8" stroke-opacity="0.7"/><rect x="1066.9" y="222.15" width="39.5" height="4.8" fill="#353535" rx="0.4"/><rect x="1067.8" y="222.85" width="3.4" height="3.4" fill="#474747" rx="0.3"/><text x="1069.5" y="225.5" font-size="2.7" fill="#d8d8d8" text-anchor="middle">X</text><text x="1072.3" y="225.6" font-size="3" fill="#e0e0e0">0</text><rect x="1080.97" y="222.85" width="3.4" height="3.4" fill="#474747" rx="0.3"/><text x="1082.67" y="225.5" font-size="2.7" fill="#d8d8d8" text-anchor="middle">Y</text><text x="1085.47" y="225.6" font-size="3" fill="#e0e0e0">0</text><rect x="1094.13" y="222.85" width="3.4" height="3.4" fill="#474747" rx="0.3"/><text x="1095.83" y="225.5" font-size="2.7" fill="#d8d8d8" text-anchor="middle">Z</text><text x="1098.63" y="225.6" font-size="3" fill="#e0e0e0">1</text><rect x="1106.9" y="222.35" width="5" height="4.4" fill="#363636" rx="0.4"/><circle cx="1109.7" cy="224.55" r="0.65" fill="#F6FF9A"/><path d="M1111.7 224.55 L1116.5 224.55" stroke="#F6FF9A" stroke-width="0.8" stroke-opacity="0.7"/><rect x="949.05" y="270.25" width="15" height="4.8" fill="#353535" rx="0.4"/><rect x="949.95" y="270.95" width="3.4" height="3.4" fill="#474747" rx="0.3"/><text x="951.65" y="273.6" font-size="2.7" fill="#d8d8d8" text-anchor="middle">X</text><text x="954.45" y="273.7" font-size="3" fill="#e0e0e0">0.5</text><rect x="964.55" y="270.45" width="5" height="4.4" fill="#363636" rx="0.4"/><circle cx="967.35" cy="272.65" r="0.65" fill="#84E4E7"/><path d="M969.35 272.65 L974.15 272.65" stroke="#84E4E7" stroke-width="0.8" stroke-opacity="0.7"/><rect x="1006.3" y="270.25" width="15" height="4.8" fill="#353535" rx="0.4"/><rect x="1007.2" y="270.95" width="3.4" height="3.4" fill="#474747" rx="0.3"/><text x="1008.9" y="273.6" font-size="2.7" fill="#d8d8d8" text-anchor="middle">X</text><text x="1011.7" y="273.7" font-size="3" fill="#e0e0e0">6.28</text><rect x="1021.8" y="270.45" width="5" height="4.4" fill="#363636" rx="0.4"/><circle cx="1024.6" cy="272.65" r="0.65" fill="#84E4E7"/><path d="M1026.6 272.65 L1031.4 272.65" stroke="#84E4E7" stroke-width="0.8" stroke-opacity="0.7"/><rect x="1066.9" y="270.15" width="39.5" height="4.8" fill="#353535" rx="0.4"/><rect x="1067.8" y="270.85" width="3.4" height="3.4" fill="#474747" rx="0.3"/><text x="1069.5" y="273.5" font-size="2.7" fill="#d8d8d8" text-anchor="middle">X</text><text x="1072.3" y="273.6" font-size="3" fill="#e0e0e0">0</text><rect x="1080.97" y="270.85" width="3.4" height="3.4" fill="#474747" rx="0.3"/><text x="1082.67" y="273.5" font-size="2.7" fill="#d8d8d8" text-anchor="middle">Y</text><text x="1085.47" y="273.6" font-size="3" fill="#e0e0e0">0</text><rect x="1094.13" y="270.85" width="3.4" height="3.4" fill="#474747" rx="0.3"/><text x="1095.83" y="273.5" font-size="2.7" fill="#d8d8d8" text-anchor="middle">Z</text><text x="1098.63" y="273.6" font-size="3" fill="#e0e0e0">1</text><rect x="1106.9" y="270.35" width="5" height="4.4" fill="#363636" rx="0.4"/><circle cx="1109.7" cy="272.55" r="0.65" fill="#F6FF9A"/><path d="M1111.7 272.55 L1116.5 272.55" stroke="#F6FF9A" stroke-width="0.8" stroke-opacity="0.7"/><rect x="949.05" y="318.25" width="15" height="4.8" fill="#353535" rx="0.4"/><rect x="949.95" y="318.95" width="3.4" height="3.4" fill="#474747" rx="0.3"/><text x="951.65" y="321.6" font-size="2.7" fill="#d8d8d8" text-anchor="middle">X</text><text x="954.45" y="321.7" font-size="3" fill="#e0e0e0">0.5</text><rect x="964.55" y="318.45" width="5" height="4.4" fill="#363636" rx="0.4"/><circle cx="967.35" cy="320.65" r="0.65" fill="#84E4E7"/><path d="M969.35 320.65 L974.15 320.65" stroke="#84E4E7" stroke-width="0.8" stroke-opacity="0.7"/><rect x="1006.3" y="318.25" width="15" height="4.8" fill="#353535" rx="0.4"/><rect x="1007.2" y="318.95" width="3.4" height="3.4" fill="#474747" rx="0.3"/><text x="1008.9" y="321.6" font-size="2.7" fill="#d8d8d8" text-anchor="middle">X</text><text x="1011.7" y="321.7" font-size="3" fill="#e0e0e0">6.28</text><rect x="1021.8" y="318.45" width="5" height="4.4" fill="#363636" rx="0.4"/><circle cx="1024.6" cy="320.65" r="0.65" fill="#84E4E7"/><path d="M1026.6 320.65 L1031.4 320.65" stroke="#84E4E7" stroke-width="0.8" stroke-opacity="0.7"/><rect x="1066.9" y="318.15" width="39.5" height="4.8" fill="#353535" rx="0.4"/><rect x="1067.8" y="318.85" width="3.4" height="3.4" fill="#474747" rx="0.3"/><text x="1069.5" y="321.5" font-size="2.7" fill="#d8d8d8" text-anchor="middle">X</text><text x="1072.3" y="321.6" font-size="3" fill="#e0e0e0">0</text><rect x="1080.97" y="318.85" width="3.4" height="3.4" fill="#474747" rx="0.3"/><text x="1082.67" y="321.5" font-size="2.7" fill="#d8d8d8" text-anchor="middle">Y</text><text x="1085.47" y="321.6" font-size="3" fill="#e0e0e0">0</text><rect x="1094.13" y="318.85" width="3.4" height="3.4" fill="#474747" rx="0.3"/><text x="1095.83" y="321.5" font-size="2.7" fill="#d8d8d8" text-anchor="middle">Z</text><text x="1098.63" y="321.6" font-size="3" fill="#e0e0e0">1</text><rect x="1106.9" y="318.35" width="5" height="4.4" fill="#363636" rx="0.4"/><circle cx="1109.7" cy="320.55" r="0.65" fill="#F6FF9A"/><path d="M1111.7 320.55 L1116.5 320.55" stroke="#F6FF9A" stroke-width="0.8" stroke-opacity="0.7"/><rect x="949.05" y="366.25" width="15" height="4.8" fill="#353535" rx="0.4"/><rect x="949.95" y="366.95" width="3.4" height="3.4" fill="#474747" rx="0.3"/><text x="951.65" y="369.6" font-size="2.7" fill="#d8d8d8" text-anchor="middle">X</text><text x="954.45" y="369.7" font-size="3" fill="#e0e0e0">0.5</text><rect x="964.55" y="366.45" width="5" height="4.4" fill="#363636" rx="0.4"/><circle cx="967.35" cy="368.65" r="0.65" fill="#84E4E7"/><path d="M969.35 368.65 L974.15 368.65" stroke="#84E4E7" stroke-width="0.8" stroke-opacity="0.7"/><rect x="1006.3" y="366.25" width="15" height="4.8" fill="#353535" rx="0.4"/><rect x="1007.2" y="366.95" width="3.4" height="3.4" fill="#474747" rx="0.3"/><text x="1008.9" y="369.6" font-size="2.7" fill="#d8d8d8" text-anchor="middle">X</text><text x="1011.7" y="369.7" font-size="3" fill="#e0e0e0">6.28</text><rect x="1021.8" y="366.45" width="5" height="4.4" fill="#363636" rx="0.4"/><circle cx="1024.6" cy="368.65" r="0.65" fill="#84E4E7"/><path d="M1026.6 368.65 L1031.4 368.65" stroke="#84E4E7" stroke-width="0.8" stroke-opacity="0.7"/><rect x="1066.9" y="366.15" width="39.5" height="4.8" fill="#353535" rx="0.4"/><rect x="1067.8" y="366.85" width="3.4" height="3.4" fill="#474747" rx="0.3"/><text x="1069.5" y="369.5" font-size="2.7" fill="#d8d8d8" text-anchor="middle">X</text><text x="1072.3" y="369.6" font-size="3" fill="#e0e0e0">0</text><rect x="1080.97" y="366.85" width="3.4" height="3.4" fill="#474747" rx="0.3"/><text x="1082.67" y="369.5" font-size="2.7" fill="#d8d8d8" text-anchor="middle">Y</text><text x="1085.47" y="369.6" font-size="3" fill="#e0e0e0">0</text><rect x="1094.13" y="366.85" width="3.4" height="3.4" fill="#474747" rx="0.3"/><text x="1095.83" y="369.5" font-size="2.7" fill="#d8d8d8" text-anchor="middle">Z</text><text x="1098.63" y="369.6" font-size="3" fill="#e0e0e0">1</text><rect x="1106.9" y="366.35" width="5" height="4.4" fill="#363636" rx="0.4"/><circle cx="1109.7" cy="368.55" r="0.65" fill="#F6FF9A"/><path d="M1111.7 368.55 L1116.5 368.55" stroke="#F6FF9A" stroke-width="0.8" stroke-opacity="0.7"/><rect x="949.05" y="414.25" width="15" height="4.8" fill="#353535" rx="0.4"/><rect x="949.95" y="414.95" width="3.4" height="3.4" fill="#474747" rx="0.3"/><text x="951.65" y="417.6" font-size="2.7" fill="#d8d8d8" text-anchor="middle">X</text><text x="954.45" y="417.7" font-size="3" fill="#e0e0e0">0.5</text><rect x="964.55" y="414.45" width="5" height="4.4" fill="#363636" rx="0.4"/><circle cx="967.35" cy="416.65" r="0.65" fill="#84E4E7"/><path d="M969.35 416.65 L974.15 416.65" stroke="#84E4E7" stroke-width="0.8" stroke-opacity="0.7"/><rect x="1006.3" y="414.25" width="15" height="4.8" fill="#353535" rx="0.4"/><rect x="1007.2" y="414.95" width="3.4" height="3.4" fill="#474747" rx="0.3"/><text x="1008.9" y="417.6" font-size="2.7" fill="#d8d8d8" text-anchor="middle">X</text><text x="1011.7" y="417.7" font-size="3" fill="#e0e0e0">6.28</text><rect x="1021.8" y="414.45" width="5" height="4.4" fill="#363636" rx="0.4"/><circle cx="1024.6" cy="416.65" r="0.65" fill="#84E4E7"/><path d="M1026.6 416.65 L1031.4 416.65" stroke="#84E4E7" stroke-width="0.8" stroke-opacity="0.7"/><rect x="1066.9" y="414.15" width="39.5" height="4.8" fill="#353535" rx="0.4"/><rect x="1067.8" y="414.85" width="3.4" height="3.4" fill="#474747" rx="0.3"/><text x="1069.5" y="417.5" font-size="2.7" fill="#d8d8d8" text-anchor="middle">X</text><text x="1072.3" y="417.6" font-size="3" fill="#e0e0e0">0</text><rect x="1080.97" y="414.85" width="3.4" height="3.4" fill="#474747" rx="0.3"/><text x="1082.67" y="417.5" font-size="2.7" fill="#d8d8d8" text-anchor="middle">Y</text><text x="1085.47" y="417.6" font-size="3" fill="#e0e0e0">0</text><rect x="1094.13" y="414.85" width="3.4" height="3.4" fill="#474747" rx="0.3"/><text x="1095.83" y="417.5" font-size="2.7" fill="#d8d8d8" text-anchor="middle">Z</text><text x="1098.63" y="417.6" font-size="3" fill="#e0e0e0">1</text><rect x="1106.9" y="414.35" width="5" height="4.4" fill="#363636" rx="0.4"/><circle cx="1109.7" cy="416.55" r="0.65" fill="#F6FF9A"/><path d="M1111.7 416.55 L1116.5 416.55" stroke="#F6FF9A" stroke-width="0.8" stroke-opacity="0.7"/><rect x="104.3" y="1037.5" width="15" height="4.8" fill="#353535" rx="0.4"/><rect x="105.2" y="1038.2" width="3.4" height="3.4" fill="#474747" rx="0.3"/><text x="106.9" y="1040.85" font-size="2.7" fill="#d8d8d8" text-anchor="middle">X</text><text x="109.7" y="1040.95" font-size="3" fill="#e0e0e0">0.12</text><rect x="119.8" y="1037.7" width="5" height="4.4" fill="#363636" rx="0.4"/><circle cx="122.6" cy="1039.9" r="0.65" fill="#84E4E7"/><path d="M124.6 1039.9 L129.4 1039.9" stroke="#84E4E7" stroke-width="0.8" stroke-opacity="0.7"/><rect x="203.8" y="1037.5" width="15" height="4.8" fill="#353535" rx="0.4"/><rect x="204.7" y="1038.2" width="3.4" height="3.4" fill="#474747" rx="0.3"/><text x="206.4" y="1040.85" font-size="2.7" fill="#d8d8d8" text-anchor="middle">X</text><text x="209.2" y="1040.95" font-size="3" fill="#e0e0e0">1</text><rect x="219.3" y="1037.7" width="5" height="4.4" fill="#363636" rx="0.4"/><circle cx="222.1" cy="1039.9" r="0.65" fill="#84E4E7"/><path d="M224.1 1039.9 L228.9 1039.9" stroke="#84E4E7" stroke-width="0.8" stroke-opacity="0.7"/><rect x="260.05" y="1037.5" width="15" height="4.8" fill="#353535" rx="0.4"/><rect x="260.95" y="1038.2" width="3.4" height="3.4" fill="#474747" rx="0.3"/><text x="262.65" y="1040.85" font-size="2.7" fill="#d8d8d8" text-anchor="middle">X</text><text x="265.45" y="1040.95" font-size="3" fill="#e0e0e0">2</text><rect x="275.55" y="1037.7" width="5" height="4.4" fill="#363636" rx="0.4"/><circle cx="278.35" cy="1039.9" r="0.65" fill="#84E4E7"/><path d="M280.35 1039.9 L285.15 1039.9" stroke="#84E4E7" stroke-width="0.8" stroke-opacity="0.7"/><rect x="378.55" y="1030" width="15" height="4.8" fill="#353535" rx="0.4"/><rect x="379.45" y="1030.7" width="3.4" height="3.4" fill="#474747" rx="0.3"/><text x="381.15" y="1033.35" font-size="2.7" fill="#d8d8d8" text-anchor="middle">X</text><text x="383.95" y="1033.45" font-size="3" fill="#e0e0e0">0.85</text><rect x="394.05" y="1030.2" width="5" height="4.4" fill="#363636" rx="0.4"/><circle cx="396.85" cy="1032.4" r="0.65" fill="#84E4E7"/><path d="M398.85 1032.4 L403.65 1032.4" stroke="#84E4E7" stroke-width="0.8" stroke-opacity="0.7"/><rect x="441.3" y="1028.5" width="15" height="4.8" fill="#353535" rx="0.4"/><rect x="442.2" y="1029.2" width="3.4" height="3.4" fill="#474747" rx="0.3"/><text x="443.9" y="1031.85" font-size="2.7" fill="#d8d8d8" text-anchor="middle">X</text><text x="446.7" y="1031.95" font-size="3" fill="#e0e0e0">12</text><rect x="456.8" y="1028.7" width="5" height="4.4" fill="#363636" rx="0.4"/><circle cx="459.6" cy="1030.9" r="0.65" fill="#84E4E7"/><path d="M461.6 1030.9 L466.4 1030.9" stroke="#84E4E7" stroke-width="0.8" stroke-opacity="0.7"/><rect x="441.3" y="1035" width="15" height="4.8" fill="#353535" rx="0.4"/><rect x="442.2" y="1035.7" width="3.4" height="3.4" fill="#474747" rx="0.3"/><text x="443.9" y="1038.35" font-size="2.7" fill="#d8d8d8" text-anchor="middle">X</text><text x="446.7" y="1038.45" font-size="3" fill="#e0e0e0">0</text><rect x="456.8" y="1035.2" width="5" height="4.4" fill="#363636" rx="0.4"/><circle cx="459.6" cy="1037.4" r="0.65" fill="#84E4E7"/><path d="M461.6 1037.4 L466.4 1037.4" stroke="#84E4E7" stroke-width="0.8" stroke-opacity="0.7"/><rect x="317.9" y="1113.1" width="15" height="4.8" fill="#353535" rx="0.4"/><rect x="318.8" y="1113.8" width="3.4" height="3.4" fill="#474747" rx="0.3"/><text x="320.5" y="1116.45" font-size="2.7" fill="#d8d8d8" text-anchor="middle">X</text><text x="323.3" y="1116.55" font-size="3" fill="#e0e0e0">0</text><rect x="333.4" y="1113.3" width="5" height="4.4" fill="#363636" rx="0.4"/><circle cx="336.2" cy="1115.5" r="0.65" fill="#84E4E7"/><path d="M338.2 1115.5 L343 1115.5" stroke="#84E4E7" stroke-width="0.8" stroke-opacity="0.7"/><rect x="317.9" y="1119.6" width="15" height="4.8" fill="#353535" rx="0.4"/><rect x="318.8" y="1120.3" width="3.4" height="3.4" fill="#474747" rx="0.3"/><text x="320.5" y="1122.95" font-size="2.7" fill="#d8d8d8" text-anchor="middle">X</text><text x="323.3" y="1123.05" font-size="3" fill="#e0e0e0">1</text><rect x="333.4" y="1119.8" width="5" height="4.4" fill="#363636" rx="0.4"/><circle cx="336.2" cy="1122" r="0.65" fill="#84E4E7"/><path d="M338.2 1122 L343 1122" stroke="#84E4E7" stroke-width="0.8" stroke-opacity="0.7"/><rect x="379.2" y="1114.75" width="15" height="4.8" fill="#353535" rx="0.4"/><rect x="380.1" y="1115.45" width="3.4" height="3.4" fill="#474747" rx="0.3"/><text x="381.8" y="1118.1" font-size="2.7" fill="#d8d8d8" text-anchor="middle">X</text><text x="384.6" y="1118.2" font-size="3" fill="#e0e0e0">0.5</text><rect x="394.7" y="1114.95" width="5" height="4.4" fill="#363636" rx="0.4"/><circle cx="397.5" cy="1117.15" r="0.65" fill="#84E4E7"/><path d="M399.5 1117.15 L404.3 1117.15" stroke="#84E4E7" stroke-width="0.8" stroke-opacity="0.7"/><rect x="441.3" y="1121" width="15" height="4.8" fill="#353535" rx="0.4"/><rect x="442.2" y="1121.7" width="3.4" height="3.4" fill="#474747" rx="0.3"/><text x="443.9" y="1124.35" font-size="2.7" fill="#d8d8d8" text-anchor="middle">X</text><text x="446.7" y="1124.45" font-size="3" fill="#e0e0e0">0</text><rect x="456.8" y="1121.2" width="5" height="4.4" fill="#363636" rx="0.4"/><circle cx="459.6" cy="1123.4" r="0.65" fill="#84E4E7"/><path d="M461.6 1123.4 L466.4 1123.4" stroke="#84E4E7" stroke-width="0.8" stroke-opacity="0.7"/><rect x="662.9" y="753.1" width="15" height="4.8" fill="#353535" rx="0.4"/><rect x="663.8" y="753.8" width="3.4" height="3.4" fill="#474747" rx="0.3"/><text x="665.5" y="756.45" font-size="2.7" fill="#d8d8d8" text-anchor="middle">X</text><text x="668.3" y="756.55" font-size="3" fill="#e0e0e0">256</text><rect x="678.4" y="753.3" width="5" height="4.4" fill="#363636" rx="0.4"/><circle cx="681.2" cy="755.5" r="0.65" fill="#84E4E7"/><path d="M683.2 755.5 L688 755.5" stroke="#84E4E7" stroke-width="0.8" stroke-opacity="0.7"/><rect x="765.2" y="799.75" width="15" height="4.8" fill="#353535" rx="0.4"/><rect x="766.1" y="800.45" width="3.4" height="3.4" fill="#474747" rx="0.3"/><text x="767.8" y="803.1" font-size="2.7" fill="#d8d8d8" text-anchor="middle">X</text><text x="770.6" y="803.2" font-size="3" fill="#e0e0e0">1</text><rect x="780.7" y="799.95" width="5" height="4.4" fill="#363636" rx="0.4"/><circle cx="783.5" cy="802.15" r="0.65" fill="#84E4E7"/><path d="M785.5 802.15 L790.3 802.15" stroke="#84E4E7" stroke-width="0.8" stroke-opacity="0.7"/><rect x="765.2" y="806.25" width="15" height="4.8" fill="#353535" rx="0.4"/><rect x="766.1" y="806.95" width="3.4" height="3.4" fill="#474747" rx="0.3"/><text x="767.8" y="809.6" font-size="2.7" fill="#d8d8d8" text-anchor="middle">X</text><text x="770.6" y="809.7" font-size="3" fill="#e0e0e0">0</text><rect x="780.7" y="806.45" width="5" height="4.4" fill="#363636" rx="0.4"/><circle cx="783.5" cy="808.65" r="0.65" fill="#84E4E7"/><path d="M785.5 808.65 L790.3 808.65" stroke="#84E4E7" stroke-width="0.8" stroke-opacity="0.7"/><rect x="830.9" y="720.7" width="15" height="4.8" fill="#353535" rx="0.4"/><rect x="831.8" y="721.4" width="3.4" height="3.4" fill="#474747" rx="0.3"/><text x="833.5" y="724.05" font-size="2.7" fill="#d8d8d8" text-anchor="middle">X</text><text x="836.3" y="724.15" font-size="3" fill="#e0e0e0">25.5</text><rect x="846.4" y="720.9" width="5" height="4.4" fill="#363636" rx="0.4"/><circle cx="849.2" cy="723.1" r="0.65" fill="#84E4E7"/><path d="M851.2 723.1 L856 723.1" stroke="#84E4E7" stroke-width="0.8" stroke-opacity="0.7"/><rect x="764.55" y="901.5" width="15" height="4.8" fill="#353535" rx="0.4"/><rect x="765.45" y="902.2" width="3.4" height="3.4" fill="#474747" rx="0.3"/><text x="767.15" y="904.85" font-size="2.7" fill="#d8d8d8" text-anchor="middle">X</text><text x="769.95" y="904.95" font-size="3" fill="#e0e0e0">1</text><rect x="780.05" y="901.7" width="5" height="4.4" fill="#363636" rx="0.4"/><circle cx="782.85" cy="903.9" r="0.65" fill="#84E4E7"/><path d="M784.85 903.9 L789.65 903.9" stroke="#84E4E7" stroke-width="0.8" stroke-opacity="0.7"/><rect x="764.55" y="908" width="15" height="4.8" fill="#353535" rx="0.4"/><rect x="765.45" y="908.7" width="3.4" height="3.4" fill="#474747" rx="0.3"/><text x="767.15" y="911.35" font-size="2.7" fill="#d8d8d8" text-anchor="middle">X</text><text x="769.95" y="911.45" font-size="3" fill="#e0e0e0">0</text><rect x="780.05" y="908.2" width="5" height="4.4" fill="#363636" rx="0.4"/><circle cx="782.85" cy="910.4" r="0.65" fill="#84E4E7"/><path d="M784.85 910.4 L789.65 910.4" stroke="#84E4E7" stroke-width="0.8" stroke-opacity="0.7"/><rect x="830.9" y="863.1" width="15" height="4.8" fill="#353535" rx="0.4"/><rect x="831.8" y="863.8" width="3.4" height="3.4" fill="#474747" rx="0.3"/><text x="833.5" y="866.45" font-size="2.7" fill="#d8d8d8" text-anchor="middle">X</text><text x="836.3" y="866.55" font-size="3" fill="#e0e0e0">25.5</text><rect x="846.4" y="863.3" width="5" height="4.4" fill="#363636" rx="0.4"/><circle cx="849.2" cy="865.5" r="0.65" fill="#84E4E7"/><path d="M851.2 865.5 L856 865.5" stroke="#84E4E7" stroke-width="0.8" stroke-opacity="0.7"/><rect x="763.3" y="1003.6" width="15" height="4.8" fill="#353535" rx="0.4"/><rect x="764.2" y="1004.3" width="3.4" height="3.4" fill="#474747" rx="0.3"/><text x="765.9" y="1006.95" font-size="2.7" fill="#d8d8d8" text-anchor="middle">X</text><text x="768.7" y="1007.05" font-size="3" fill="#e0e0e0">1</text><rect x="778.8" y="1003.8" width="5" height="4.4" fill="#363636" rx="0.4"/><circle cx="781.6" cy="1006" r="0.65" fill="#84E4E7"/><path d="M783.6 1006 L788.4 1006" stroke="#84E4E7" stroke-width="0.8" stroke-opacity="0.7"/><rect x="763.3" y="1010.1" width="15" height="4.8" fill="#353535" rx="0.4"/><rect x="764.2" y="1010.8" width="3.4" height="3.4" fill="#474747" rx="0.3"/><text x="765.9" y="1013.45" font-size="2.7" fill="#d8d8d8" text-anchor="middle">X</text><text x="768.7" y="1013.55" font-size="3" fill="#e0e0e0">0</text><rect x="778.8" y="1010.3" width="5" height="4.4" fill="#363636" rx="0.4"/><circle cx="781.6" cy="1012.5" r="0.65" fill="#84E4E7"/><path d="M783.6 1012.5 L788.4 1012.5" stroke="#84E4E7" stroke-width="0.8" stroke-opacity="0.7"/><rect x="830.9" y="965" width="15" height="4.8" fill="#353535" rx="0.4"/><rect x="831.8" y="965.7" width="3.4" height="3.4" fill="#474747" rx="0.3"/><text x="833.5" y="968.35" font-size="2.7" fill="#d8d8d8" text-anchor="middle">X</text><text x="836.3" y="968.45" font-size="3" fill="#e0e0e0">25.5</text><rect x="846.4" y="965.2" width="5" height="4.4" fill="#363636" rx="0.4"/><circle cx="849.2" cy="967.4" r="0.65" fill="#84E4E7"/><path d="M851.2 967.4 L856 967.4" stroke="#84E4E7" stroke-width="0.8" stroke-opacity="0.7"/><rect x="763.3" y="1105.5" width="15" height="4.8" fill="#353535" rx="0.4"/><rect x="764.2" y="1106.2" width="3.4" height="3.4" fill="#474747" rx="0.3"/><text x="765.9" y="1108.85" font-size="2.7" fill="#d8d8d8" text-anchor="middle">X</text><text x="768.7" y="1108.95" font-size="3" fill="#e0e0e0">1</text><rect x="778.8" y="1105.7" width="5" height="4.4" fill="#363636" rx="0.4"/><circle cx="781.6" cy="1107.9" r="0.65" fill="#84E4E7"/><path d="M783.6 1107.9 L788.4 1107.9" stroke="#84E4E7" stroke-width="0.8" stroke-opacity="0.7"/><rect x="763.3" y="1112" width="15" height="4.8" fill="#353535" rx="0.4"/><rect x="764.2" y="1112.7" width="3.4" height="3.4" fill="#474747" rx="0.3"/><text x="765.9" y="1115.35" font-size="2.7" fill="#d8d8d8" text-anchor="middle">X</text><text x="768.7" y="1115.45" font-size="3" fill="#e0e0e0">0</text><rect x="778.8" y="1112.2" width="5" height="4.4" fill="#363636" rx="0.4"/><circle cx="781.6" cy="1114.4" r="0.65" fill="#84E4E7"/><path d="M783.6 1114.4 L788.4 1114.4" stroke="#84E4E7" stroke-width="0.8" stroke-opacity="0.7"/><rect x="830.9" y="1066.8" width="15" height="4.8" fill="#353535" rx="0.4"/><rect x="831.8" y="1067.5" width="3.4" height="3.4" fill="#474747" rx="0.3"/><text x="833.5" y="1070.15" font-size="2.7" fill="#d8d8d8" text-anchor="middle">X</text><text x="836.3" y="1070.25" font-size="3" fill="#e0e0e0">25.5</text><rect x="846.4" y="1067" width="5" height="4.4" fill="#363636" rx="0.4"/><circle cx="849.2" cy="1069.2" r="0.65" fill="#84E4E7"/><path d="M851.2 1069.2 L856 1069.2" stroke="#84E4E7" stroke-width="0.8" stroke-opacity="0.7"/><rect x="763.3" y="1207.3" width="15" height="4.8" fill="#353535" rx="0.4"/><rect x="764.2" y="1208" width="3.4" height="3.4" fill="#474747" rx="0.3"/><text x="765.9" y="1210.65" font-size="2.7" fill="#d8d8d8" text-anchor="middle">X</text><text x="768.7" y="1210.75" font-size="3" fill="#e0e0e0">1</text><rect x="778.8" y="1207.5" width="5" height="4.4" fill="#363636" rx="0.4"/><circle cx="781.6" cy="1209.7" r="0.65" fill="#84E4E7"/><path d="M783.6 1209.7 L788.4 1209.7" stroke="#84E4E7" stroke-width="0.8" stroke-opacity="0.7"/><rect x="763.3" y="1213.8" width="15" height="4.8" fill="#353535" rx="0.4"/><rect x="764.2" y="1214.5" width="3.4" height="3.4" fill="#474747" rx="0.3"/><text x="765.9" y="1217.15" font-size="2.7" fill="#d8d8d8" text-anchor="middle">X</text><text x="768.7" y="1217.25" font-size="3" fill="#e0e0e0">0</text><rect x="778.8" y="1214" width="5" height="4.4" fill="#363636" rx="0.4"/><circle cx="781.6" cy="1216.2" r="0.65" fill="#84E4E7"/><path d="M783.6 1216.2 L788.4 1216.2" stroke="#84E4E7" stroke-width="0.8" stroke-opacity="0.7"/><rect x="830.9" y="1168.7" width="15" height="4.8" fill="#353535" rx="0.4"/><rect x="831.8" y="1169.4" width="3.4" height="3.4" fill="#474747" rx="0.3"/><text x="833.5" y="1172.05" font-size="2.7" fill="#d8d8d8" text-anchor="middle">X</text><text x="836.3" y="1172.15" font-size="3" fill="#e0e0e0">25.5</text><rect x="846.4" y="1168.9" width="5" height="4.4" fill="#363636" rx="0.4"/><circle cx="849.2" cy="1171.1" r="0.65" fill="#84E4E7"/><path d="M851.2 1171.1 L856 1171.1" stroke="#84E4E7" stroke-width="0.8" stroke-opacity="0.7"/><rect x="891.8" y="1162.2" width="15" height="4.8" fill="#353535" rx="0.4"/><rect x="892.7" y="1162.9" width="3.4" height="3.4" fill="#474747" rx="0.3"/><text x="894.4" y="1165.55" font-size="2.7" fill="#d8d8d8" text-anchor="middle">X</text><text x="897.2" y="1165.65" font-size="3" fill="#e0e0e0">0</text><rect x="907.3" y="1162.4" width="5" height="4.4" fill="#363636" rx="0.4"/><circle cx="910.1" cy="1164.6" r="0.65" fill="#84E4E7"/><path d="M912.1 1164.6 L916.9 1164.6" stroke="#84E4E7" stroke-width="0.8" stroke-opacity="0.7"/><rect x="1199.5" y="653.6" width="18" height="4.6" fill="#2c2c2c" rx="0.4"/><rect x="1199.5" y="653.9" width="12.2" height="4" fill="#4d4d4d" rx="0.4"/><text x="1200.7" y="656.9" font-size="2.8" fill="#e2e2e2">UV0</text><path d="M1209.3 655.4 l1.4 0 l-0.7 1 z" fill="#d0d0d0"/><circle cx="1215.3" cy="655.9" r="0.65" fill="#9AEF92"/><path d="M1217.3 655.9 L1222.1 655.9" stroke="#9AEF92" stroke-width="0.8" stroke-opacity="0.7"/><rect x="1199.8" y="768.7" width="18" height="4.6" fill="#2c2c2c" rx="0.4"/><rect x="1199.8" y="769" width="12.2" height="4" fill="#4d4d4d" rx="0.4"/><text x="1201" y="772" font-size="2.8" fill="#e2e2e2">UV0</text><path d="M1209.6 770.5 l1.4 0 l-0.7 1 z" fill="#d0d0d0"/><circle cx="1215.6" cy="771" r="0.65" fill="#9AEF92"/><path d="M1217.6 771 L1222.4 771" stroke="#9AEF92" stroke-width="0.8" stroke-opacity="0.7"/><rect x="1077.55" y="768.25" width="15" height="4.8" fill="#353535" rx="0.4"/><rect x="1078.45" y="768.95" width="3.4" height="3.4" fill="#474747" rx="0.3"/><text x="1080.15" y="771.6" font-size="2.7" fill="#d8d8d8" text-anchor="middle">X</text><text x="1082.95" y="771.7" font-size="3" fill="#e0e0e0">26</text><rect x="1093.05" y="768.45" width="5" height="4.4" fill="#363636" rx="0.4"/><circle cx="1095.85" cy="770.65" r="0.65" fill="#84E4E7"/><path d="M1097.85 770.65 L1102.65 770.65" stroke="#84E4E7" stroke-width="0.8" stroke-opacity="0.7"/><rect x="1487.1" y="607.9" width="26.9" height="4.6" fill="#2c2c2c" rx="0.4"/><rect x="1487.1" y="608.2" width="21.1" height="4" fill="#4d4d4d" rx="0.4"/><text x="1488.3" y="611.2" font-size="2.8" fill="#e2e2e2">Object Space</text><path d="M1505.8 609.7 l1.4 0 l-0.7 1 z" fill="#d0d0d0"/><circle cx="1511.8" cy="610.2" r="0.65" fill="#F6FF9A"/><path d="M1513.8 610.2 L1518.2 610.2" stroke="#F6FF9A" stroke-width="0.8" stroke-opacity="0.7"/><rect x="1487.1" y="619.25" width="26.9" height="4.6" fill="#2c2c2c" rx="0.4"/><rect x="1487.1" y="619.55" width="21.1" height="4" fill="#4d4d4d" rx="0.4"/><text x="1488.3" y="622.55" font-size="2.8" fill="#e2e2e2">Object Space</text><path d="M1505.8 621.05 l1.4 0 l-0.7 1 z" fill="#d0d0d0"/><circle cx="1511.8" cy="621.55" r="0.65" fill="#F6FF9A"/><path d="M1513.8 621.55 L1518.2 621.55" stroke="#F6FF9A" stroke-width="0.8" stroke-opacity="0.7"/><rect x="1494.3" y="662.14" width="14.2" height="4.8" fill="#353535" rx="0.4"/><rect x="1495.2" y="662.84" width="3.4" height="3.4" fill="#474747" rx="0.3"/><text x="1496.9" y="665.49" font-size="2.7" fill="#d8d8d8" text-anchor="middle">X</text><text x="1499.7" y="665.59" font-size="3" fill="#e0e0e0">0</text><rect x="1509" y="662.34" width="5" height="4.4" fill="#363636" rx="0.4"/><circle cx="1511.8" cy="664.54" r="0.65" fill="#84E4E7"/><path d="M1513.8 664.54 L1518.2 664.54" stroke="#84E4E7" stroke-width="0.8" stroke-opacity="0.7"/><rect x="1494.3" y="673.43" width="14.2" height="4.8" fill="#353535" rx="0.4"/><rect x="1495.2" y="674.13" width="3.4" height="3.4" fill="#474747" rx="0.3"/><text x="1496.9" y="676.78" font-size="2.7" fill="#d8d8d8" text-anchor="middle">X</text><text x="1499.7" y="676.88" font-size="3" fill="#e0e0e0">0.24</text><rect x="1509" y="673.63" width="5" height="4.4" fill="#363636" rx="0.4"/><circle cx="1511.8" cy="675.83" r="0.65" fill="#84E4E7"/><path d="M1513.8 675.83 L1518.2 675.83" stroke="#84E4E7" stroke-width="0.8" stroke-opacity="0.7"/><rect x="1496" y="684.82" width="18" height="4.6" fill="#2c2c2c" rx="0.4"/><rect x="1497.8" y="685.12" width="10.8" height="4" fill="#000"/><text x="1503.2" y="687.92" font-size="1.9" fill="#aaa" text-anchor="middle">HDR</text><circle cx="1511.8" cy="687.12" r="0.6" fill="#F6FF9A"/><path d="M1513.8 687.12 L1518.2 687.12" stroke="#F6FF9A" stroke-width="0.8" stroke-opacity="0.7"/><rect x="1494.3" y="696.01" width="14.2" height="4.8" fill="#353535" rx="0.4"/><rect x="1495.2" y="696.71" width="3.4" height="3.4" fill="#474747" rx="0.3"/><text x="1496.9" y="699.36" font-size="2.7" fill="#d8d8d8" text-anchor="middle">X</text><text x="1499.7" y="699.46" font-size="3" fill="#e0e0e0">1</text><rect x="1509" y="696.21" width="5" height="4.4" fill="#363636" rx="0.4"/><circle cx="1511.8" cy="698.41" r="0.65" fill="#84E4E7"/><path d="M1513.8 698.41 L1518.2 698.41" stroke="#84E4E7" stroke-width="0.8" stroke-opacity="0.7"/><rect x="1494.3" y="718.59" width="14.2" height="4.8" fill="#353535" rx="0.4"/><rect x="1495.2" y="719.29" width="3.4" height="3.4" fill="#474747" rx="0.3"/><text x="1496.9" y="721.94" font-size="2.7" fill="#d8d8d8" text-anchor="middle">X</text><text x="1499.7" y="722.04" font-size="3" fill="#e0e0e0">0.5</text><rect x="1509" y="718.79" width="5" height="4.4" fill="#363636" rx="0.4"/><circle cx="1511.8" cy="720.99" r="0.65" fill="#84E4E7"/><path d="M1513.8 720.99 L1518.2 720.99" stroke="#84E4E7" stroke-width="0.8" stroke-opacity="0.7"/><rect x="1484.8" y="729.98" width="29.2" height="4.6" fill="#2c2c2c" rx="0.4"/><rect x="1484.8" y="730.28" width="23.4" height="4" fill="#4d4d4d" rx="0.4"/><text x="1486" y="733.28" font-size="2.8" fill="#e2e2e2">Tangent Space</text><path d="M1505.8 731.78 l1.4 0 l-0.7 1 z" fill="#d0d0d0"/><circle cx="1511.8" cy="732.28" r="0.65" fill="#F6FF9A"/><path d="M1513.8 732.28 L1518.2 732.28" stroke="#F6FF9A" stroke-width="0.8" stroke-opacity="0.7"/></g></svg></body></html>
